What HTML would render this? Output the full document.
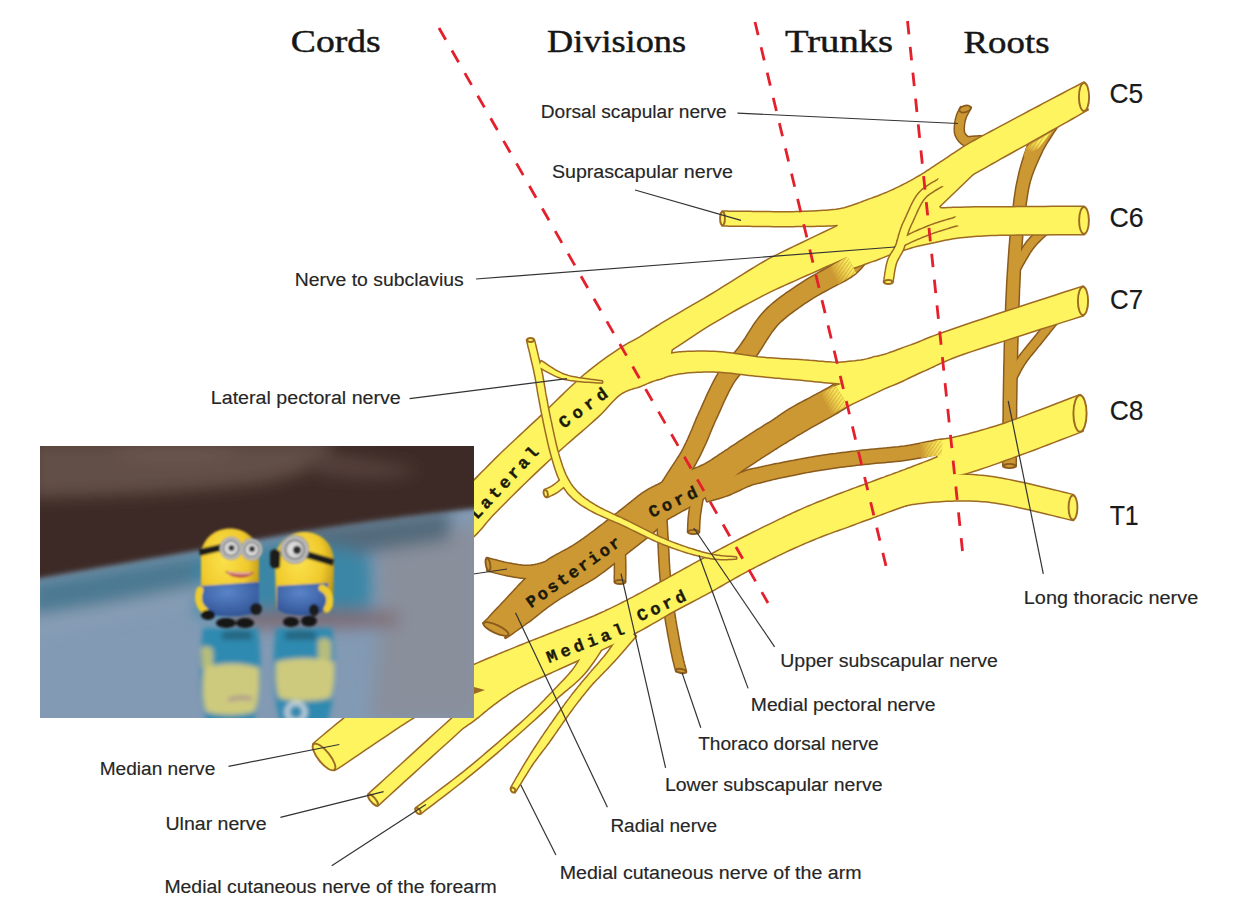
<!DOCTYPE html>
<html><head><meta charset="utf-8"><style>
html,body{margin:0;padding:0;background:#fff;}
svg{display:block;}
</style></head><body>
<svg width="1242" height="922" viewBox="0 0 1242 922">
<rect width="1242" height="922" fill="#fff"/>
<path d="M1032.9,127.2 L1039.8,114.4 L1039.2,116.1 L1038.5,118.1 L1037.6,120.4 L1036.6,122.9 L1035.5,125.6 L1034.4,128.4 L1033.3,131.3 L1032.2,134.3 L1031.1,137.2 L1030.0,140.2 L1029.1,143.1 L1028.1,145.8 L1027.1,148.5 L1026.2,151.3 L1025.2,154.1 L1024.2,157.0 L1023.3,160.0 L1022.4,163.0 L1021.5,166.0 L1020.6,169.1 L1019.8,172.2 L1019.1,175.4 L1018.4,178.6 L1017.7,181.9 L1017.0,185.1 L1016.4,188.3 L1015.9,191.6 L1015.4,194.9 L1014.9,198.2 L1014.5,201.6 L1014.1,205.0 L1013.7,208.5 L1013.3,212.1 L1012.9,215.7 L1012.5,219.4 L1012.1,223.2 L1011.7,227.1 L1011.3,231.0 L1010.9,235.1 L1010.5,239.2 L1010.2,243.3 L1009.8,247.5 L1009.5,251.8 L1009.2,256.2 L1008.9,260.6 L1008.6,265.1 L1008.3,269.7 L1008.0,274.3 L1007.7,279.0 L1007.4,283.8 L1007.2,288.6 L1007.0,293.5 L1006.7,298.5 L1006.5,303.6 L1006.3,308.7 L1006.1,313.9 L1005.9,319.1 L1005.7,324.4 L1005.5,329.8 L1005.3,335.3 L1005.2,341.0 L1005.0,346.7 L1004.9,352.6 L1004.8,358.5 L1004.6,364.5 L1004.5,370.5 L1004.4,376.5 L1004.3,382.4 L1004.2,388.3 L1004.1,394.2 L1004.0,399.9 L1003.9,405.8 L1003.9,411.9 L1003.8,418.3 L1003.7,424.7 L1003.7,431.1 L1003.7,437.3 L1003.6,443.3 L1003.6,449.0 L1003.6,454.2 L1003.5,458.8 L1003.5,462.8 L1003.5,466.0 L1015.5,466.0 L1015.5,462.9 L1015.5,458.9 L1015.6,454.3 L1015.6,449.1 L1015.6,443.4 L1015.7,437.4 L1015.7,431.2 L1015.7,424.8 L1015.8,418.4 L1015.9,412.1 L1015.9,405.9 L1016.0,400.1 L1016.1,394.4 L1016.2,388.5 L1016.3,382.7 L1016.4,376.7 L1016.5,370.7 L1016.6,364.8 L1016.8,358.8 L1016.9,352.9 L1017.0,347.0 L1017.2,341.3 L1017.3,335.7 L1017.5,330.2 L1017.6,324.8 L1017.8,319.5 L1018.0,314.3 L1018.1,309.1 L1018.3,304.0 L1018.5,299.0 L1018.7,294.0 L1018.8,289.2 L1019.1,284.3 L1019.3,279.6 L1019.5,274.9 L1019.7,270.3 L1020.0,265.8 L1020.3,261.3 L1020.5,256.9 L1020.8,252.6 L1021.1,248.4 L1021.4,244.2 L1021.7,240.1 L1022.0,236.0 L1022.4,232.1 L1022.7,228.2 L1023.1,224.4 L1023.5,220.6 L1023.9,216.9 L1024.3,213.3 L1024.7,209.8 L1025.2,206.4 L1025.6,203.0 L1026.1,199.8 L1026.6,196.6 L1027.1,193.4 L1027.6,190.4 L1028.2,187.3 L1028.9,184.3 L1029.6,181.4 L1030.5,178.5 L1031.4,175.6 L1032.4,172.8 L1033.5,170.0 L1034.6,167.3 L1035.7,164.5 L1036.9,161.9 L1038.1,159.2 L1039.3,156.6 L1040.5,154.0 L1041.7,151.4 L1042.9,148.9 L1044.3,146.5 L1045.7,144.1 L1047.2,141.6 L1048.8,139.1 L1050.4,136.6 L1052.0,134.1 L1053.5,131.8 L1055.0,129.6 L1056.4,127.6 L1057.7,125.8 L1058.8,124.3 L1067.1,108.8 Z" fill="#8a5b1c" stroke="#8a5b1c" stroke-width="3.0" stroke-linejoin="round"/>
<path d="M1044.2,225.1 L1043.4,225.9 L1042.4,226.8 L1041.2,228.0 L1039.8,229.2 L1038.3,230.6 L1036.6,232.2 L1034.9,233.8 L1033.2,235.4 L1031.5,237.2 L1029.9,238.9 L1028.3,240.7 L1026.8,242.5 L1025.4,244.5 L1024.0,246.5 L1022.6,248.7 L1021.2,251.0 L1019.8,253.3 L1018.5,255.6 L1017.2,257.8 L1016.0,259.9 L1015.0,261.8 L1014.0,263.5 L1013.2,264.9 L1012.6,266.0 L1019.4,270.0 L1020.1,268.9 L1021.0,267.4 L1021.9,265.7 L1023.0,263.8 L1024.2,261.7 L1025.4,259.6 L1026.7,257.4 L1028.0,255.2 L1029.3,253.0 L1030.7,251.0 L1031.9,249.1 L1033.2,247.5 L1034.4,245.9 L1035.8,244.3 L1037.3,242.7 L1038.9,241.1 L1040.5,239.5 L1042.1,238.0 L1043.7,236.5 L1045.2,235.1 L1046.6,233.9 L1047.8,232.7 L1048.9,231.7 L1049.8,230.9 Z" fill="#8a5b1c" stroke="#8a5b1c" stroke-width="3.0" stroke-linejoin="round"/>
<path d="M1050.9,317.5 L1050.1,318.5 L1049.1,319.7 L1048.0,321.1 L1046.7,322.7 L1045.3,324.4 L1043.9,326.3 L1042.4,328.2 L1040.8,330.1 L1039.3,332.0 L1037.7,333.9 L1036.3,335.8 L1034.9,337.5 L1033.5,339.2 L1032.2,340.8 L1030.8,342.5 L1029.3,344.3 L1027.9,346.0 L1026.5,347.7 L1025.1,349.4 L1023.7,351.1 L1022.4,352.8 L1021.1,354.5 L1019.9,356.1 L1018.7,357.7 L1017.6,359.3 L1016.6,361.0 L1015.6,362.6 L1014.7,364.3 L1013.8,365.8 L1013.0,367.4 L1012.2,368.8 L1011.5,370.2 L1010.9,371.4 L1010.3,372.5 L1009.9,373.4 L1009.5,374.1 L1016.5,377.9 L1016.9,377.1 L1017.5,376.1 L1018.0,375.0 L1018.6,373.8 L1019.3,372.5 L1020.0,371.1 L1020.8,369.7 L1021.6,368.2 L1022.5,366.7 L1023.4,365.2 L1024.3,363.7 L1025.3,362.3 L1026.3,360.8 L1027.4,359.3 L1028.7,357.7 L1029.9,356.1 L1031.3,354.5 L1032.7,352.8 L1034.1,351.1 L1035.5,349.4 L1036.9,347.6 L1038.3,345.9 L1039.7,344.2 L1041.1,342.5 L1042.5,340.8 L1044.0,338.9 L1045.5,337.0 L1047.0,335.1 L1048.6,333.2 L1050.1,331.2 L1051.6,329.4 L1053.0,327.7 L1054.2,326.1 L1055.4,324.7 L1056.4,323.5 L1057.1,322.5 Z" fill="#8a5b1c" stroke="#8a5b1c" stroke-width="3.0" stroke-linejoin="round"/>
<path d="M995.8,135.8 L994.8,135.8 L993.5,135.9 L991.9,136.0 L990.2,136.1 L988.4,136.2 L986.4,136.3 L984.4,136.4 L982.5,136.5 L980.6,136.6 L978.8,136.6 L977.2,136.7 L975.8,136.8 L974.5,136.8 L973.4,136.9 L972.3,137.0 L971.3,137.1 L970.5,137.2 L969.8,137.3 L969.2,137.3 L968.8,137.3 L968.4,137.3 L968.2,137.3 L967.9,137.2 L967.7,137.1 L967.4,137.0 L967.1,136.8 L966.8,136.5 L966.4,136.2 L966.1,135.8 L965.7,135.4 L965.3,134.9 L965.0,134.4 L964.7,133.9 L964.4,133.4 L964.1,132.9 L964.0,132.4 L963.8,132.1 L963.7,131.7 L963.6,131.2 L963.6,130.7 L963.5,130.2 L963.5,129.6 L963.5,128.9 L963.5,128.3 L963.6,127.6 L963.6,126.8 L963.7,126.1 L963.7,125.4 L963.8,124.7 L963.9,124.1 L964.0,123.4 L964.1,122.7 L964.2,122.0 L964.4,121.3 L964.6,120.6 L964.7,120.0 L964.9,119.3 L965.1,118.6 L965.3,118.0 L965.5,117.4 L965.7,116.9 L965.9,116.3 L966.2,115.8 L966.5,115.2 L966.8,114.6 L967.1,114.0 L967.4,113.4 L967.7,112.8 L968.0,112.3 L968.3,111.8 L968.6,111.3 L970.6,107.5 L959.4,110.5 L961.1,107.3 L960.9,107.7 L960.6,108.1 L960.3,108.7 L960.0,109.3 L959.6,109.9 L959.3,110.6 L958.9,111.4 L958.5,112.1 L958.1,112.9 L957.8,113.8 L957.5,114.6 L957.2,115.4 L957.0,116.1 L956.8,116.9 L956.5,117.8 L956.3,118.6 L956.1,119.4 L955.9,120.3 L955.7,121.1 L955.6,122.0 L955.5,122.9 L955.4,123.8 L955.3,124.6 L955.2,125.4 L955.1,126.2 L955.1,127.0 L955.0,127.9 L955.0,128.8 L955.0,129.7 L955.0,130.6 L955.1,131.6 L955.2,132.6 L955.4,133.6 L955.7,134.6 L956.0,135.6 L956.4,136.5 L956.9,137.3 L957.4,138.2 L957.9,139.1 L958.5,139.9 L959.1,140.7 L959.8,141.5 L960.6,142.3 L961.4,143.1 L962.3,143.7 L963.2,144.4 L964.3,144.9 L965.4,145.3 L966.5,145.6 L967.5,145.7 L968.6,145.8 L969.5,145.8 L970.5,145.7 L971.3,145.7 L972.2,145.6 L973.1,145.5 L974.1,145.4 L975.1,145.3 L976.2,145.2 L977.6,145.2 L979.2,145.1 L981.0,145.0 L982.9,144.9 L984.9,144.8 L986.8,144.7 L988.8,144.6 L990.7,144.5 L992.4,144.4 L993.9,144.4 L995.2,144.3 L996.2,144.2 Z" fill="#8a5b1c" stroke="#8a5b1c" stroke-width="3.0" stroke-linejoin="round"/>
<path d="M849.6,250.3 L848.9,251.1 L848.1,252.2 L847.5,253.1 L847.0,253.9 L846.4,254.6 L845.9,255.4 L845.2,256.2 L844.5,257.0 L843.6,257.9 L842.5,258.9 L841.2,260.0 L839.7,261.1 L837.8,262.4 L835.6,263.8 L832.9,265.3 L830.1,266.9 L826.9,268.6 L823.7,270.4 L820.3,272.3 L816.8,274.2 L813.3,276.2 L809.8,278.2 L806.4,280.3 L803.1,282.4 L800.0,284.5 L796.8,286.6 L793.6,288.7 L790.4,290.9 L787.2,293.1 L783.9,295.4 L780.7,297.7 L777.5,300.2 L774.4,302.7 L771.4,305.3 L768.4,307.9 L765.6,310.7 L762.8,313.7 L760.3,316.7 L757.9,319.8 L755.6,322.9 L753.5,326.1 L751.5,329.2 L749.6,332.2 L747.8,335.1 L746.0,338.0 L744.2,340.7 L742.5,343.2 L740.8,345.6 L739.1,347.9 L737.3,350.1 L735.6,352.2 L733.8,354.3 L732.0,356.4 L730.1,358.5 L728.2,360.7 L726.3,363.0 L724.4,365.4 L722.5,367.9 L720.6,370.6 L718.8,373.5 L717.0,376.5 L715.2,379.7 L713.5,382.9 L711.8,386.3 L710.2,389.7 L708.6,393.0 L707.0,396.4 L705.6,399.7 L704.1,402.9 L702.8,405.9 L701.5,408.8 L700.3,411.5 L699.1,414.0 L698.0,416.5 L696.9,418.9 L696.0,421.2 L695.1,423.4 L694.2,425.5 L693.4,427.5 L692.6,429.5 L691.8,431.3 L691.0,433.1 L690.3,434.8 L689.5,436.5 L688.8,438.2 L688.1,439.8 L687.4,441.2 L686.8,442.6 L686.1,444.0 L685.5,445.2 L684.9,446.5 L684.3,447.7 L683.7,449.0 L683.0,450.2 L682.3,451.5 L681.6,452.9 L680.8,454.2 L679.9,455.5 L679.1,456.9 L678.2,458.2 L677.3,459.6 L676.4,461.0 L675.4,462.5 L674.4,464.0 L673.4,465.5 L672.4,467.1 L671.3,468.7 L670.3,470.4 L669.1,472.1 L667.9,474.0 L666.6,476.0 L665.3,478.1 L664.0,480.2 L662.6,482.3 L661.3,484.3 L660.1,486.2 L659.0,488.0 L658.0,489.6 L657.1,490.9 L656.4,491.9 L673.6,502.1 L674.2,501.0 L674.9,499.5 L675.8,497.9 L676.8,496.0 L677.9,494.1 L679.0,491.9 L680.2,489.8 L681.4,487.6 L682.5,485.4 L683.7,483.4 L684.7,481.4 L685.7,479.6 L686.6,478.0 L687.6,476.5 L688.5,474.9 L689.4,473.4 L690.3,471.9 L691.2,470.3 L692.1,468.8 L693.0,467.3 L693.9,465.8 L694.7,464.3 L695.6,462.7 L696.4,461.1 L697.3,459.6 L698.0,458.2 L698.8,456.8 L699.5,455.4 L700.2,454.0 L700.8,452.6 L701.5,451.2 L702.2,449.8 L702.8,448.3 L703.5,446.8 L704.3,445.2 L705.1,443.5 L705.9,441.6 L706.7,439.8 L707.5,437.9 L708.3,435.9 L709.1,434.0 L709.9,432.0 L710.8,429.9 L711.6,427.8 L712.6,425.6 L713.5,423.4 L714.6,421.0 L715.7,418.5 L717.0,415.8 L718.3,412.9 L719.7,409.8 L721.1,406.7 L722.5,403.4 L724.0,400.2 L725.5,397.0 L727.1,393.8 L728.6,390.7 L730.2,387.8 L731.7,385.0 L733.2,382.5 L734.7,380.2 L736.3,378.1 L737.9,376.1 L739.6,374.1 L741.3,372.1 L743.2,370.1 L745.0,368.1 L747.0,366.0 L749.0,363.8 L751.0,361.5 L753.1,359.1 L755.2,356.4 L757.3,353.6 L759.2,350.6 L761.2,347.7 L763.0,344.7 L764.9,341.8 L766.7,338.8 L768.6,336.0 L770.4,333.2 L772.3,330.5 L774.3,328.0 L776.3,325.6 L778.4,323.3 L780.7,321.0 L783.2,318.8 L785.9,316.6 L788.6,314.3 L791.5,312.2 L794.4,310.0 L797.5,307.9 L800.5,305.7 L803.6,303.6 L806.8,301.6 L809.9,299.5 L812.9,297.6 L815.9,295.7 L819.0,293.9 L822.2,292.1 L825.6,290.3 L829.0,288.5 L832.3,286.7 L835.7,285.0 L838.9,283.3 L842.0,281.7 L845.0,280.1 L847.7,278.5 L850.3,276.9 L852.6,275.3 L854.7,273.8 L856.5,272.2 L858.1,270.7 L859.5,269.3 L860.8,268.0 L861.8,266.7 L862.7,265.7 L863.4,264.8 L863.9,264.2 L864.1,264.0 L864.4,263.7 Z" fill="#8a5b1c" stroke="#8a5b1c" stroke-width="3.0" stroke-linejoin="round"/>
<path d="M854.5,369.6 L853.4,370.5 L852.0,371.5 L850.6,372.7 L849.1,373.9 L847.5,375.2 L845.8,376.6 L844.0,378.0 L842.0,379.5 L840.0,381.0 L837.8,382.5 L835.6,384.0 L833.3,385.4 L830.7,387.0 L827.7,388.7 L824.3,390.6 L820.8,392.6 L817.0,394.6 L813.2,396.6 L809.4,398.7 L805.6,400.7 L802.0,402.6 L798.5,404.4 L795.3,406.2 L792.5,407.8 L790.0,409.2 L787.9,410.6 L785.9,411.8 L784.2,412.9 L782.6,414.0 L781.2,415.0 L779.9,415.9 L778.6,416.8 L777.4,417.7 L776.1,418.6 L774.8,419.5 L773.3,420.4 L771.8,421.4 L770.2,422.4 L768.6,423.4 L767.0,424.3 L765.4,425.3 L763.8,426.3 L762.1,427.4 L760.5,428.4 L758.7,429.5 L756.9,430.6 L755.1,431.8 L753.2,433.0 L751.3,434.2 L749.3,435.5 L747.2,436.9 L745.1,438.3 L743.0,439.7 L740.8,441.1 L738.6,442.5 L736.5,444.0 L734.3,445.4 L732.1,446.8 L730.0,448.3 L728.0,449.7 L725.8,451.0 L723.7,452.4 L721.7,453.8 L719.7,455.1 L717.7,456.4 L715.7,457.7 L713.8,459.0 L712.0,460.2 L710.1,461.4 L708.3,462.5 L706.6,463.5 L704.9,464.5 L703.1,465.4 L701.3,466.2 L699.5,467.0 L697.7,467.8 L695.8,468.5 L694.0,469.3 L692.2,470.0 L690.3,470.8 L688.4,471.5 L686.5,472.3 L684.6,473.0 L682.6,473.8 L680.8,474.6 L679.0,475.5 L677.1,476.3 L675.1,477.2 L673.2,478.1 L671.2,478.9 L669.3,479.8 L667.4,480.6 L665.5,481.5 L663.6,482.3 L661.8,483.1 L660.1,483.9 L658.7,484.7 L657.3,485.3 L656.0,485.9 L654.8,486.5 L653.5,487.2 L652.2,487.8 L650.9,488.5 L649.5,489.2 L648.1,490.0 L646.7,490.9 L645.3,491.8 L643.8,492.8 L642.2,493.8 L640.7,494.9 L639.3,496.0 L638.0,497.0 L636.8,497.9 L635.7,498.9 L634.6,499.7 L633.5,500.6 L632.4,501.5 L631.2,502.5 L629.9,503.5 L628.3,504.7 L626.6,506.1 L624.6,507.7 L622.4,509.4 L620.1,511.2 L617.8,513.1 L615.3,515.0 L612.8,516.9 L610.3,518.9 L607.8,520.8 L605.4,522.7 L603.0,524.6 L600.7,526.3 L598.4,528.0 L596.2,529.7 L594.0,531.4 L591.8,533.0 L589.6,534.6 L587.5,536.2 L585.4,537.7 L583.4,539.2 L581.4,540.6 L579.4,542.0 L577.4,543.3 L575.5,544.6 L573.6,545.7 L571.7,546.9 L569.7,548.0 L567.7,549.2 L565.5,550.4 L563.3,551.5 L561.1,552.7 L558.8,554.0 L556.5,555.2 L554.2,556.5 L551.9,557.9 L549.6,559.3 L547.6,560.7 L545.7,562.1 L543.9,563.4 L542.2,564.8 L540.4,566.1 L538.7,567.5 L537.0,568.8 L535.4,570.2 L533.7,571.6 L532.0,573.0 L530.4,574.5 L528.6,576.0 L526.9,577.7 L525.2,579.4 L523.5,581.1 L521.9,582.8 L520.3,584.4 L518.7,586.1 L517.2,587.8 L515.6,589.4 L514.1,591.1 L512.5,592.7 L511.0,594.4 L509.4,596.0 L507.7,597.9 L505.8,600.0 L503.7,602.2 L501.6,604.4 L499.5,606.7 L497.4,608.9 L495.3,611.1 L493.4,613.1 L491.6,615.1 L490.1,616.8 L488.8,618.3 L483.6,623.3 L508.4,634.7 L505.6,637.6 L507.3,636.5 L509.2,635.2 L511.4,633.7 L513.7,632.1 L516.1,630.4 L518.6,628.6 L521.2,626.7 L523.7,624.9 L526.1,623.1 L528.5,621.5 L530.6,620.0 L532.6,618.4 L534.6,616.8 L536.5,615.3 L538.3,613.9 L540.1,612.4 L541.8,611.1 L543.5,609.7 L545.1,608.5 L546.7,607.3 L548.3,606.1 L549.8,605.0 L551.4,604.0 L552.9,602.8 L554.5,601.8 L556.0,600.7 L557.5,599.7 L559.0,598.7 L560.5,597.8 L562.1,596.8 L563.6,595.9 L565.2,594.9 L566.9,593.9 L568.6,592.9 L570.4,591.9 L572.0,590.9 L573.8,589.8 L575.6,588.7 L577.6,587.5 L579.7,586.3 L581.9,585.1 L584.2,583.8 L586.6,582.4 L589.0,581.0 L591.5,579.5 L594.0,577.9 L596.5,576.2 L598.9,574.6 L601.2,572.9 L603.5,571.2 L605.8,569.5 L608.0,567.8 L610.2,566.0 L612.4,564.3 L614.6,562.6 L616.8,560.9 L618.9,559.1 L621.1,557.4 L623.3,555.7 L625.6,553.9 L628.0,552.0 L630.5,550.1 L633.1,548.1 L635.6,546.1 L638.2,544.1 L640.7,542.1 L643.1,540.2 L645.5,538.3 L647.7,536.6 L649.7,534.9 L651.7,533.3 L653.5,531.8 L655.1,530.3 L656.6,528.9 L657.9,527.6 L659.0,526.4 L660.0,525.4 L660.9,524.5 L661.7,523.7 L662.3,523.0 L662.9,522.4 L663.5,521.8 L664.2,521.2 L665.0,520.6 L665.7,520.1 L666.5,519.6 L667.2,519.1 L668.0,518.6 L668.8,518.1 L669.7,517.5 L670.7,516.9 L671.8,516.3 L673.1,515.6 L674.4,514.9 L675.9,514.1 L677.3,513.2 L678.8,512.4 L680.4,511.5 L682.1,510.5 L683.9,509.6 L685.8,508.6 L687.7,507.5 L689.6,506.5 L691.6,505.4 L693.5,504.4 L695.5,503.3 L697.4,502.2 L699.1,501.1 L700.8,499.9 L702.5,498.8 L704.3,497.7 L706.1,496.5 L707.9,495.3 L709.7,494.1 L711.5,492.9 L713.4,491.6 L715.3,490.3 L717.2,488.9 L719.1,487.5 L721.2,486.1 L723.2,484.7 L725.1,483.2 L727.1,481.8 L729.0,480.3 L730.9,478.8 L732.8,477.4 L734.6,475.9 L736.5,474.5 L738.3,473.1 L740.2,471.7 L742.0,470.3 L744.0,469.0 L746.1,467.6 L748.2,466.2 L750.3,464.8 L752.4,463.4 L754.6,462.0 L756.7,460.6 L758.8,459.2 L760.9,457.8 L762.9,456.5 L764.9,455.2 L766.8,454.0 L768.6,452.9 L770.3,451.7 L772.0,450.7 L773.7,449.6 L775.3,448.6 L777.0,447.6 L778.6,446.6 L780.2,445.6 L781.8,444.6 L783.4,443.6 L785.0,442.6 L786.7,441.6 L788.3,440.6 L789.8,439.6 L791.3,438.8 L792.6,437.9 L793.9,437.1 L795.2,436.3 L796.5,435.5 L797.9,434.6 L799.5,433.7 L801.3,432.7 L803.3,431.5 L805.5,430.2 L808.1,428.7 L811.0,427.0 L814.3,425.2 L817.9,423.2 L821.6,421.1 L825.4,419.0 L829.3,416.9 L833.1,414.7 L836.8,412.6 L840.3,410.5 L843.7,408.5 L846.7,406.6 L849.5,404.7 L852.2,402.8 L854.7,400.9 L857.1,399.0 L859.3,397.2 L861.3,395.5 L863.2,393.9 L864.9,392.5 L866.3,391.1 L867.6,390.0 L868.6,389.1 L869.5,388.4 Z" fill="#8a5b1c" stroke="#8a5b1c" stroke-width="3.0" stroke-linejoin="round"/>
<path d="M945.0,440.1 L944.5,440.1 L944.0,440.1 L943.5,440.1 L942.8,440.1 L942.1,440.2 L941.3,440.2 L940.4,440.3 L939.3,440.4 L938.2,440.6 L936.9,440.7 L935.4,440.9 L933.8,441.1 L932.0,441.5 L930.0,441.9 L927.9,442.3 L925.8,442.8 L923.5,443.3 L921.1,443.8 L918.6,444.3 L916.0,444.8 L913.3,445.3 L910.5,445.8 L907.6,446.2 L904.6,446.7 L901.5,447.1 L898.1,447.5 L894.5,447.8 L890.7,448.2 L886.8,448.6 L882.8,448.9 L878.8,449.3 L874.8,449.7 L870.7,450.1 L866.8,450.4 L863.0,450.8 L859.3,451.2 L855.7,451.7 L852.2,452.1 L848.8,452.5 L845.5,452.9 L842.1,453.3 L838.8,453.7 L835.5,454.2 L832.2,454.6 L828.9,455.1 L825.6,455.6 L822.3,456.1 L819.0,456.6 L815.5,457.1 L812.0,457.7 L808.4,458.3 L804.7,459.0 L801.1,459.6 L797.5,460.3 L794.0,461.0 L790.6,461.6 L787.3,462.2 L784.2,462.8 L781.3,463.4 L778.7,463.9 L776.3,464.3 L774.0,464.8 L772.0,465.2 L770.1,465.6 L768.4,466.0 L766.8,466.3 L765.3,466.6 L763.8,467.0 L762.4,467.3 L761.1,467.6 L759.7,467.9 L758.4,468.2 L757.1,468.5 L756.0,468.7 L754.9,468.9 L753.9,469.1 L752.9,469.3 L751.9,469.5 L750.8,469.7 L749.7,470.0 L748.5,470.3 L747.2,470.7 L745.8,471.2 L744.2,471.7 L742.6,472.4 L740.8,473.1 L738.9,473.9 L737.1,474.7 L735.2,475.5 L733.2,476.4 L731.3,477.3 L729.4,478.1 L727.5,478.9 L725.7,479.7 L724.0,480.4 L722.4,481.0 L720.7,481.6 L719.0,482.1 L717.2,482.7 L715.3,483.3 L713.4,483.9 L711.6,484.4 L709.8,484.9 L708.1,485.3 L706.6,485.8 L705.2,486.2 L703.9,486.5 L702.9,486.8 L707.1,501.2 L708.0,500.9 L709.2,500.6 L710.5,500.2 L712.1,499.8 L713.8,499.3 L715.7,498.8 L717.6,498.3 L719.6,497.7 L721.6,497.0 L723.7,496.4 L725.7,495.7 L727.6,495.0 L729.6,494.3 L731.5,493.4 L733.5,492.5 L735.5,491.6 L737.5,490.7 L739.4,489.8 L741.3,488.9 L743.1,488.0 L744.9,487.2 L746.5,486.5 L748.0,485.8 L749.4,485.3 L750.6,484.8 L751.7,484.4 L752.6,484.1 L753.5,483.8 L754.3,483.6 L755.1,483.4 L756.0,483.2 L756.9,482.9 L757.9,482.7 L759.0,482.4 L760.3,482.2 L761.6,481.8 L763.0,481.5 L764.4,481.1 L765.7,480.8 L767.0,480.4 L768.4,480.1 L769.9,479.7 L771.4,479.3 L773.1,478.9 L774.9,478.5 L776.8,478.1 L779.0,477.6 L781.3,477.1 L784.0,476.6 L786.8,476.0 L789.9,475.3 L793.1,474.7 L796.5,474.0 L800.0,473.3 L803.5,472.6 L807.1,471.9 L810.7,471.2 L814.2,470.6 L817.7,470.0 L821.0,469.4 L824.3,468.9 L827.6,468.4 L830.8,467.9 L834.0,467.5 L837.3,467.0 L840.5,466.6 L843.8,466.2 L847.1,465.8 L850.4,465.4 L853.8,465.0 L857.2,464.6 L860.7,464.2 L864.3,463.8 L868.1,463.4 L872.0,463.0 L875.9,462.6 L880.0,462.3 L884.0,461.9 L888.0,461.5 L891.9,461.2 L895.8,460.8 L899.5,460.4 L903.0,460.0 L906.4,459.5 L909.6,459.1 L912.6,458.6 L915.6,458.1 L918.4,457.6 L921.1,457.0 L923.7,456.5 L926.2,456.0 L928.5,455.5 L930.7,455.0 L932.7,454.6 L934.5,454.2 L936.2,453.9 L937.8,453.5 L939.2,453.2 L940.4,452.8 L941.5,452.6 L942.5,452.3 L943.4,452.1 L944.2,451.8 L944.8,451.6 L945.5,451.4 L946.0,451.3 L946.5,451.1 L947.0,450.9 Z" fill="#8a5b1c" stroke="#8a5b1c" stroke-width="3.0" stroke-linejoin="round"/>
<path d="M566.6,551.7 L565.6,552.3 L564.4,553.0 L563.0,553.7 L561.5,554.6 L559.9,555.5 L558.1,556.4 L556.4,557.3 L554.6,558.2 L552.8,559.1 L551.1,559.9 L549.5,560.7 L547.9,561.3 L546.4,561.9 L544.8,562.4 L543.3,562.9 L541.7,563.4 L540.2,563.9 L538.7,564.3 L537.2,564.7 L535.7,565.0 L534.3,565.4 L532.8,565.6 L531.3,565.8 L529.8,566.0 L528.3,566.0 L526.7,566.0 L525.1,566.0 L523.5,565.9 L521.8,565.7 L520.1,565.5 L518.3,565.3 L516.6,565.0 L514.8,564.7 L513.1,564.4 L511.3,564.1 L509.5,563.8 L507.8,563.5 L506.0,563.1 L504.1,562.7 L502.2,562.2 L500.3,561.8 L498.3,561.3 L496.5,560.8 L494.8,560.3 L493.1,559.9 L491.7,559.5 L490.4,559.2 L486.9,558.3 L489.1,570.7 L487.5,570.3 L488.7,570.6 L490.2,571.0 L491.8,571.4 L493.6,571.9 L495.5,572.4 L497.4,572.9 L499.5,573.4 L501.5,573.9 L503.6,574.4 L505.6,574.8 L507.5,575.2 L509.2,575.5 L511.0,575.8 L512.9,576.2 L514.7,576.5 L516.6,576.8 L518.5,577.1 L520.4,577.4 L522.3,577.6 L524.3,577.8 L526.3,577.9 L528.2,578.0 L530.2,578.0 L532.2,578.0 L534.1,577.9 L536.0,577.7 L537.8,577.5 L539.7,577.3 L541.5,577.0 L543.3,576.7 L545.0,576.3 L546.8,575.9 L548.6,575.5 L550.3,575.1 L552.1,574.7 L554.0,574.2 L556.1,573.7 L558.2,573.1 L560.3,572.5 L562.3,571.8 L564.4,571.1 L566.3,570.5 L568.1,569.9 L569.8,569.3 L571.3,568.9 L572.5,568.5 L573.4,568.3 Z" fill="#8a5b1c" stroke="#8a5b1c" stroke-width="3.0" stroke-linejoin="round"/>
<path d="M692.8,493.1 L692.7,494.1 L692.4,495.4 L692.1,496.9 L691.8,498.7 L691.5,500.5 L691.1,502.5 L690.8,504.6 L690.4,506.7 L690.1,508.7 L689.8,510.7 L689.5,512.6 L689.3,514.4 L689.1,516.1 L688.9,517.8 L688.8,519.6 L688.7,521.3 L688.6,523.0 L688.5,524.6 L688.5,526.1 L688.4,527.6 L688.4,528.9 L688.3,530.0 L688.3,531.0 L688.2,532.0 L698.8,532.0 L698.8,531.4 L698.8,530.4 L698.9,529.2 L698.9,527.9 L699.0,526.5 L699.0,525.0 L699.1,523.5 L699.2,521.9 L699.3,520.3 L699.4,518.7 L699.6,517.1 L699.7,515.6 L699.9,514.0 L700.2,512.3 L700.5,510.4 L700.8,508.4 L701.1,506.4 L701.5,504.3 L701.8,502.4 L702.2,500.5 L702.5,498.8 L702.8,497.3 L703.0,495.9 L703.2,494.9 Z" fill="#8a5b1c" stroke="#8a5b1c" stroke-width="3.0" stroke-linejoin="round"/>
<path d="M614.0,540.3 L614.1,541.2 L614.1,542.4 L614.2,543.8 L614.3,545.4 L614.4,547.1 L614.5,548.9 L614.6,550.8 L614.7,552.7 L614.8,554.6 L614.9,556.5 L615.0,558.4 L615.0,560.1 L615.0,561.9 L615.1,563.8 L615.1,565.9 L615.1,568.0 L615.1,570.1 L615.1,572.2 L615.1,574.3 L615.0,576.2 L615.0,578.0 L615.0,579.5 L615.0,580.9 L615.0,582.0 L625.0,582.0 L625.0,581.0 L625.0,579.6 L625.0,578.0 L625.0,576.3 L625.1,574.3 L625.1,572.3 L625.1,570.2 L625.1,568.0 L625.1,565.9 L625.1,563.8 L625.0,561.8 L625.0,559.9 L624.9,558.0 L624.9,556.1 L624.8,554.2 L624.7,552.2 L624.6,550.2 L624.5,548.3 L624.4,546.5 L624.3,544.8 L624.2,543.3 L624.1,541.9 L624.0,540.7 L624.0,539.7 Z" fill="#8a5b1c" stroke="#8a5b1c" stroke-width="3.0" stroke-linejoin="round"/>
<path d="M656.5,508.3 L656.6,509.8 L656.7,511.7 L656.9,514.0 L657.0,516.5 L657.2,519.2 L657.4,522.1 L657.6,525.1 L657.8,528.2 L658.0,531.3 L658.2,534.4 L658.3,537.4 L658.5,540.3 L658.7,543.1 L658.8,545.9 L659.0,548.8 L659.1,551.7 L659.2,554.6 L659.4,557.5 L659.5,560.5 L659.7,563.5 L659.9,566.5 L660.1,569.4 L660.3,572.4 L660.5,575.4 L660.8,578.3 L661.0,581.2 L661.3,584.1 L661.6,586.9 L661.9,589.8 L662.2,592.7 L662.6,595.6 L662.9,598.5 L663.3,601.5 L663.7,604.5 L664.1,607.5 L664.5,610.7 L665.0,613.9 L665.6,617.3 L666.1,620.8 L666.7,624.4 L667.4,628.0 L668.0,631.7 L668.6,635.2 L669.3,638.7 L669.9,642.0 L670.5,645.2 L671.1,648.2 L671.6,650.9 L672.1,653.4 L672.6,655.8 L673.1,658.1 L673.6,660.2 L674.1,662.2 L674.6,664.1 L675.0,665.8 L675.4,667.4 L675.8,668.8 L676.1,670.1 L676.4,671.1 L676.2,670.1 L685.8,671.9 L685.1,668.9 L684.8,667.8 L684.5,666.5 L684.1,665.1 L683.7,663.6 L683.3,661.9 L682.8,660.1 L682.4,658.1 L681.9,656.1 L681.4,653.9 L680.9,651.6 L680.4,649.1 L679.9,646.5 L679.3,643.5 L678.7,640.4 L678.1,637.1 L677.5,633.6 L676.9,630.1 L676.2,626.5 L675.6,622.9 L675.0,619.4 L674.5,615.9 L673.9,612.5 L673.5,609.3 L673.0,606.3 L672.6,603.3 L672.2,600.3 L671.8,597.4 L671.5,594.5 L671.2,591.7 L670.8,588.8 L670.6,586.0 L670.3,583.2 L670.0,580.4 L669.7,577.5 L669.5,574.6 L669.3,571.7 L669.0,568.8 L668.9,565.9 L668.7,563.0 L668.5,560.0 L668.4,557.1 L668.2,554.2 L668.1,551.2 L667.9,548.3 L667.8,545.4 L667.7,542.6 L667.5,539.7 L667.3,536.9 L667.1,533.8 L666.9,530.8 L666.8,527.6 L666.6,524.6 L666.4,521.5 L666.2,518.6 L666.0,515.9 L665.9,513.4 L665.7,511.2 L665.6,509.3 L665.5,507.7 Z" fill="#8a5b1c" stroke="#8a5b1c" stroke-width="3.0" stroke-linejoin="round"/>
<path d="M1032.9,127.2 L1039.8,114.4 L1039.2,116.1 L1038.5,118.1 L1037.6,120.4 L1036.6,122.9 L1035.5,125.6 L1034.4,128.4 L1033.3,131.3 L1032.2,134.3 L1031.1,137.2 L1030.0,140.2 L1029.1,143.1 L1028.1,145.8 L1027.1,148.5 L1026.2,151.3 L1025.2,154.1 L1024.2,157.0 L1023.3,160.0 L1022.4,163.0 L1021.5,166.0 L1020.6,169.1 L1019.8,172.2 L1019.1,175.4 L1018.4,178.6 L1017.7,181.9 L1017.0,185.1 L1016.4,188.3 L1015.9,191.6 L1015.4,194.9 L1014.9,198.2 L1014.5,201.6 L1014.1,205.0 L1013.7,208.5 L1013.3,212.1 L1012.9,215.7 L1012.5,219.4 L1012.1,223.2 L1011.7,227.1 L1011.3,231.0 L1010.9,235.1 L1010.5,239.2 L1010.2,243.3 L1009.8,247.5 L1009.5,251.8 L1009.2,256.2 L1008.9,260.6 L1008.6,265.1 L1008.3,269.7 L1008.0,274.3 L1007.7,279.0 L1007.4,283.8 L1007.2,288.6 L1007.0,293.5 L1006.7,298.5 L1006.5,303.6 L1006.3,308.7 L1006.1,313.9 L1005.9,319.1 L1005.7,324.4 L1005.5,329.8 L1005.3,335.3 L1005.2,341.0 L1005.0,346.7 L1004.9,352.6 L1004.8,358.5 L1004.6,364.5 L1004.5,370.5 L1004.4,376.5 L1004.3,382.4 L1004.2,388.3 L1004.1,394.2 L1004.0,399.9 L1003.9,405.8 L1003.9,411.9 L1003.8,418.3 L1003.7,424.7 L1003.7,431.1 L1003.7,437.3 L1003.6,443.3 L1003.6,449.0 L1003.6,454.2 L1003.5,458.8 L1003.5,462.8 L1003.5,466.0 L1015.5,466.0 L1015.5,462.9 L1015.5,458.9 L1015.6,454.3 L1015.6,449.1 L1015.6,443.4 L1015.7,437.4 L1015.7,431.2 L1015.7,424.8 L1015.8,418.4 L1015.9,412.1 L1015.9,405.9 L1016.0,400.1 L1016.1,394.4 L1016.2,388.5 L1016.3,382.7 L1016.4,376.7 L1016.5,370.7 L1016.6,364.8 L1016.8,358.8 L1016.9,352.9 L1017.0,347.0 L1017.2,341.3 L1017.3,335.7 L1017.5,330.2 L1017.6,324.8 L1017.8,319.5 L1018.0,314.3 L1018.1,309.1 L1018.3,304.0 L1018.5,299.0 L1018.7,294.0 L1018.8,289.2 L1019.1,284.3 L1019.3,279.6 L1019.5,274.9 L1019.7,270.3 L1020.0,265.8 L1020.3,261.3 L1020.5,256.9 L1020.8,252.6 L1021.1,248.4 L1021.4,244.2 L1021.7,240.1 L1022.0,236.0 L1022.4,232.1 L1022.7,228.2 L1023.1,224.4 L1023.5,220.6 L1023.9,216.9 L1024.3,213.3 L1024.7,209.8 L1025.2,206.4 L1025.6,203.0 L1026.1,199.8 L1026.6,196.6 L1027.1,193.4 L1027.6,190.4 L1028.2,187.3 L1028.9,184.3 L1029.6,181.4 L1030.5,178.5 L1031.4,175.6 L1032.4,172.8 L1033.5,170.0 L1034.6,167.3 L1035.7,164.5 L1036.9,161.9 L1038.1,159.2 L1039.3,156.6 L1040.5,154.0 L1041.7,151.4 L1042.9,148.9 L1044.3,146.5 L1045.7,144.1 L1047.2,141.6 L1048.8,139.1 L1050.4,136.6 L1052.0,134.1 L1053.5,131.8 L1055.0,129.6 L1056.4,127.6 L1057.7,125.8 L1058.8,124.3 L1067.1,108.8 Z" fill="#cc9833"/>
<path d="M1044.2,225.1 L1043.4,225.9 L1042.4,226.8 L1041.2,228.0 L1039.8,229.2 L1038.3,230.6 L1036.6,232.2 L1034.9,233.8 L1033.2,235.4 L1031.5,237.2 L1029.9,238.9 L1028.3,240.7 L1026.8,242.5 L1025.4,244.5 L1024.0,246.5 L1022.6,248.7 L1021.2,251.0 L1019.8,253.3 L1018.5,255.6 L1017.2,257.8 L1016.0,259.9 L1015.0,261.8 L1014.0,263.5 L1013.2,264.9 L1012.6,266.0 L1019.4,270.0 L1020.1,268.9 L1021.0,267.4 L1021.9,265.7 L1023.0,263.8 L1024.2,261.7 L1025.4,259.6 L1026.7,257.4 L1028.0,255.2 L1029.3,253.0 L1030.7,251.0 L1031.9,249.1 L1033.2,247.5 L1034.4,245.9 L1035.8,244.3 L1037.3,242.7 L1038.9,241.1 L1040.5,239.5 L1042.1,238.0 L1043.7,236.5 L1045.2,235.1 L1046.6,233.9 L1047.8,232.7 L1048.9,231.7 L1049.8,230.9 Z" fill="#cc9833"/>
<path d="M1050.9,317.5 L1050.1,318.5 L1049.1,319.7 L1048.0,321.1 L1046.7,322.7 L1045.3,324.4 L1043.9,326.3 L1042.4,328.2 L1040.8,330.1 L1039.3,332.0 L1037.7,333.9 L1036.3,335.8 L1034.9,337.5 L1033.5,339.2 L1032.2,340.8 L1030.8,342.5 L1029.3,344.3 L1027.9,346.0 L1026.5,347.7 L1025.1,349.4 L1023.7,351.1 L1022.4,352.8 L1021.1,354.5 L1019.9,356.1 L1018.7,357.7 L1017.6,359.3 L1016.6,361.0 L1015.6,362.6 L1014.7,364.3 L1013.8,365.8 L1013.0,367.4 L1012.2,368.8 L1011.5,370.2 L1010.9,371.4 L1010.3,372.5 L1009.9,373.4 L1009.5,374.1 L1016.5,377.9 L1016.9,377.1 L1017.5,376.1 L1018.0,375.0 L1018.6,373.8 L1019.3,372.5 L1020.0,371.1 L1020.8,369.7 L1021.6,368.2 L1022.5,366.7 L1023.4,365.2 L1024.3,363.7 L1025.3,362.3 L1026.3,360.8 L1027.4,359.3 L1028.7,357.7 L1029.9,356.1 L1031.3,354.5 L1032.7,352.8 L1034.1,351.1 L1035.5,349.4 L1036.9,347.6 L1038.3,345.9 L1039.7,344.2 L1041.1,342.5 L1042.5,340.8 L1044.0,338.9 L1045.5,337.0 L1047.0,335.1 L1048.6,333.2 L1050.1,331.2 L1051.6,329.4 L1053.0,327.7 L1054.2,326.1 L1055.4,324.7 L1056.4,323.5 L1057.1,322.5 Z" fill="#cc9833"/>
<path d="M995.8,135.8 L994.8,135.8 L993.5,135.9 L991.9,136.0 L990.2,136.1 L988.4,136.2 L986.4,136.3 L984.4,136.4 L982.5,136.5 L980.6,136.6 L978.8,136.6 L977.2,136.7 L975.8,136.8 L974.5,136.8 L973.4,136.9 L972.3,137.0 L971.3,137.1 L970.5,137.2 L969.8,137.3 L969.2,137.3 L968.8,137.3 L968.4,137.3 L968.2,137.3 L967.9,137.2 L967.7,137.1 L967.4,137.0 L967.1,136.8 L966.8,136.5 L966.4,136.2 L966.1,135.8 L965.7,135.4 L965.3,134.9 L965.0,134.4 L964.7,133.9 L964.4,133.4 L964.1,132.9 L964.0,132.4 L963.8,132.1 L963.7,131.7 L963.6,131.2 L963.6,130.7 L963.5,130.2 L963.5,129.6 L963.5,128.9 L963.5,128.3 L963.6,127.6 L963.6,126.8 L963.7,126.1 L963.7,125.4 L963.8,124.7 L963.9,124.1 L964.0,123.4 L964.1,122.7 L964.2,122.0 L964.4,121.3 L964.6,120.6 L964.7,120.0 L964.9,119.3 L965.1,118.6 L965.3,118.0 L965.5,117.4 L965.7,116.9 L965.9,116.3 L966.2,115.8 L966.5,115.2 L966.8,114.6 L967.1,114.0 L967.4,113.4 L967.7,112.8 L968.0,112.3 L968.3,111.8 L968.6,111.3 L970.6,107.5 L959.4,110.5 L961.1,107.3 L960.9,107.7 L960.6,108.1 L960.3,108.7 L960.0,109.3 L959.6,109.9 L959.3,110.6 L958.9,111.4 L958.5,112.1 L958.1,112.9 L957.8,113.8 L957.5,114.6 L957.2,115.4 L957.0,116.1 L956.8,116.9 L956.5,117.8 L956.3,118.6 L956.1,119.4 L955.9,120.3 L955.7,121.1 L955.6,122.0 L955.5,122.9 L955.4,123.8 L955.3,124.6 L955.2,125.4 L955.1,126.2 L955.1,127.0 L955.0,127.9 L955.0,128.8 L955.0,129.7 L955.0,130.6 L955.1,131.6 L955.2,132.6 L955.4,133.6 L955.7,134.6 L956.0,135.6 L956.4,136.5 L956.9,137.3 L957.4,138.2 L957.9,139.1 L958.5,139.9 L959.1,140.7 L959.8,141.5 L960.6,142.3 L961.4,143.1 L962.3,143.7 L963.2,144.4 L964.3,144.9 L965.4,145.3 L966.5,145.6 L967.5,145.7 L968.6,145.8 L969.5,145.8 L970.5,145.7 L971.3,145.7 L972.2,145.6 L973.1,145.5 L974.1,145.4 L975.1,145.3 L976.2,145.2 L977.6,145.2 L979.2,145.1 L981.0,145.0 L982.9,144.9 L984.9,144.8 L986.8,144.7 L988.8,144.6 L990.7,144.5 L992.4,144.4 L993.9,144.4 L995.2,144.3 L996.2,144.2 Z" fill="#cc9833"/>
<path d="M849.6,250.3 L848.9,251.1 L848.1,252.2 L847.5,253.1 L847.0,253.9 L846.4,254.6 L845.9,255.4 L845.2,256.2 L844.5,257.0 L843.6,257.9 L842.5,258.9 L841.2,260.0 L839.7,261.1 L837.8,262.4 L835.6,263.8 L832.9,265.3 L830.1,266.9 L826.9,268.6 L823.7,270.4 L820.3,272.3 L816.8,274.2 L813.3,276.2 L809.8,278.2 L806.4,280.3 L803.1,282.4 L800.0,284.5 L796.8,286.6 L793.6,288.7 L790.4,290.9 L787.2,293.1 L783.9,295.4 L780.7,297.7 L777.5,300.2 L774.4,302.7 L771.4,305.3 L768.4,307.9 L765.6,310.7 L762.8,313.7 L760.3,316.7 L757.9,319.8 L755.6,322.9 L753.5,326.1 L751.5,329.2 L749.6,332.2 L747.8,335.1 L746.0,338.0 L744.2,340.7 L742.5,343.2 L740.8,345.6 L739.1,347.9 L737.3,350.1 L735.6,352.2 L733.8,354.3 L732.0,356.4 L730.1,358.5 L728.2,360.7 L726.3,363.0 L724.4,365.4 L722.5,367.9 L720.6,370.6 L718.8,373.5 L717.0,376.5 L715.2,379.7 L713.5,382.9 L711.8,386.3 L710.2,389.7 L708.6,393.0 L707.0,396.4 L705.6,399.7 L704.1,402.9 L702.8,405.9 L701.5,408.8 L700.3,411.5 L699.1,414.0 L698.0,416.5 L696.9,418.9 L696.0,421.2 L695.1,423.4 L694.2,425.5 L693.4,427.5 L692.6,429.5 L691.8,431.3 L691.0,433.1 L690.3,434.8 L689.5,436.5 L688.8,438.2 L688.1,439.8 L687.4,441.2 L686.8,442.6 L686.1,444.0 L685.5,445.2 L684.9,446.5 L684.3,447.7 L683.7,449.0 L683.0,450.2 L682.3,451.5 L681.6,452.9 L680.8,454.2 L679.9,455.5 L679.1,456.9 L678.2,458.2 L677.3,459.6 L676.4,461.0 L675.4,462.5 L674.4,464.0 L673.4,465.5 L672.4,467.1 L671.3,468.7 L670.3,470.4 L669.1,472.1 L667.9,474.0 L666.6,476.0 L665.3,478.1 L664.0,480.2 L662.6,482.3 L661.3,484.3 L660.1,486.2 L659.0,488.0 L658.0,489.6 L657.1,490.9 L656.4,491.9 L673.6,502.1 L674.2,501.0 L674.9,499.5 L675.8,497.9 L676.8,496.0 L677.9,494.1 L679.0,491.9 L680.2,489.8 L681.4,487.6 L682.5,485.4 L683.7,483.4 L684.7,481.4 L685.7,479.6 L686.6,478.0 L687.6,476.5 L688.5,474.9 L689.4,473.4 L690.3,471.9 L691.2,470.3 L692.1,468.8 L693.0,467.3 L693.9,465.8 L694.7,464.3 L695.6,462.7 L696.4,461.1 L697.3,459.6 L698.0,458.2 L698.8,456.8 L699.5,455.4 L700.2,454.0 L700.8,452.6 L701.5,451.2 L702.2,449.8 L702.8,448.3 L703.5,446.8 L704.3,445.2 L705.1,443.5 L705.9,441.6 L706.7,439.8 L707.5,437.9 L708.3,435.9 L709.1,434.0 L709.9,432.0 L710.8,429.9 L711.6,427.8 L712.6,425.6 L713.5,423.4 L714.6,421.0 L715.7,418.5 L717.0,415.8 L718.3,412.9 L719.7,409.8 L721.1,406.7 L722.5,403.4 L724.0,400.2 L725.5,397.0 L727.1,393.8 L728.6,390.7 L730.2,387.8 L731.7,385.0 L733.2,382.5 L734.7,380.2 L736.3,378.1 L737.9,376.1 L739.6,374.1 L741.3,372.1 L743.2,370.1 L745.0,368.1 L747.0,366.0 L749.0,363.8 L751.0,361.5 L753.1,359.1 L755.2,356.4 L757.3,353.6 L759.2,350.6 L761.2,347.7 L763.0,344.7 L764.9,341.8 L766.7,338.8 L768.6,336.0 L770.4,333.2 L772.3,330.5 L774.3,328.0 L776.3,325.6 L778.4,323.3 L780.7,321.0 L783.2,318.8 L785.9,316.6 L788.6,314.3 L791.5,312.2 L794.4,310.0 L797.5,307.9 L800.5,305.7 L803.6,303.6 L806.8,301.6 L809.9,299.5 L812.9,297.6 L815.9,295.7 L819.0,293.9 L822.2,292.1 L825.6,290.3 L829.0,288.5 L832.3,286.7 L835.7,285.0 L838.9,283.3 L842.0,281.7 L845.0,280.1 L847.7,278.5 L850.3,276.9 L852.6,275.3 L854.7,273.8 L856.5,272.2 L858.1,270.7 L859.5,269.3 L860.8,268.0 L861.8,266.7 L862.7,265.7 L863.4,264.8 L863.9,264.2 L864.1,264.0 L864.4,263.7 Z" fill="#cc9833"/>
<path d="M854.5,369.6 L853.4,370.5 L852.0,371.5 L850.6,372.7 L849.1,373.9 L847.5,375.2 L845.8,376.6 L844.0,378.0 L842.0,379.5 L840.0,381.0 L837.8,382.5 L835.6,384.0 L833.3,385.4 L830.7,387.0 L827.7,388.7 L824.3,390.6 L820.8,392.6 L817.0,394.6 L813.2,396.6 L809.4,398.7 L805.6,400.7 L802.0,402.6 L798.5,404.4 L795.3,406.2 L792.5,407.8 L790.0,409.2 L787.9,410.6 L785.9,411.8 L784.2,412.9 L782.6,414.0 L781.2,415.0 L779.9,415.9 L778.6,416.8 L777.4,417.7 L776.1,418.6 L774.8,419.5 L773.3,420.4 L771.8,421.4 L770.2,422.4 L768.6,423.4 L767.0,424.3 L765.4,425.3 L763.8,426.3 L762.1,427.4 L760.5,428.4 L758.7,429.5 L756.9,430.6 L755.1,431.8 L753.2,433.0 L751.3,434.2 L749.3,435.5 L747.2,436.9 L745.1,438.3 L743.0,439.7 L740.8,441.1 L738.6,442.5 L736.5,444.0 L734.3,445.4 L732.1,446.8 L730.0,448.3 L728.0,449.7 L725.8,451.0 L723.7,452.4 L721.7,453.8 L719.7,455.1 L717.7,456.4 L715.7,457.7 L713.8,459.0 L712.0,460.2 L710.1,461.4 L708.3,462.5 L706.6,463.5 L704.9,464.5 L703.1,465.4 L701.3,466.2 L699.5,467.0 L697.7,467.8 L695.8,468.5 L694.0,469.3 L692.2,470.0 L690.3,470.8 L688.4,471.5 L686.5,472.3 L684.6,473.0 L682.6,473.8 L680.8,474.6 L679.0,475.5 L677.1,476.3 L675.1,477.2 L673.2,478.1 L671.2,478.9 L669.3,479.8 L667.4,480.6 L665.5,481.5 L663.6,482.3 L661.8,483.1 L660.1,483.9 L658.7,484.7 L657.3,485.3 L656.0,485.9 L654.8,486.5 L653.5,487.2 L652.2,487.8 L650.9,488.5 L649.5,489.2 L648.1,490.0 L646.7,490.9 L645.3,491.8 L643.8,492.8 L642.2,493.8 L640.7,494.9 L639.3,496.0 L638.0,497.0 L636.8,497.9 L635.7,498.9 L634.6,499.7 L633.5,500.6 L632.4,501.5 L631.2,502.5 L629.9,503.5 L628.3,504.7 L626.6,506.1 L624.6,507.7 L622.4,509.4 L620.1,511.2 L617.8,513.1 L615.3,515.0 L612.8,516.9 L610.3,518.9 L607.8,520.8 L605.4,522.7 L603.0,524.6 L600.7,526.3 L598.4,528.0 L596.2,529.7 L594.0,531.4 L591.8,533.0 L589.6,534.6 L587.5,536.2 L585.4,537.7 L583.4,539.2 L581.4,540.6 L579.4,542.0 L577.4,543.3 L575.5,544.6 L573.6,545.7 L571.7,546.9 L569.7,548.0 L567.7,549.2 L565.5,550.4 L563.3,551.5 L561.1,552.7 L558.8,554.0 L556.5,555.2 L554.2,556.5 L551.9,557.9 L549.6,559.3 L547.6,560.7 L545.7,562.1 L543.9,563.4 L542.2,564.8 L540.4,566.1 L538.7,567.5 L537.0,568.8 L535.4,570.2 L533.7,571.6 L532.0,573.0 L530.4,574.5 L528.6,576.0 L526.9,577.7 L525.2,579.4 L523.5,581.1 L521.9,582.8 L520.3,584.4 L518.7,586.1 L517.2,587.8 L515.6,589.4 L514.1,591.1 L512.5,592.7 L511.0,594.4 L509.4,596.0 L507.7,597.9 L505.8,600.0 L503.7,602.2 L501.6,604.4 L499.5,606.7 L497.4,608.9 L495.3,611.1 L493.4,613.1 L491.6,615.1 L490.1,616.8 L488.8,618.3 L483.6,623.3 L508.4,634.7 L505.6,637.6 L507.3,636.5 L509.2,635.2 L511.4,633.7 L513.7,632.1 L516.1,630.4 L518.6,628.6 L521.2,626.7 L523.7,624.9 L526.1,623.1 L528.5,621.5 L530.6,620.0 L532.6,618.4 L534.6,616.8 L536.5,615.3 L538.3,613.9 L540.1,612.4 L541.8,611.1 L543.5,609.7 L545.1,608.5 L546.7,607.3 L548.3,606.1 L549.8,605.0 L551.4,604.0 L552.9,602.8 L554.5,601.8 L556.0,600.7 L557.5,599.7 L559.0,598.7 L560.5,597.8 L562.1,596.8 L563.6,595.9 L565.2,594.9 L566.9,593.9 L568.6,592.9 L570.4,591.9 L572.0,590.9 L573.8,589.8 L575.6,588.7 L577.6,587.5 L579.7,586.3 L581.9,585.1 L584.2,583.8 L586.6,582.4 L589.0,581.0 L591.5,579.5 L594.0,577.9 L596.5,576.2 L598.9,574.6 L601.2,572.9 L603.5,571.2 L605.8,569.5 L608.0,567.8 L610.2,566.0 L612.4,564.3 L614.6,562.6 L616.8,560.9 L618.9,559.1 L621.1,557.4 L623.3,555.7 L625.6,553.9 L628.0,552.0 L630.5,550.1 L633.1,548.1 L635.6,546.1 L638.2,544.1 L640.7,542.1 L643.1,540.2 L645.5,538.3 L647.7,536.6 L649.7,534.9 L651.7,533.3 L653.5,531.8 L655.1,530.3 L656.6,528.9 L657.9,527.6 L659.0,526.4 L660.0,525.4 L660.9,524.5 L661.7,523.7 L662.3,523.0 L662.9,522.4 L663.5,521.8 L664.2,521.2 L665.0,520.6 L665.7,520.1 L666.5,519.6 L667.2,519.1 L668.0,518.6 L668.8,518.1 L669.7,517.5 L670.7,516.9 L671.8,516.3 L673.1,515.6 L674.4,514.9 L675.9,514.1 L677.3,513.2 L678.8,512.4 L680.4,511.5 L682.1,510.5 L683.9,509.6 L685.8,508.6 L687.7,507.5 L689.6,506.5 L691.6,505.4 L693.5,504.4 L695.5,503.3 L697.4,502.2 L699.1,501.1 L700.8,499.9 L702.5,498.8 L704.3,497.7 L706.1,496.5 L707.9,495.3 L709.7,494.1 L711.5,492.9 L713.4,491.6 L715.3,490.3 L717.2,488.9 L719.1,487.5 L721.2,486.1 L723.2,484.7 L725.1,483.2 L727.1,481.8 L729.0,480.3 L730.9,478.8 L732.8,477.4 L734.6,475.9 L736.5,474.5 L738.3,473.1 L740.2,471.7 L742.0,470.3 L744.0,469.0 L746.1,467.6 L748.2,466.2 L750.3,464.8 L752.4,463.4 L754.6,462.0 L756.7,460.6 L758.8,459.2 L760.9,457.8 L762.9,456.5 L764.9,455.2 L766.8,454.0 L768.6,452.9 L770.3,451.7 L772.0,450.7 L773.7,449.6 L775.3,448.6 L777.0,447.6 L778.6,446.6 L780.2,445.6 L781.8,444.6 L783.4,443.6 L785.0,442.6 L786.7,441.6 L788.3,440.6 L789.8,439.6 L791.3,438.8 L792.6,437.9 L793.9,437.1 L795.2,436.3 L796.5,435.5 L797.9,434.6 L799.5,433.7 L801.3,432.7 L803.3,431.5 L805.5,430.2 L808.1,428.7 L811.0,427.0 L814.3,425.2 L817.9,423.2 L821.6,421.1 L825.4,419.0 L829.3,416.9 L833.1,414.7 L836.8,412.6 L840.3,410.5 L843.7,408.5 L846.7,406.6 L849.5,404.7 L852.2,402.8 L854.7,400.9 L857.1,399.0 L859.3,397.2 L861.3,395.5 L863.2,393.9 L864.9,392.5 L866.3,391.1 L867.6,390.0 L868.6,389.1 L869.5,388.4 Z" fill="#cc9833"/>
<path d="M945.0,440.1 L944.5,440.1 L944.0,440.1 L943.5,440.1 L942.8,440.1 L942.1,440.2 L941.3,440.2 L940.4,440.3 L939.3,440.4 L938.2,440.6 L936.9,440.7 L935.4,440.9 L933.8,441.1 L932.0,441.5 L930.0,441.9 L927.9,442.3 L925.8,442.8 L923.5,443.3 L921.1,443.8 L918.6,444.3 L916.0,444.8 L913.3,445.3 L910.5,445.8 L907.6,446.2 L904.6,446.7 L901.5,447.1 L898.1,447.5 L894.5,447.8 L890.7,448.2 L886.8,448.6 L882.8,448.9 L878.8,449.3 L874.8,449.7 L870.7,450.1 L866.8,450.4 L863.0,450.8 L859.3,451.2 L855.7,451.7 L852.2,452.1 L848.8,452.5 L845.5,452.9 L842.1,453.3 L838.8,453.7 L835.5,454.2 L832.2,454.6 L828.9,455.1 L825.6,455.6 L822.3,456.1 L819.0,456.6 L815.5,457.1 L812.0,457.7 L808.4,458.3 L804.7,459.0 L801.1,459.6 L797.5,460.3 L794.0,461.0 L790.6,461.6 L787.3,462.2 L784.2,462.8 L781.3,463.4 L778.7,463.9 L776.3,464.3 L774.0,464.8 L772.0,465.2 L770.1,465.6 L768.4,466.0 L766.8,466.3 L765.3,466.6 L763.8,467.0 L762.4,467.3 L761.1,467.6 L759.7,467.9 L758.4,468.2 L757.1,468.5 L756.0,468.7 L754.9,468.9 L753.9,469.1 L752.9,469.3 L751.9,469.5 L750.8,469.7 L749.7,470.0 L748.5,470.3 L747.2,470.7 L745.8,471.2 L744.2,471.7 L742.6,472.4 L740.8,473.1 L738.9,473.9 L737.1,474.7 L735.2,475.5 L733.2,476.4 L731.3,477.3 L729.4,478.1 L727.5,478.9 L725.7,479.7 L724.0,480.4 L722.4,481.0 L720.7,481.6 L719.0,482.1 L717.2,482.7 L715.3,483.3 L713.4,483.9 L711.6,484.4 L709.8,484.9 L708.1,485.3 L706.6,485.8 L705.2,486.2 L703.9,486.5 L702.9,486.8 L707.1,501.2 L708.0,500.9 L709.2,500.6 L710.5,500.2 L712.1,499.8 L713.8,499.3 L715.7,498.8 L717.6,498.3 L719.6,497.7 L721.6,497.0 L723.7,496.4 L725.7,495.7 L727.6,495.0 L729.6,494.3 L731.5,493.4 L733.5,492.5 L735.5,491.6 L737.5,490.7 L739.4,489.8 L741.3,488.9 L743.1,488.0 L744.9,487.2 L746.5,486.5 L748.0,485.8 L749.4,485.3 L750.6,484.8 L751.7,484.4 L752.6,484.1 L753.5,483.8 L754.3,483.6 L755.1,483.4 L756.0,483.2 L756.9,482.9 L757.9,482.7 L759.0,482.4 L760.3,482.2 L761.6,481.8 L763.0,481.5 L764.4,481.1 L765.7,480.8 L767.0,480.4 L768.4,480.1 L769.9,479.7 L771.4,479.3 L773.1,478.9 L774.9,478.5 L776.8,478.1 L779.0,477.6 L781.3,477.1 L784.0,476.6 L786.8,476.0 L789.9,475.3 L793.1,474.7 L796.5,474.0 L800.0,473.3 L803.5,472.6 L807.1,471.9 L810.7,471.2 L814.2,470.6 L817.7,470.0 L821.0,469.4 L824.3,468.9 L827.6,468.4 L830.8,467.9 L834.0,467.5 L837.3,467.0 L840.5,466.6 L843.8,466.2 L847.1,465.8 L850.4,465.4 L853.8,465.0 L857.2,464.6 L860.7,464.2 L864.3,463.8 L868.1,463.4 L872.0,463.0 L875.9,462.6 L880.0,462.3 L884.0,461.9 L888.0,461.5 L891.9,461.2 L895.8,460.8 L899.5,460.4 L903.0,460.0 L906.4,459.5 L909.6,459.1 L912.6,458.6 L915.6,458.1 L918.4,457.6 L921.1,457.0 L923.7,456.5 L926.2,456.0 L928.5,455.5 L930.7,455.0 L932.7,454.6 L934.5,454.2 L936.2,453.9 L937.8,453.5 L939.2,453.2 L940.4,452.8 L941.5,452.6 L942.5,452.3 L943.4,452.1 L944.2,451.8 L944.8,451.6 L945.5,451.4 L946.0,451.3 L946.5,451.1 L947.0,450.9 Z" fill="#cc9833"/>
<path d="M566.6,551.7 L565.6,552.3 L564.4,553.0 L563.0,553.7 L561.5,554.6 L559.9,555.5 L558.1,556.4 L556.4,557.3 L554.6,558.2 L552.8,559.1 L551.1,559.9 L549.5,560.7 L547.9,561.3 L546.4,561.9 L544.8,562.4 L543.3,562.9 L541.7,563.4 L540.2,563.9 L538.7,564.3 L537.2,564.7 L535.7,565.0 L534.3,565.4 L532.8,565.6 L531.3,565.8 L529.8,566.0 L528.3,566.0 L526.7,566.0 L525.1,566.0 L523.5,565.9 L521.8,565.7 L520.1,565.5 L518.3,565.3 L516.6,565.0 L514.8,564.7 L513.1,564.4 L511.3,564.1 L509.5,563.8 L507.8,563.5 L506.0,563.1 L504.1,562.7 L502.2,562.2 L500.3,561.8 L498.3,561.3 L496.5,560.8 L494.8,560.3 L493.1,559.9 L491.7,559.5 L490.4,559.2 L486.9,558.3 L489.1,570.7 L487.5,570.3 L488.7,570.6 L490.2,571.0 L491.8,571.4 L493.6,571.9 L495.5,572.4 L497.4,572.9 L499.5,573.4 L501.5,573.9 L503.6,574.4 L505.6,574.8 L507.5,575.2 L509.2,575.5 L511.0,575.8 L512.9,576.2 L514.7,576.5 L516.6,576.8 L518.5,577.1 L520.4,577.4 L522.3,577.6 L524.3,577.8 L526.3,577.9 L528.2,578.0 L530.2,578.0 L532.2,578.0 L534.1,577.9 L536.0,577.7 L537.8,577.5 L539.7,577.3 L541.5,577.0 L543.3,576.7 L545.0,576.3 L546.8,575.9 L548.6,575.5 L550.3,575.1 L552.1,574.7 L554.0,574.2 L556.1,573.7 L558.2,573.1 L560.3,572.5 L562.3,571.8 L564.4,571.1 L566.3,570.5 L568.1,569.9 L569.8,569.3 L571.3,568.9 L572.5,568.5 L573.4,568.3 Z" fill="#cc9833"/>
<path d="M692.8,493.1 L692.7,494.1 L692.4,495.4 L692.1,496.9 L691.8,498.7 L691.5,500.5 L691.1,502.5 L690.8,504.6 L690.4,506.7 L690.1,508.7 L689.8,510.7 L689.5,512.6 L689.3,514.4 L689.1,516.1 L688.9,517.8 L688.8,519.6 L688.7,521.3 L688.6,523.0 L688.5,524.6 L688.5,526.1 L688.4,527.6 L688.4,528.9 L688.3,530.0 L688.3,531.0 L688.2,532.0 L698.8,532.0 L698.8,531.4 L698.8,530.4 L698.9,529.2 L698.9,527.9 L699.0,526.5 L699.0,525.0 L699.1,523.5 L699.2,521.9 L699.3,520.3 L699.4,518.7 L699.6,517.1 L699.7,515.6 L699.9,514.0 L700.2,512.3 L700.5,510.4 L700.8,508.4 L701.1,506.4 L701.5,504.3 L701.8,502.4 L702.2,500.5 L702.5,498.8 L702.8,497.3 L703.0,495.9 L703.2,494.9 Z" fill="#cc9833"/>
<path d="M614.0,540.3 L614.1,541.2 L614.1,542.4 L614.2,543.8 L614.3,545.4 L614.4,547.1 L614.5,548.9 L614.6,550.8 L614.7,552.7 L614.8,554.6 L614.9,556.5 L615.0,558.4 L615.0,560.1 L615.0,561.9 L615.1,563.8 L615.1,565.9 L615.1,568.0 L615.1,570.1 L615.1,572.2 L615.1,574.3 L615.0,576.2 L615.0,578.0 L615.0,579.5 L615.0,580.9 L615.0,582.0 L625.0,582.0 L625.0,581.0 L625.0,579.6 L625.0,578.0 L625.0,576.3 L625.1,574.3 L625.1,572.3 L625.1,570.2 L625.1,568.0 L625.1,565.9 L625.1,563.8 L625.0,561.8 L625.0,559.9 L624.9,558.0 L624.9,556.1 L624.8,554.2 L624.7,552.2 L624.6,550.2 L624.5,548.3 L624.4,546.5 L624.3,544.8 L624.2,543.3 L624.1,541.9 L624.0,540.7 L624.0,539.7 Z" fill="#cc9833"/>
<path d="M656.5,508.3 L656.6,509.8 L656.7,511.7 L656.9,514.0 L657.0,516.5 L657.2,519.2 L657.4,522.1 L657.6,525.1 L657.8,528.2 L658.0,531.3 L658.2,534.4 L658.3,537.4 L658.5,540.3 L658.7,543.1 L658.8,545.9 L659.0,548.8 L659.1,551.7 L659.2,554.6 L659.4,557.5 L659.5,560.5 L659.7,563.5 L659.9,566.5 L660.1,569.4 L660.3,572.4 L660.5,575.4 L660.8,578.3 L661.0,581.2 L661.3,584.1 L661.6,586.9 L661.9,589.8 L662.2,592.7 L662.6,595.6 L662.9,598.5 L663.3,601.5 L663.7,604.5 L664.1,607.5 L664.5,610.7 L665.0,613.9 L665.6,617.3 L666.1,620.8 L666.7,624.4 L667.4,628.0 L668.0,631.7 L668.6,635.2 L669.3,638.7 L669.9,642.0 L670.5,645.2 L671.1,648.2 L671.6,650.9 L672.1,653.4 L672.6,655.8 L673.1,658.1 L673.6,660.2 L674.1,662.2 L674.6,664.1 L675.0,665.8 L675.4,667.4 L675.8,668.8 L676.1,670.1 L676.4,671.1 L676.2,670.1 L685.8,671.9 L685.1,668.9 L684.8,667.8 L684.5,666.5 L684.1,665.1 L683.7,663.6 L683.3,661.9 L682.8,660.1 L682.4,658.1 L681.9,656.1 L681.4,653.9 L680.9,651.6 L680.4,649.1 L679.9,646.5 L679.3,643.5 L678.7,640.4 L678.1,637.1 L677.5,633.6 L676.9,630.1 L676.2,626.5 L675.6,622.9 L675.0,619.4 L674.5,615.9 L673.9,612.5 L673.5,609.3 L673.0,606.3 L672.6,603.3 L672.2,600.3 L671.8,597.4 L671.5,594.5 L671.2,591.7 L670.8,588.8 L670.6,586.0 L670.3,583.2 L670.0,580.4 L669.7,577.5 L669.5,574.6 L669.3,571.7 L669.0,568.8 L668.9,565.9 L668.7,563.0 L668.5,560.0 L668.4,557.1 L668.2,554.2 L668.1,551.2 L667.9,548.3 L667.8,545.4 L667.7,542.6 L667.5,539.7 L667.3,536.9 L667.1,533.8 L666.9,530.8 L666.8,527.6 L666.6,524.6 L666.4,521.5 L666.2,518.6 L666.0,515.9 L665.9,513.4 L665.7,511.2 L665.6,509.3 L665.5,507.7 Z" fill="#cc9833"/>
<ellipse cx="1009.5" cy="466.0" rx="6.0" ry="2.1" transform="rotate(0.0 1009.5 466.0)" fill="#cc9833" stroke="#8a5b1c" stroke-width="1.9"/>
<ellipse cx="965.0" cy="109.0" rx="5.8" ry="3.2" transform="rotate(-15.0 965.0 109.0)" fill="#cc9833" stroke="#8a5b1c" stroke-width="1.9"/>
<ellipse cx="496.0" cy="629.0" rx="13.7" ry="4.1" transform="rotate(24.7 496.0 629.0)" fill="#cc9833" stroke="#8a5b1c" stroke-width="1.9"/>
<ellipse cx="488.0" cy="564.5" rx="6.3" ry="2.2" transform="rotate(80.0 488.0 564.5)" fill="#cc9833" stroke="#8a5b1c" stroke-width="1.9"/>
<ellipse cx="693.5" cy="532.0" rx="5.3" ry="2.1" transform="rotate(0.0 693.5 532.0)" fill="#cc9833" stroke="#8a5b1c" stroke-width="1.9"/>
<ellipse cx="620.0" cy="582.0" rx="5.0" ry="2.0" transform="rotate(0.0 620.0 582.0)" fill="#cc9833" stroke="#8a5b1c" stroke-width="1.9"/>
<ellipse cx="681.0" cy="671.0" rx="4.9" ry="2.0" transform="rotate(10.0 681.0 671.0)" fill="#cc9833" stroke="#8a5b1c" stroke-width="1.9"/>
<path d="M1084.0,82.8 L1075.4,87.4 L1072.0,89.1 L1068.1,91.1 L1063.8,93.4 L1059.0,95.9 L1054.0,98.6 L1048.8,101.3 L1043.5,104.1 L1038.3,106.9 L1033.1,109.6 L1028.2,112.2 L1023.5,114.7 L1019.0,117.1 L1014.4,119.5 L1009.8,122.0 L1005.1,124.5 L1000.4,127.0 L995.8,129.5 L991.3,131.9 L986.8,134.3 L982.6,136.6 L978.5,138.8 L974.7,140.9 L971.1,142.8 L967.8,144.8 L964.9,146.6 L962.2,148.3 L959.7,149.9 L957.4,151.4 L955.2,152.9 L953.1,154.3 L951.1,155.6 L949.2,156.9 L947.3,158.2 L945.3,159.5 L943.2,160.9 L941.1,162.3 L938.9,163.7 L936.9,165.1 L934.8,166.5 L932.8,167.8 L930.9,169.1 L929.0,170.4 L927.0,171.6 L925.1,172.9 L923.2,174.1 L921.3,175.3 L919.3,176.4 L917.2,177.6 L915.2,178.8 L913.1,180.0 L910.9,181.2 L908.8,182.3 L906.7,183.5 L904.5,184.6 L902.4,185.7 L900.2,186.8 L898.1,187.8 L895.9,188.8 L893.8,189.9 L891.6,190.8 L889.4,191.8 L887.2,192.8 L885.0,193.7 L882.8,194.6 L880.6,195.5 L878.4,196.4 L876.2,197.2 L874.0,198.0 L871.7,198.8 L869.5,199.6 L867.2,200.4 L864.8,201.3 L862.6,202.2 L860.3,203.1 L858.1,203.9 L855.9,204.7 L853.6,205.5 L851.4,206.3 L849.1,207.0 L846.7,207.7 L844.3,208.4 L841.7,209.0 L839.0,209.6 L836.2,210.0 L833.3,210.3 L830.2,210.6 L827.0,210.9 L823.7,211.1 L820.3,211.3 L816.9,211.5 L813.5,211.7 L810.1,211.8 L806.6,212.0 L803.2,212.1 L799.8,212.3 L796.5,212.3 L793.2,212.4 L789.9,212.4 L786.6,212.4 L783.2,212.4 L779.9,212.4 L776.5,212.4 L773.2,212.4 L769.9,212.3 L766.6,212.3 L763.3,212.3 L760.1,212.3 L756.7,212.2 L753.2,212.2 L749.7,212.1 L746.0,212.1 L742.4,212.1 L738.9,212.0 L735.4,211.9 L732.2,211.9 L729.3,211.9 L726.7,211.8 L724.4,211.8 L722.5,211.7 L722.5,225.3 L724.2,225.3 L726.4,225.3 L729.1,225.4 L732.0,225.4 L735.2,225.4 L738.6,225.5 L742.2,225.6 L745.8,225.6 L749.5,225.6 L753.1,225.7 L756.6,225.7 L759.9,225.7 L763.2,225.8 L766.5,225.8 L769.8,225.8 L773.1,225.9 L776.4,225.9 L779.8,225.9 L783.2,225.9 L786.6,225.9 L790.0,225.9 L793.4,225.9 L796.8,225.8 L800.2,225.7 L803.5,225.7 L806.9,225.7 L810.4,225.7 L813.9,225.7 L817.4,225.6 L820.9,225.6 L824.4,225.5 L827.8,225.3 L831.2,225.2 L834.6,225.0 L837.8,224.7 L841.0,224.4 L844.0,224.2 L846.9,224.0 L849.8,223.6 L852.6,223.3 L855.2,222.9 L857.9,222.5 L860.4,222.0 L863.0,221.6 L865.4,221.1 L867.9,220.6 L870.4,220.1 L872.8,219.6 L875.3,218.9 L877.9,218.2 L880.3,217.5 L882.8,216.8 L885.3,216.0 L887.7,215.3 L890.2,214.5 L892.6,213.6 L895.0,212.8 L897.4,211.9 L899.8,211.1 L902.2,210.1 L904.7,209.2 L907.1,208.2 L909.5,207.3 L911.9,206.2 L914.3,205.2 L916.7,204.2 L919.1,203.1 L921.4,202.0 L923.8,200.9 L926.1,199.8 L928.4,198.7 L930.7,197.6 L933.0,196.4 L935.3,195.2 L937.5,194.0 L939.7,192.8 L941.9,191.6 L944.0,190.4 L946.1,189.2 L948.2,188.0 L950.3,186.8 L952.4,185.6 L954.6,184.3 L956.8,183.1 L959.0,181.8 L961.2,180.6 L963.3,179.4 L965.3,178.2 L967.4,177.0 L969.4,175.8 L971.6,174.6 L973.9,173.3 L976.3,171.9 L978.9,170.4 L981.8,168.9 L984.9,167.2 L988.3,165.2 L992.0,163.1 L996.0,160.9 L1000.1,158.5 L1004.5,156.1 L1009.0,153.6 L1013.5,151.1 L1018.2,148.5 L1022.8,145.9 L1027.4,143.4 L1032.0,140.8 L1036.5,138.3 L1041.0,135.8 L1045.9,133.0 L1051.0,130.1 L1056.2,127.2 L1061.4,124.3 L1066.5,121.4 L1071.4,118.6 L1076.1,115.9 L1080.4,113.5 L1084.2,111.3 L1087.4,109.5 L1084.0,111.2 Z" fill="#9c6a22" stroke="#9c6a22" stroke-width="3.0" stroke-linejoin="round"/>
<path d="M939,206.4 L978,169 L960,162 L880,203 L850,245 L945,215 Z" fill="#9c6a22" stroke="#9c6a22" stroke-width="3.0" stroke-linejoin="round"/>
<path d="M836,219 L880,201 L932,186 L932,226 L900,246 L870,257 L846,253 Z" fill="#9c6a22" stroke="#9c6a22" stroke-width="3.0" stroke-linejoin="round"/>
<path d="M1084.0,207.0 L1079.7,207.0 L1074.3,207.0 L1067.8,207.1 L1060.5,207.1 L1052.7,207.1 L1044.4,207.2 L1036.1,207.2 L1027.8,207.2 L1019.8,207.3 L1012.3,207.4 L1005.6,207.4 L999.8,207.5 L994.8,207.5 L990.4,207.5 L986.3,207.5 L982.6,207.5 L979.3,207.5 L976.1,207.6 L973.1,207.6 L970.2,207.7 L967.5,207.7 L964.7,207.8 L961.9,207.9 L959.0,208.0 L956.0,208.1 L953.2,208.1 L950.5,208.2 L947.8,208.3 L945.2,208.4 L942.6,208.5 L940.0,208.6 L937.5,208.8 L935.0,209.0 L932.4,209.2 L929.8,209.5 L927.2,209.7 L924.6,210.2 L922.0,210.6 L919.4,211.0 L916.7,211.5 L914.1,212.0 L911.4,212.6 L908.6,213.1 L905.9,213.8 L903.1,214.5 L900.3,215.2 L897.5,216.0 L894.6,216.9 L891.8,218.0 L889.0,219.3 L886.2,220.5 L883.4,221.9 L880.7,223.2 L878.0,224.6 L875.3,226.0 L872.8,227.3 L870.3,228.7 L867.9,230.0 L865.7,231.3 L863.4,232.5 L861.2,234.0 L859.0,235.5 L856.8,237.0 L854.7,238.5 L852.7,240.0 L850.7,241.5 L848.9,242.9 L847.3,244.2 L845.8,245.5 L844.5,246.6 L843.5,247.5 L842.7,248.4 L853.3,267.6 L854.6,267.3 L856.1,266.8 L857.7,266.3 L859.5,265.6 L861.5,264.9 L863.5,264.1 L865.6,263.3 L867.8,262.5 L870.0,261.7 L872.2,260.9 L874.4,260.2 L876.6,259.5 L878.8,258.6 L881.1,257.7 L883.6,256.7 L886.0,255.7 L888.5,254.7 L891.0,253.8 L893.5,252.9 L896.0,252.0 L898.5,251.2 L900.9,250.4 L903.2,249.7 L905.4,249.1 L907.5,248.4 L909.7,247.7 L911.9,247.0 L914.1,246.4 L916.4,245.8 L918.6,245.3 L920.9,244.7 L923.3,244.2 L925.6,243.7 L928.0,243.2 L930.4,242.7 L932.8,242.3 L935.1,241.7 L937.4,241.2 L939.6,240.7 L941.8,240.2 L943.9,239.7 L946.1,239.3 L948.4,238.9 L950.7,238.5 L953.1,238.1 L955.6,237.7 L958.3,237.3 L961.0,237.0 L963.8,236.7 L966.5,236.4 L969.1,236.2 L971.7,236.0 L974.4,235.8 L977.2,235.6 L980.2,235.4 L983.4,235.2 L987.0,235.0 L991.0,234.8 L995.3,234.7 L1000.2,234.5 L1005.9,234.4 L1012.5,234.4 L1020.0,234.3 L1027.9,234.2 L1036.2,234.2 L1044.6,234.2 L1052.8,234.1 L1060.6,234.1 L1067.9,234.1 L1074.4,234.0 L1079.9,234.0 L1084.0,234.0 Z" fill="#9c6a22" stroke="#9c6a22" stroke-width="3.0" stroke-linejoin="round"/>
<path d="M872.0,236.0 L870.3,234.8 L867.9,233.0 L865.1,230.9 L861.9,228.7 L858.7,226.4 L855.5,224.5 L852.6,222.9 L850.0,222.0 L847.7,221.8 L845.4,222.1 L843.2,222.9 L841.1,223.9 L839.2,225.0 L837.5,226.1 L836.0,226.9 L834.9,227.5 L830.6,229.6 L824.6,232.4 L817.5,235.8 L809.7,239.6 L801.7,243.4 L794.0,247.1 L787.2,250.4 L781.7,253.1 L777.7,255.1 L774.7,256.5 L772.5,257.6 L770.6,258.6 L768.7,259.5 L766.6,260.7 L763.8,262.4 L760.0,264.6 L755.2,267.5 L749.6,270.9 L743.5,274.7 L737.0,278.8 L730.4,283.0 L723.7,287.1 L717.2,291.2 L711.1,294.9 L705.1,298.5 L699.0,302.1 L692.9,305.6 L686.8,309.1 L681.0,312.5 L675.4,315.7 L670.2,318.7 L665.5,321.5 L661.3,324.0 L657.6,326.4 L654.2,328.5 L651.1,330.4 L648.3,332.3 L645.5,334.1 L642.8,335.8 L640.0,337.5 L637.3,339.0 L635.0,340.3 L632.8,341.5 L630.7,342.6 L628.4,343.8 L626.0,345.2 L623.2,346.9 L620.0,349.0 L616.3,351.5 L612.3,354.2 L608.1,357.1 L603.6,360.3 L598.9,363.7 L594.1,367.4 L589.1,371.4 L584.0,375.6 L578.7,380.3 L573.0,385.5 L567.1,391.1 L561.1,396.9 L555.1,402.8 L549.2,408.5 L543.6,413.9 L538.4,418.9 L533.5,423.4 L528.9,427.7 L524.5,431.8 L520.3,435.7 L516.2,439.5 L512.2,443.3 L508.2,447.0 L504.2,450.8 L500.3,454.6 L496.6,458.2 L493.0,461.8 L489.4,465.4 L485.9,469.0 L482.2,472.6 L478.5,476.4 L474.6,480.4 L470.3,484.8 L465.5,489.7 L460.5,494.9 L455.5,500.0 L450.7,505.0 L446.3,509.5 L442.7,513.2 L440.0,516.0 L440.0,566.0 L442.8,563.5 L446.6,560.2 L451.2,556.2 L456.2,551.8 L461.3,547.3 L466.3,542.8 L470.8,538.7 L474.6,535.1 L477.6,532.1 L479.9,529.6 L481.9,527.3 L483.7,525.1 L485.5,522.8 L487.5,520.4 L489.9,517.7 L492.8,514.6 L496.3,511.0 L500.2,507.0 L504.5,502.7 L508.9,498.2 L513.5,493.7 L518.1,489.1 L522.6,484.7 L527.0,480.4 L531.3,476.3 L535.5,472.3 L539.7,468.3 L544.0,464.3 L548.2,460.4 L552.5,456.4 L556.8,452.5 L561.2,448.5 L565.7,444.4 L570.5,440.3 L575.3,436.1 L580.1,432.0 L584.9,427.9 L589.4,423.9 L593.7,420.1 L597.6,416.6 L601.1,413.2 L604.2,410.0 L607.1,406.8 L609.8,403.8 L612.4,401.0 L614.9,398.4 L617.4,396.1 L620.0,394.0 L622.7,392.3 L625.4,390.9 L628.0,389.8 L630.6,388.9 L633.2,388.1 L635.6,387.4 L637.9,386.8 L640.0,386.0 L641.9,385.2 L643.6,384.5 L645.1,383.9 L646.5,383.2 L647.9,382.7 L649.2,382.1 L650.6,381.5 L652.0,381.0 L653.6,380.4 L655.3,379.9 L657.0,379.3 L658.8,378.8 L660.4,378.3 L661.8,377.9 L663.1,377.5 L664.0,377.2 L664.4,376.0 L665.0,374.4 L665.6,372.5 L666.3,370.4 L667.1,368.2 L667.8,366.0 L668.5,363.9 L669.0,362.0 L669.5,360.2 L669.9,358.4 L670.3,356.6 L670.6,354.9 L670.9,353.2 L671.2,351.8 L671.4,350.5 L671.6,349.6 L674.6,347.6 L678.5,345.0 L683.1,341.9 L688.3,338.4 L693.9,334.7 L699.6,331.0 L705.4,327.3 L711.1,323.8 L716.8,320.4 L722.9,316.9 L729.2,313.2 L735.6,309.6 L741.9,306.1 L748.2,302.7 L754.3,299.4 L760.0,296.4 L765.3,293.7 L770.3,291.2 L775.1,289.0 L779.7,286.8 L784.4,284.7 L789.1,282.6 L794.1,280.4 L799.4,278.0 L805.3,275.3 L812.0,272.4 L819.0,269.3 L826.0,266.1 L832.7,263.2 L838.8,260.5 L843.9,258.3 L847.7,256.6 L872.0,256.0 Z" fill="#9c6a22" stroke="#9c6a22" stroke-width="3.0" stroke-linejoin="round"/>
<path d="M1083.0,286.8 L1072.7,290.2 L1064.6,292.8 L1055.0,296.0 L1044.1,299.5 L1032.4,303.3 L1020.2,307.3 L1007.8,311.3 L995.6,315.3 L984.0,319.2 L973.2,322.7 L963.7,326.0 L955.8,328.7 L949.2,330.9 L943.5,332.9 L938.6,334.7 L934.3,336.3 L930.6,337.7 L927.4,339.0 L924.4,340.2 L921.8,341.3 L919.2,342.4 L916.7,343.4 L914.0,344.4 L910.8,345.6 L907.3,346.8 L903.7,348.1 L900.2,349.4 L896.8,350.7 L893.6,351.9 L890.5,353.0 L887.5,354.1 L884.6,355.0 L881.8,355.8 L879.1,356.4 L876.6,356.9 L874.1,357.3 L871.7,358.2 L869.2,358.9 L866.5,359.6 L863.8,360.2 L860.9,360.7 L858.0,361.1 L854.9,361.5 L851.7,361.8 L848.5,362.1 L845.2,362.4 L841.8,362.7 L838.5,363.0 L835.3,362.9 L832.1,362.8 L829.0,362.6 L825.8,362.4 L822.6,362.1 L819.4,361.9 L816.2,361.6 L812.9,361.3 L809.7,361.1 L806.4,360.8 L803.1,360.6 L799.8,360.3 L796.5,360.1 L793.2,359.9 L789.9,359.7 L786.7,359.5 L783.4,359.4 L780.2,359.2 L777.0,359.0 L773.8,358.8 L770.6,358.6 L767.3,358.4 L764.1,358.1 L760.9,357.8 L757.7,357.5 L754.4,357.0 L751.0,356.6 L747.6,356.1 L744.1,355.6 L740.7,355.0 L737.2,354.5 L733.8,354.1 L730.4,353.6 L727.1,353.2 L723.8,352.8 L720.7,352.5 L717.6,352.3 L714.7,352.1 L711.8,352.0 L709.0,351.9 L706.3,351.8 L703.7,351.8 L701.1,351.8 L698.6,351.8 L696.2,351.8 L693.9,351.9 L691.7,351.9 L689.5,352.0 L687.4,352.1 L685.3,352.2 L683.3,352.3 L681.4,352.4 L679.5,352.6 L677.8,352.8 L676.0,353.0 L674.3,353.2 L672.6,353.4 L671.0,353.7 L669.4,353.9 L667.7,354.2 L666.0,354.7 L664.2,355.2 L662.5,355.8 L660.8,356.4 L659.2,356.9 L657.7,357.5 L656.3,358.1 L655.1,358.6 L654.0,359.1 L653.0,359.5 L652.3,359.8 L651.7,360.1 L658.3,378.9 L659.1,378.7 L660.1,378.4 L661.2,378.0 L662.3,377.6 L663.5,377.2 L664.8,376.8 L666.0,376.4 L667.3,376.0 L668.6,375.6 L669.9,375.3 L671.1,375.0 L672.3,374.8 L673.5,374.4 L674.9,374.1 L676.2,373.9 L677.5,373.6 L678.9,373.3 L680.4,373.1 L681.9,372.9 L683.4,372.7 L685.0,372.5 L686.8,372.3 L688.6,372.1 L690.5,372.0 L692.6,371.8 L694.7,371.7 L696.9,371.6 L699.2,371.5 L701.5,371.4 L703.8,371.3 L706.3,371.2 L708.8,371.2 L711.3,371.2 L713.9,371.3 L716.6,371.4 L719.3,371.5 L722.1,371.7 L725.1,371.9 L728.2,372.2 L731.5,372.6 L734.8,373.0 L738.2,373.4 L741.7,373.8 L745.2,374.2 L748.7,374.7 L752.2,375.1 L755.7,375.4 L759.1,375.8 L762.5,376.1 L765.8,376.5 L769.1,376.8 L772.4,377.1 L775.6,377.4 L778.9,377.6 L782.2,377.9 L785.4,378.2 L788.6,378.4 L791.8,378.7 L795.0,379.0 L798.2,379.3 L801.4,379.6 L804.6,379.9 L807.8,380.2 L811.1,380.6 L814.3,380.9 L817.6,381.3 L820.9,381.6 L824.2,382.0 L827.5,382.3 L830.9,382.5 L834.2,382.8 L837.5,383.0 L840.7,383.6 L843.8,384.3 L847.0,385.0 L850.3,385.7 L853.6,386.4 L857.0,387.1 L860.6,387.7 L864.2,388.2 L868.0,388.6 L871.8,388.8 L875.8,388.9 L879.9,388.7 L883.9,387.7 L887.7,386.5 L891.5,385.2 L895.0,383.8 L898.5,382.3 L901.9,380.8 L905.2,379.2 L908.4,377.6 L911.6,376.1 L914.8,374.6 L917.9,373.1 L921.2,371.6 L924.5,370.2 L927.6,368.8 L930.3,367.5 L933.0,366.3 L935.5,365.0 L938.1,363.8 L941.0,362.4 L944.3,361.0 L948.1,359.4 L952.6,357.6 L957.9,355.6 L964.2,353.3 L972.0,350.7 L981.5,347.6 L992.2,344.1 L1003.8,340.4 L1015.9,336.5 L1028.3,332.5 L1040.5,328.6 L1052.3,324.9 L1063.1,321.4 L1072.8,318.4 L1080.9,315.8 L1083.0,315.2 Z" fill="#9c6a22" stroke="#9c6a22" stroke-width="3.0" stroke-linejoin="round"/>
<path d="M892,366 L890,385.5 L848,405.5 L835.5,386 Z" fill="#9c6a22" stroke="#9c6a22" stroke-width="3.0" stroke-linejoin="round"/>
<path d="M1080.0,395.3 L1070.5,398.9 L1066.0,400.7 L1060.8,402.7 L1054.9,404.9 L1048.6,407.4 L1041.9,409.9 L1035.1,412.5 L1028.3,415.1 L1021.6,417.6 L1015.3,420.0 L1009.5,422.1 L1004.3,424.0 L999.6,425.5 L994.9,426.9 L990.4,428.3 L986.1,429.6 L981.9,430.8 L977.9,432.0 L974.0,433.0 L970.3,434.0 L966.8,434.9 L963.4,435.7 L960.3,436.4 L957.4,437.1 L954.8,437.7 L952.5,438.3 L950.3,438.7 L948.3,439.1 L946.4,439.3 L944.6,439.6 L942.9,439.8 L941.3,440.0 L939.8,440.1 L938.2,440.3 L936.7,440.5 L935.3,440.7 L940.7,477.3 L941.5,477.2 L942.4,477.1 L943.7,476.9 L945.3,476.8 L947.3,476.5 L949.4,476.3 L951.8,475.9 L954.4,475.5 L957.2,475.0 L960.2,474.4 L963.4,473.7 L966.6,472.9 L969.9,471.9 L973.3,470.8 L976.8,469.7 L980.5,468.5 L984.4,467.2 L988.4,465.9 L992.5,464.4 L996.9,462.9 L1001.3,461.3 L1006.0,459.6 L1010.7,457.9 L1015.7,456.0 L1021.1,454.1 L1027.1,451.9 L1033.6,449.5 L1040.3,446.9 L1047.2,444.3 L1054.1,441.7 L1060.8,439.1 L1067.2,436.7 L1073.0,434.4 L1078.2,432.4 L1082.6,430.7 L1080.0,431.7 Z" fill="#9c6a22" stroke="#9c6a22" stroke-width="3.0" stroke-linejoin="round"/>
<path d="M945.9,454.3 L944.3,454.9 L942.3,455.6 L940.1,456.5 L937.6,457.5 L934.9,458.5 L932.1,459.7 L929.1,460.9 L926.0,462.1 L922.9,463.3 L919.8,464.5 L916.8,465.6 L913.8,466.7 L910.9,467.9 L907.8,469.0 L904.6,470.3 L901.3,471.5 L897.9,472.8 L894.5,474.0 L891.1,475.3 L887.6,476.5 L884.2,477.8 L880.8,479.0 L877.5,480.2 L874.3,481.4 L871.2,482.6 L868.1,483.7 L865.1,484.8 L862.2,485.9 L859.2,487.0 L856.3,488.1 L853.4,489.1 L850.6,490.2 L847.7,491.3 L844.9,492.3 L842.0,493.4 L839.2,494.5 L836.4,495.5 L833.7,496.6 L831.0,497.7 L828.3,498.7 L825.6,499.8 L822.8,500.9 L820.1,501.9 L817.4,503.0 L814.7,504.1 L811.9,505.3 L809.1,506.4 L806.4,507.6 L803.6,508.8 L800.9,510.0 L798.2,511.2 L795.6,512.4 L792.9,513.6 L790.3,514.9 L787.6,516.1 L784.8,517.4 L782.1,518.8 L779.2,520.1 L776.3,521.5 L773.3,523.0 L770.2,524.5 L767.0,526.0 L763.7,527.6 L760.4,529.3 L757.0,531.0 L753.5,532.7 L750.1,534.4 L746.6,536.2 L743.1,537.9 L739.7,539.7 L736.2,541.5 L732.8,543.3 L729.3,545.1 L725.9,546.9 L722.4,548.7 L718.9,550.6 L715.5,552.4 L712.0,554.3 L708.6,556.2 L705.2,558.0 L701.9,559.8 L698.7,561.6 L695.5,563.3 L692.3,565.0 L689.3,566.7 L686.2,568.4 L683.3,570.0 L680.3,571.7 L677.4,573.3 L674.5,574.9 L671.7,576.5 L668.8,578.1 L666.0,579.7 L663.2,581.2 L660.4,582.8 L657.5,584.4 L654.7,585.9 L651.8,587.5 L649.0,589.0 L646.3,590.5 L643.6,592.0 L640.9,593.5 L638.2,594.9 L635.6,596.3 L632.9,597.8 L630.3,599.1 L627.7,600.5 L625.1,601.8 L622.4,603.2 L619.8,604.5 L617.2,605.8 L614.6,607.0 L612.1,608.3 L609.5,609.5 L606.9,610.7 L604.3,612.0 L601.6,613.2 L598.9,614.4 L596.1,615.7 L593.2,617.0 L590.2,618.2 L587.1,619.5 L583.9,620.8 L580.6,622.1 L577.3,623.4 L573.9,624.8 L570.5,626.1 L567.0,627.4 L563.5,628.8 L560.1,630.2 L556.6,631.5 L553.2,632.9 L549.8,634.2 L546.4,635.6 L542.9,637.0 L539.4,638.3 L535.9,639.7 L532.4,641.1 L528.9,642.5 L525.5,643.8 L522.1,645.2 L518.8,646.5 L515.6,647.8 L512.5,649.1 L509.5,650.3 L506.6,651.5 L503.8,652.6 L501.1,653.7 L498.4,654.8 L495.8,655.9 L493.3,657.0 L490.9,658.0 L488.5,659.0 L486.1,660.0 L483.8,661.0 L481.4,661.9 L479.0,663.0 L476.6,664.1 L474.1,665.2 L471.6,666.3 L469.1,667.4 L466.7,668.4 L464.4,669.4 L462.3,670.4 L460.4,671.2 L458.6,672.0 L457.1,672.6 L455.9,673.1 L474.1,710.9 L475.3,710.3 L476.7,709.5 L478.4,708.6 L480.3,707.6 L482.3,706.5 L484.5,705.3 L486.8,704.1 L489.2,702.9 L491.6,701.7 L493.9,700.5 L496.3,699.2 L498.6,698.1 L500.8,696.9 L503.1,695.6 L505.4,694.4 L507.6,693.2 L509.9,692.0 L512.3,690.7 L514.7,689.5 L517.1,688.2 L519.6,686.9 L522.1,685.6 L524.8,684.3 L527.5,682.9 L530.4,681.6 L533.4,680.2 L536.5,678.7 L539.7,677.3 L543.0,675.8 L546.4,674.3 L549.8,672.8 L553.2,671.2 L556.6,669.7 L560.1,668.1 L563.5,666.6 L566.8,665.1 L570.1,663.6 L573.4,662.1 L576.8,660.6 L580.2,659.1 L583.6,657.6 L587.0,656.1 L590.4,654.6 L593.8,653.1 L597.1,651.6 L600.4,650.0 L603.7,648.5 L606.8,647.0 L609.9,645.6 L612.8,644.2 L615.7,642.8 L618.5,641.4 L621.2,640.0 L623.9,638.6 L626.6,637.2 L629.3,635.9 L631.9,634.5 L634.5,633.1 L637.2,631.6 L639.9,630.2 L642.7,628.7 L645.5,627.1 L648.2,625.6 L650.9,624.0 L653.6,622.5 L656.3,620.9 L659.0,619.4 L661.7,617.8 L664.4,616.2 L667.0,614.7 L669.7,613.1 L672.5,611.6 L675.3,610.1 L678.1,608.6 L680.9,607.1 L683.8,605.6 L686.6,604.1 L689.5,602.6 L692.4,601.1 L695.4,599.5 L698.4,597.9 L701.4,596.3 L704.5,594.7 L707.7,593.0 L710.9,591.2 L714.1,589.4 L717.4,587.5 L720.7,585.6 L724.0,583.7 L727.3,581.8 L730.7,579.9 L734.0,578.0 L737.4,576.1 L740.7,574.3 L744.0,572.5 L747.2,570.7 L750.5,569.0 L753.9,567.3 L757.2,565.5 L760.6,563.8 L764.0,562.1 L767.4,560.4 L770.7,558.7 L774.1,557.1 L777.3,555.5 L780.5,553.9 L783.6,552.4 L786.7,551.0 L789.6,549.6 L792.5,548.3 L795.2,547.1 L797.9,545.9 L800.6,544.7 L803.2,543.6 L805.7,542.5 L808.3,541.4 L810.9,540.3 L813.4,539.3 L816.0,538.2 L818.6,537.2 L821.3,536.1 L823.9,535.1 L826.5,534.1 L829.1,533.2 L831.7,532.2 L834.3,531.2 L837.0,530.3 L839.7,529.3 L842.4,528.4 L845.2,527.4 L848.0,526.4 L850.8,525.3 L853.6,524.3 L856.4,523.2 L859.2,522.2 L862.0,521.1 L864.9,520.1 L867.8,519.0 L870.7,518.0 L873.6,516.9 L876.6,515.8 L879.6,514.7 L882.6,513.5 L885.7,512.4 L888.9,511.2 L892.1,510.0 L895.5,508.8 L898.9,507.5 L902.4,506.3 L905.9,505.0 L909.4,503.7 L912.8,502.4 L916.3,501.1 L919.7,499.9 L922.9,498.6 L926.2,497.3 L929.3,495.9 L932.5,494.4 L935.7,492.9 L938.9,491.4 L941.9,489.9 L944.9,488.5 L947.7,487.0 L950.4,485.7 L952.8,484.5 L954.9,483.4 L956.6,482.5 L958.1,481.7 Z" fill="#9c6a22" stroke="#9c6a22" stroke-width="3.0" stroke-linejoin="round"/>
<path d="M1073.0,495.2 L1072.7,495.1 L1068.7,494.1 L1063.9,492.9 L1058.5,491.6 L1052.6,490.2 L1046.5,488.7 L1040.2,487.2 L1034.0,485.8 L1027.9,484.3 L1022.2,483.0 L1017.0,481.9 L1012.4,480.9 L1008.4,480.1 L1004.7,479.4 L1001.3,478.8 L998.1,478.2 L995.2,477.7 L992.3,477.3 L989.6,476.9 L986.9,476.6 L984.2,476.3 L981.5,476.0 L978.7,475.8 L975.8,475.5 L972.8,475.3 L969.7,475.1 L966.6,475.0 L963.6,474.8 L960.5,474.8 L957.5,474.7 L954.4,474.7 L951.4,474.7 L948.3,474.7 L945.3,474.8 L942.3,474.9 L939.3,475.0 L936.2,475.2 L933.2,475.4 L930.1,475.6 L927.0,475.9 L923.9,476.2 L920.8,476.5 L917.7,476.9 L914.6,477.3 L911.5,477.7 L908.4,478.2 L905.4,478.7 L902.4,479.3 L899.3,479.9 L896.1,480.7 L892.9,481.6 L889.8,482.5 L886.7,483.4 L883.8,484.4 L881.0,485.3 L878.4,486.2 L876.1,486.9 L874.1,487.6 L872.4,488.2 L871.1,488.6 L878.9,513.4 L880.4,512.9 L882.3,512.3 L884.4,511.6 L886.7,510.8 L889.2,510.0 L891.8,509.1 L894.5,508.3 L897.2,507.4 L900.0,506.6 L902.6,505.9 L905.2,505.3 L907.6,504.7 L910.1,504.3 L912.6,503.8 L915.3,503.4 L918.0,503.0 L920.8,502.7 L923.6,502.4 L926.4,502.1 L929.3,501.8 L932.2,501.6 L935.0,501.3 L937.9,501.2 L940.7,501.0 L943.6,500.8 L946.4,500.6 L949.2,500.5 L952.0,500.4 L954.7,500.3 L957.5,500.2 L960.3,500.2 L963.1,500.2 L965.9,500.2 L968.6,500.3 L971.4,500.3 L974.2,500.5 L976.9,500.6 L979.5,500.8 L982.0,500.9 L984.4,501.1 L986.8,501.3 L989.2,501.6 L991.7,501.9 L994.4,502.2 L997.3,502.7 L1000.4,503.2 L1003.8,503.8 L1007.6,504.5 L1012.0,505.4 L1017.0,506.5 L1022.6,507.7 L1028.5,509.1 L1034.7,510.6 L1040.9,512.1 L1047.0,513.5 L1052.8,514.9 L1058.2,516.3 L1063.0,517.4 L1067.1,518.4 L1073.0,519.8 Z" fill="#9c6a22" stroke="#9c6a22" stroke-width="3.0" stroke-linejoin="round"/>
<path d="M460.0,729.5 L461.1,728.8 L462.5,727.8 L464.2,726.7 L466.1,725.5 L468.1,724.1 L470.2,722.7 L472.3,721.2 L474.2,719.8 L476.1,718.3 L478.1,716.8 L480.0,715.2 L482.0,713.5 L484.0,711.8 L486.1,710.2 L488.0,708.5 L490.0,707.0 L491.9,705.5 L493.8,704.1 L495.7,702.7 L497.5,701.3 L499.4,700.0 L501.3,698.6 L503.2,697.3 L505.2,695.9 L507.2,694.5 L509.2,693.1 L511.3,691.8 L513.4,690.4 L515.5,689.0 L517.6,687.7 L519.8,686.3 L522.0,685.0 L524.2,683.7 L526.5,682.3 L528.8,681.0 L531.1,679.7 L533.4,678.3 L535.8,677.1 L538.1,675.9 L540.5,674.7 L543.0,673.6 L545.8,672.4 L548.6,671.3 L551.4,670.2 L554.1,669.2 L556.5,668.3 L558.5,667.6 L560.0,667.0 L558.6,666.3 L556.9,665.2 L554.8,663.9 L552.5,662.6 L549.8,661.3 L546.9,660.4 L543.6,659.9 L540.0,660.0 L535.9,660.7 L531.3,661.9 L526.2,663.4 L520.9,665.2 L515.4,667.3 L510.0,669.7 L504.8,672.3 L500.0,675.0 L495.2,678.2 L490.3,682.1 L485.3,686.5 L480.5,690.9 L476.0,695.3 L472.0,699.3 L468.6,702.6 L466.0,705.0 Z" fill="#9c6a22" stroke="#9c6a22" stroke-width="3.0" stroke-linejoin="round"/>
<path d="M377.5,805.4 L382.2,801.1 L388.1,795.7 L395.1,789.3 L403.0,782.1 L411.6,774.3 L420.5,766.2 L429.4,758.1 L438.3,750.0 L446.7,742.4 L454.4,735.4 L461.1,729.2 L466.7,724.2 L471.2,720.1 L475.0,716.7 L478.1,713.8 L480.7,711.4 L482.9,709.4 L484.7,707.7 L486.3,706.3 L487.8,705.0 L489.2,703.8 L490.7,702.5 L492.4,701.1 L494.4,699.5 L496.6,697.7 L498.9,696.0 L501.2,694.2 L503.6,692.5 L505.9,690.8 L508.3,689.2 L510.5,687.6 L512.6,686.2 L514.5,684.8 L516.3,683.6 L517.8,682.6 L519.0,681.7 L511.0,670.3 L509.8,671.1 L508.3,672.1 L506.6,673.3 L504.7,674.6 L502.5,676.1 L500.2,677.7 L497.8,679.4 L495.4,681.1 L492.9,682.9 L490.4,684.8 L488.0,686.7 L485.6,688.5 L483.5,690.3 L481.7,691.7 L480.1,693.1 L478.5,694.5 L477.0,695.9 L475.3,697.4 L473.4,699.1 L471.2,701.1 L468.6,703.5 L465.5,706.3 L461.8,709.8 L457.3,713.8 L451.7,718.9 L445.0,725.0 L437.2,732.0 L428.8,739.7 L420.0,747.7 L411.0,755.9 L402.1,764.0 L393.6,771.8 L385.7,779.0 L378.7,785.4 L372.8,790.7 L368.5,794.6 Z" fill="#9c6a22" stroke="#9c6a22" stroke-width="3.0" stroke-linejoin="round"/>
<path d="M334.4,769.8 L336.7,768.5 L340.2,766.2 L344.4,763.4 L349.1,760.2 L354.2,756.8 L359.5,753.2 L364.8,749.6 L370.1,746.0 L375.2,742.5 L380.0,739.3 L384.3,736.4 L388.0,734.0 L391.2,731.8 L394.1,729.8 L396.8,728.0 L399.4,726.3 L401.7,724.8 L403.8,723.4 L405.8,722.1 L407.6,721.0 L409.2,719.9 L410.7,719.0 L412.0,718.3 L413.2,717.6 L386.8,682.4 L385.8,683.3 L384.7,684.4 L383.4,685.5 L382.0,686.8 L380.4,688.2 L378.7,689.8 L376.7,691.4 L374.6,693.2 L372.2,695.2 L369.7,697.3 L367.0,699.6 L364.0,702.0 L360.7,704.9 L356.7,708.2 L352.3,711.9 L347.5,715.8 L342.6,719.9 L337.5,724.0 L332.6,728.1 L327.9,732.0 L323.6,735.6 L319.7,738.8 L316.5,741.6 L313.6,744.2 Z" fill="#9c6a22" stroke="#9c6a22" stroke-width="3.0" stroke-linejoin="round"/>
<path d="M420.1,813.5 L422.5,811.7 L425.5,809.3 L429.2,806.6 L433.2,803.5 L437.7,800.1 L442.4,796.5 L447.3,792.7 L452.3,788.9 L457.4,784.9 L462.4,781.0 L467.2,777.1 L471.9,773.3 L476.5,769.5 L481.3,765.5 L486.3,761.3 L491.3,757.1 L496.4,752.8 L501.4,748.4 L506.3,744.1 L511.1,739.9 L515.8,735.9 L520.2,732.0 L524.2,728.4 L528.0,725.0 L531.4,722.0 L534.6,719.2 L537.4,716.6 L540.1,714.1 L542.5,711.8 L544.9,709.6 L547.1,707.5 L549.2,705.4 L551.3,703.4 L553.4,701.3 L555.5,699.2 L557.7,697.1 L560.1,695.1 L562.4,693.1 L564.7,691.1 L567.1,689.2 L569.3,687.3 L571.6,685.4 L573.9,683.5 L576.1,681.5 L578.3,679.4 L580.5,677.2 L582.7,675.0 L584.9,672.6 L587.0,670.0 L589.2,667.1 L591.4,664.1 L593.6,661.1 L595.7,657.9 L597.7,654.9 L599.6,651.9 L601.4,649.1 L603.1,646.5 L604.6,644.3 L605.8,642.5 L606.9,641.0 L593.1,633.0 L592.3,634.7 L591.3,636.9 L590.2,639.4 L588.9,642.1 L587.5,645.1 L586.0,648.2 L584.4,651.3 L582.7,654.5 L581.1,657.6 L579.4,660.6 L577.7,663.3 L576.1,665.8 L574.5,668.1 L572.8,670.4 L571.0,672.5 L569.2,674.7 L567.3,676.8 L565.4,678.9 L563.4,681.0 L561.4,683.1 L559.3,685.3 L557.2,687.5 L555.0,689.8 L552.9,692.1 L550.7,694.3 L548.5,696.5 L546.5,698.6 L544.5,700.7 L542.4,702.8 L540.3,705.0 L538.1,707.2 L535.7,709.5 L533.2,712.0 L530.4,714.6 L527.3,717.5 L524.0,720.6 L520.3,723.9 L516.2,727.5 L511.8,731.4 L507.2,735.4 L502.4,739.6 L497.5,743.9 L492.4,748.2 L487.4,752.5 L482.4,756.8 L477.5,760.9 L472.7,764.9 L468.1,768.7 L463.5,772.4 L458.6,776.2 L453.6,780.1 L448.6,784.0 L443.5,787.8 L438.6,791.5 L433.9,795.1 L429.4,798.4 L425.3,801.5 L421.7,804.2 L418.5,806.5 L415.9,808.5 Z" fill="#9c6a22" stroke="#9c6a22" stroke-width="3.0" stroke-linejoin="round"/>
<path d="M514.7,792.0 L516.0,789.9 L517.1,788.2 L518.3,786.2 L519.8,783.9 L521.3,781.4 L522.9,778.8 L524.6,776.1 L526.3,773.4 L527.9,770.7 L529.5,768.2 L531.1,765.8 L532.5,763.6 L533.9,761.7 L535.3,759.8 L536.6,758.0 L537.9,756.2 L539.2,754.5 L540.5,752.8 L541.8,751.1 L543.1,749.4 L544.5,747.7 L545.8,745.9 L547.2,744.1 L548.6,742.3 L549.9,740.3 L551.3,738.3 L552.7,736.3 L554.2,734.2 L555.6,732.2 L557.0,730.1 L558.4,728.0 L559.9,726.0 L561.3,724.0 L562.6,722.0 L564.0,720.1 L565.3,718.3 L566.5,716.6 L567.7,714.9 L568.9,713.2 L570.1,711.6 L571.3,710.0 L572.4,708.4 L573.5,706.9 L574.6,705.4 L575.8,703.9 L576.9,702.4 L578.0,700.9 L579.2,699.5 L580.3,698.0 L581.4,696.6 L582.5,695.3 L583.5,694.0 L584.6,692.7 L585.6,691.4 L586.7,690.0 L587.8,688.7 L589.0,687.3 L590.3,685.8 L591.6,684.3 L593.0,682.6 L594.6,681.0 L596.3,679.2 L598.1,677.4 L599.9,675.5 L601.9,673.5 L603.8,671.5 L605.8,669.5 L607.8,667.4 L609.8,665.3 L611.7,663.3 L613.6,661.2 L615.4,659.2 L617.3,657.2 L619.2,655.0 L621.2,652.8 L623.1,650.6 L625.1,648.3 L626.9,646.1 L628.7,644.0 L630.4,642.0 L632.0,640.2 L633.4,638.6 L634.6,637.3 L635.6,636.2 L624.4,627.8 L623.7,629.1 L622.7,630.6 L621.6,632.4 L620.3,634.4 L618.9,636.6 L617.4,638.9 L615.8,641.3 L614.2,643.7 L612.5,646.1 L610.9,648.4 L609.3,650.7 L607.8,652.8 L606.2,654.8 L604.5,656.9 L602.7,659.0 L600.9,661.1 L599.1,663.3 L597.2,665.4 L595.4,667.5 L593.6,669.6 L591.8,671.6 L590.1,673.6 L588.5,675.5 L587.0,677.4 L585.5,679.0 L584.2,680.6 L582.9,682.1 L581.7,683.5 L580.6,684.9 L579.4,686.3 L578.3,687.6 L577.3,688.9 L576.2,690.3 L575.1,691.7 L574.0,693.1 L572.8,694.5 L571.7,696.1 L570.5,697.6 L569.4,699.1 L568.2,700.6 L567.1,702.1 L565.9,703.7 L564.8,705.3 L563.6,706.9 L562.4,708.5 L561.2,710.2 L560.0,711.9 L558.7,713.7 L557.4,715.5 L556.1,717.4 L554.7,719.4 L553.3,721.4 L551.9,723.5 L550.4,725.5 L549.0,727.6 L547.6,729.7 L546.1,731.7 L544.7,733.8 L543.4,735.8 L542.0,737.7 L540.8,739.6 L539.6,741.5 L538.4,743.3 L537.2,745.1 L536.0,746.9 L534.8,748.7 L533.6,750.5 L532.4,752.4 L531.2,754.3 L530.0,756.2 L528.8,758.3 L527.5,760.4 L526.1,762.6 L524.6,765.1 L523.0,767.7 L521.4,770.5 L519.8,773.2 L518.2,776.0 L516.6,778.6 L515.2,781.2 L513.8,783.5 L512.7,785.6 L511.6,787.3 L511.3,788.0 Z" fill="#9c6a22" stroke="#9c6a22" stroke-width="3.0" stroke-linejoin="round"/>
<path d="M1084.0,82.8 L1075.4,87.4 L1072.0,89.1 L1068.1,91.1 L1063.8,93.4 L1059.0,95.9 L1054.0,98.6 L1048.8,101.3 L1043.5,104.1 L1038.3,106.9 L1033.1,109.6 L1028.2,112.2 L1023.5,114.7 L1019.0,117.1 L1014.4,119.5 L1009.8,122.0 L1005.1,124.5 L1000.4,127.0 L995.8,129.5 L991.3,131.9 L986.8,134.3 L982.6,136.6 L978.5,138.8 L974.7,140.9 L971.1,142.8 L967.8,144.8 L964.9,146.6 L962.2,148.3 L959.7,149.9 L957.4,151.4 L955.2,152.9 L953.1,154.3 L951.1,155.6 L949.2,156.9 L947.3,158.2 L945.3,159.5 L943.2,160.9 L941.1,162.3 L938.9,163.7 L936.9,165.1 L934.8,166.5 L932.8,167.8 L930.9,169.1 L929.0,170.4 L927.0,171.6 L925.1,172.9 L923.2,174.1 L921.3,175.3 L919.3,176.4 L917.2,177.6 L915.2,178.8 L913.1,180.0 L910.9,181.2 L908.8,182.3 L906.7,183.5 L904.5,184.6 L902.4,185.7 L900.2,186.8 L898.1,187.8 L895.9,188.8 L893.8,189.9 L891.6,190.8 L889.4,191.8 L887.2,192.8 L885.0,193.7 L882.8,194.6 L880.6,195.5 L878.4,196.4 L876.2,197.2 L874.0,198.0 L871.7,198.8 L869.5,199.6 L867.2,200.4 L864.8,201.3 L862.6,202.2 L860.3,203.1 L858.1,203.9 L855.9,204.7 L853.6,205.5 L851.4,206.3 L849.1,207.0 L846.7,207.7 L844.3,208.4 L841.7,209.0 L839.0,209.6 L836.2,210.0 L833.3,210.3 L830.2,210.6 L827.0,210.9 L823.7,211.1 L820.3,211.3 L816.9,211.5 L813.5,211.7 L810.1,211.8 L806.6,212.0 L803.2,212.1 L799.8,212.3 L796.5,212.3 L793.2,212.4 L789.9,212.4 L786.6,212.4 L783.2,212.4 L779.9,212.4 L776.5,212.4 L773.2,212.4 L769.9,212.3 L766.6,212.3 L763.3,212.3 L760.1,212.3 L756.7,212.2 L753.2,212.2 L749.7,212.1 L746.0,212.1 L742.4,212.1 L738.9,212.0 L735.4,211.9 L732.2,211.9 L729.3,211.9 L726.7,211.8 L724.4,211.8 L722.5,211.7 L722.5,225.3 L724.2,225.3 L726.4,225.3 L729.1,225.4 L732.0,225.4 L735.2,225.4 L738.6,225.5 L742.2,225.6 L745.8,225.6 L749.5,225.6 L753.1,225.7 L756.6,225.7 L759.9,225.7 L763.2,225.8 L766.5,225.8 L769.8,225.8 L773.1,225.9 L776.4,225.9 L779.8,225.9 L783.2,225.9 L786.6,225.9 L790.0,225.9 L793.4,225.9 L796.8,225.8 L800.2,225.7 L803.5,225.7 L806.9,225.7 L810.4,225.7 L813.9,225.7 L817.4,225.6 L820.9,225.6 L824.4,225.5 L827.8,225.3 L831.2,225.2 L834.6,225.0 L837.8,224.7 L841.0,224.4 L844.0,224.2 L846.9,224.0 L849.8,223.6 L852.6,223.3 L855.2,222.9 L857.9,222.5 L860.4,222.0 L863.0,221.6 L865.4,221.1 L867.9,220.6 L870.4,220.1 L872.8,219.6 L875.3,218.9 L877.9,218.2 L880.3,217.5 L882.8,216.8 L885.3,216.0 L887.7,215.3 L890.2,214.5 L892.6,213.6 L895.0,212.8 L897.4,211.9 L899.8,211.1 L902.2,210.1 L904.7,209.2 L907.1,208.2 L909.5,207.3 L911.9,206.2 L914.3,205.2 L916.7,204.2 L919.1,203.1 L921.4,202.0 L923.8,200.9 L926.1,199.8 L928.4,198.7 L930.7,197.6 L933.0,196.4 L935.3,195.2 L937.5,194.0 L939.7,192.8 L941.9,191.6 L944.0,190.4 L946.1,189.2 L948.2,188.0 L950.3,186.8 L952.4,185.6 L954.6,184.3 L956.8,183.1 L959.0,181.8 L961.2,180.6 L963.3,179.4 L965.3,178.2 L967.4,177.0 L969.4,175.8 L971.6,174.6 L973.9,173.3 L976.3,171.9 L978.9,170.4 L981.8,168.9 L984.9,167.2 L988.3,165.2 L992.0,163.1 L996.0,160.9 L1000.1,158.5 L1004.5,156.1 L1009.0,153.6 L1013.5,151.1 L1018.2,148.5 L1022.8,145.9 L1027.4,143.4 L1032.0,140.8 L1036.5,138.3 L1041.0,135.8 L1045.9,133.0 L1051.0,130.1 L1056.2,127.2 L1061.4,124.3 L1066.5,121.4 L1071.4,118.6 L1076.1,115.9 L1080.4,113.5 L1084.2,111.3 L1087.4,109.5 L1084.0,111.2 Z" fill="#fdf45f"/>
<path d="M939,206.4 L978,169 L960,162 L880,203 L850,245 L945,215 Z" fill="#fdf45f"/>
<path d="M836,219 L880,201 L932,186 L932,226 L900,246 L870,257 L846,253 Z" fill="#fdf45f"/>
<path d="M1084.0,207.0 L1079.7,207.0 L1074.3,207.0 L1067.8,207.1 L1060.5,207.1 L1052.7,207.1 L1044.4,207.2 L1036.1,207.2 L1027.8,207.2 L1019.8,207.3 L1012.3,207.4 L1005.6,207.4 L999.8,207.5 L994.8,207.5 L990.4,207.5 L986.3,207.5 L982.6,207.5 L979.3,207.5 L976.1,207.6 L973.1,207.6 L970.2,207.7 L967.5,207.7 L964.7,207.8 L961.9,207.9 L959.0,208.0 L956.0,208.1 L953.2,208.1 L950.5,208.2 L947.8,208.3 L945.2,208.4 L942.6,208.5 L940.0,208.6 L937.5,208.8 L935.0,209.0 L932.4,209.2 L929.8,209.5 L927.2,209.7 L924.6,210.2 L922.0,210.6 L919.4,211.0 L916.7,211.5 L914.1,212.0 L911.4,212.6 L908.6,213.1 L905.9,213.8 L903.1,214.5 L900.3,215.2 L897.5,216.0 L894.6,216.9 L891.8,218.0 L889.0,219.3 L886.2,220.5 L883.4,221.9 L880.7,223.2 L878.0,224.6 L875.3,226.0 L872.8,227.3 L870.3,228.7 L867.9,230.0 L865.7,231.3 L863.4,232.5 L861.2,234.0 L859.0,235.5 L856.8,237.0 L854.7,238.5 L852.7,240.0 L850.7,241.5 L848.9,242.9 L847.3,244.2 L845.8,245.5 L844.5,246.6 L843.5,247.5 L842.7,248.4 L853.3,267.6 L854.6,267.3 L856.1,266.8 L857.7,266.3 L859.5,265.6 L861.5,264.9 L863.5,264.1 L865.6,263.3 L867.8,262.5 L870.0,261.7 L872.2,260.9 L874.4,260.2 L876.6,259.5 L878.8,258.6 L881.1,257.7 L883.6,256.7 L886.0,255.7 L888.5,254.7 L891.0,253.8 L893.5,252.9 L896.0,252.0 L898.5,251.2 L900.9,250.4 L903.2,249.7 L905.4,249.1 L907.5,248.4 L909.7,247.7 L911.9,247.0 L914.1,246.4 L916.4,245.8 L918.6,245.3 L920.9,244.7 L923.3,244.2 L925.6,243.7 L928.0,243.2 L930.4,242.7 L932.8,242.3 L935.1,241.7 L937.4,241.2 L939.6,240.7 L941.8,240.2 L943.9,239.7 L946.1,239.3 L948.4,238.9 L950.7,238.5 L953.1,238.1 L955.6,237.7 L958.3,237.3 L961.0,237.0 L963.8,236.7 L966.5,236.4 L969.1,236.2 L971.7,236.0 L974.4,235.8 L977.2,235.6 L980.2,235.4 L983.4,235.2 L987.0,235.0 L991.0,234.8 L995.3,234.7 L1000.2,234.5 L1005.9,234.4 L1012.5,234.4 L1020.0,234.3 L1027.9,234.2 L1036.2,234.2 L1044.6,234.2 L1052.8,234.1 L1060.6,234.1 L1067.9,234.1 L1074.4,234.0 L1079.9,234.0 L1084.0,234.0 Z" fill="#fdf45f"/>
<path d="M872.0,236.0 L870.3,234.8 L867.9,233.0 L865.1,230.9 L861.9,228.7 L858.7,226.4 L855.5,224.5 L852.6,222.9 L850.0,222.0 L847.7,221.8 L845.4,222.1 L843.2,222.9 L841.1,223.9 L839.2,225.0 L837.5,226.1 L836.0,226.9 L834.9,227.5 L830.6,229.6 L824.6,232.4 L817.5,235.8 L809.7,239.6 L801.7,243.4 L794.0,247.1 L787.2,250.4 L781.7,253.1 L777.7,255.1 L774.7,256.5 L772.5,257.6 L770.6,258.6 L768.7,259.5 L766.6,260.7 L763.8,262.4 L760.0,264.6 L755.2,267.5 L749.6,270.9 L743.5,274.7 L737.0,278.8 L730.4,283.0 L723.7,287.1 L717.2,291.2 L711.1,294.9 L705.1,298.5 L699.0,302.1 L692.9,305.6 L686.8,309.1 L681.0,312.5 L675.4,315.7 L670.2,318.7 L665.5,321.5 L661.3,324.0 L657.6,326.4 L654.2,328.5 L651.1,330.4 L648.3,332.3 L645.5,334.1 L642.8,335.8 L640.0,337.5 L637.3,339.0 L635.0,340.3 L632.8,341.5 L630.7,342.6 L628.4,343.8 L626.0,345.2 L623.2,346.9 L620.0,349.0 L616.3,351.5 L612.3,354.2 L608.1,357.1 L603.6,360.3 L598.9,363.7 L594.1,367.4 L589.1,371.4 L584.0,375.6 L578.7,380.3 L573.0,385.5 L567.1,391.1 L561.1,396.9 L555.1,402.8 L549.2,408.5 L543.6,413.9 L538.4,418.9 L533.5,423.4 L528.9,427.7 L524.5,431.8 L520.3,435.7 L516.2,439.5 L512.2,443.3 L508.2,447.0 L504.2,450.8 L500.3,454.6 L496.6,458.2 L493.0,461.8 L489.4,465.4 L485.9,469.0 L482.2,472.6 L478.5,476.4 L474.6,480.4 L470.3,484.8 L465.5,489.7 L460.5,494.9 L455.5,500.0 L450.7,505.0 L446.3,509.5 L442.7,513.2 L440.0,516.0 L440.0,566.0 L442.8,563.5 L446.6,560.2 L451.2,556.2 L456.2,551.8 L461.3,547.3 L466.3,542.8 L470.8,538.7 L474.6,535.1 L477.6,532.1 L479.9,529.6 L481.9,527.3 L483.7,525.1 L485.5,522.8 L487.5,520.4 L489.9,517.7 L492.8,514.6 L496.3,511.0 L500.2,507.0 L504.5,502.7 L508.9,498.2 L513.5,493.7 L518.1,489.1 L522.6,484.7 L527.0,480.4 L531.3,476.3 L535.5,472.3 L539.7,468.3 L544.0,464.3 L548.2,460.4 L552.5,456.4 L556.8,452.5 L561.2,448.5 L565.7,444.4 L570.5,440.3 L575.3,436.1 L580.1,432.0 L584.9,427.9 L589.4,423.9 L593.7,420.1 L597.6,416.6 L601.1,413.2 L604.2,410.0 L607.1,406.8 L609.8,403.8 L612.4,401.0 L614.9,398.4 L617.4,396.1 L620.0,394.0 L622.7,392.3 L625.4,390.9 L628.0,389.8 L630.6,388.9 L633.2,388.1 L635.6,387.4 L637.9,386.8 L640.0,386.0 L641.9,385.2 L643.6,384.5 L645.1,383.9 L646.5,383.2 L647.9,382.7 L649.2,382.1 L650.6,381.5 L652.0,381.0 L653.6,380.4 L655.3,379.9 L657.0,379.3 L658.8,378.8 L660.4,378.3 L661.8,377.9 L663.1,377.5 L664.0,377.2 L664.4,376.0 L665.0,374.4 L665.6,372.5 L666.3,370.4 L667.1,368.2 L667.8,366.0 L668.5,363.9 L669.0,362.0 L669.5,360.2 L669.9,358.4 L670.3,356.6 L670.6,354.9 L670.9,353.2 L671.2,351.8 L671.4,350.5 L671.6,349.6 L674.6,347.6 L678.5,345.0 L683.1,341.9 L688.3,338.4 L693.9,334.7 L699.6,331.0 L705.4,327.3 L711.1,323.8 L716.8,320.4 L722.9,316.9 L729.2,313.2 L735.6,309.6 L741.9,306.1 L748.2,302.7 L754.3,299.4 L760.0,296.4 L765.3,293.7 L770.3,291.2 L775.1,289.0 L779.7,286.8 L784.4,284.7 L789.1,282.6 L794.1,280.4 L799.4,278.0 L805.3,275.3 L812.0,272.4 L819.0,269.3 L826.0,266.1 L832.7,263.2 L838.8,260.5 L843.9,258.3 L847.7,256.6 L872.0,256.0 Z" fill="#fdf45f"/>
<path d="M1083.0,286.8 L1072.7,290.2 L1064.6,292.8 L1055.0,296.0 L1044.1,299.5 L1032.4,303.3 L1020.2,307.3 L1007.8,311.3 L995.6,315.3 L984.0,319.2 L973.2,322.7 L963.7,326.0 L955.8,328.7 L949.2,330.9 L943.5,332.9 L938.6,334.7 L934.3,336.3 L930.6,337.7 L927.4,339.0 L924.4,340.2 L921.8,341.3 L919.2,342.4 L916.7,343.4 L914.0,344.4 L910.8,345.6 L907.3,346.8 L903.7,348.1 L900.2,349.4 L896.8,350.7 L893.6,351.9 L890.5,353.0 L887.5,354.1 L884.6,355.0 L881.8,355.8 L879.1,356.4 L876.6,356.9 L874.1,357.3 L871.7,358.2 L869.2,358.9 L866.5,359.6 L863.8,360.2 L860.9,360.7 L858.0,361.1 L854.9,361.5 L851.7,361.8 L848.5,362.1 L845.2,362.4 L841.8,362.7 L838.5,363.0 L835.3,362.9 L832.1,362.8 L829.0,362.6 L825.8,362.4 L822.6,362.1 L819.4,361.9 L816.2,361.6 L812.9,361.3 L809.7,361.1 L806.4,360.8 L803.1,360.6 L799.8,360.3 L796.5,360.1 L793.2,359.9 L789.9,359.7 L786.7,359.5 L783.4,359.4 L780.2,359.2 L777.0,359.0 L773.8,358.8 L770.6,358.6 L767.3,358.4 L764.1,358.1 L760.9,357.8 L757.7,357.5 L754.4,357.0 L751.0,356.6 L747.6,356.1 L744.1,355.6 L740.7,355.0 L737.2,354.5 L733.8,354.1 L730.4,353.6 L727.1,353.2 L723.8,352.8 L720.7,352.5 L717.6,352.3 L714.7,352.1 L711.8,352.0 L709.0,351.9 L706.3,351.8 L703.7,351.8 L701.1,351.8 L698.6,351.8 L696.2,351.8 L693.9,351.9 L691.7,351.9 L689.5,352.0 L687.4,352.1 L685.3,352.2 L683.3,352.3 L681.4,352.4 L679.5,352.6 L677.8,352.8 L676.0,353.0 L674.3,353.2 L672.6,353.4 L671.0,353.7 L669.4,353.9 L667.7,354.2 L666.0,354.7 L664.2,355.2 L662.5,355.8 L660.8,356.4 L659.2,356.9 L657.7,357.5 L656.3,358.1 L655.1,358.6 L654.0,359.1 L653.0,359.5 L652.3,359.8 L651.7,360.1 L658.3,378.9 L659.1,378.7 L660.1,378.4 L661.2,378.0 L662.3,377.6 L663.5,377.2 L664.8,376.8 L666.0,376.4 L667.3,376.0 L668.6,375.6 L669.9,375.3 L671.1,375.0 L672.3,374.8 L673.5,374.4 L674.9,374.1 L676.2,373.9 L677.5,373.6 L678.9,373.3 L680.4,373.1 L681.9,372.9 L683.4,372.7 L685.0,372.5 L686.8,372.3 L688.6,372.1 L690.5,372.0 L692.6,371.8 L694.7,371.7 L696.9,371.6 L699.2,371.5 L701.5,371.4 L703.8,371.3 L706.3,371.2 L708.8,371.2 L711.3,371.2 L713.9,371.3 L716.6,371.4 L719.3,371.5 L722.1,371.7 L725.1,371.9 L728.2,372.2 L731.5,372.6 L734.8,373.0 L738.2,373.4 L741.7,373.8 L745.2,374.2 L748.7,374.7 L752.2,375.1 L755.7,375.4 L759.1,375.8 L762.5,376.1 L765.8,376.5 L769.1,376.8 L772.4,377.1 L775.6,377.4 L778.9,377.6 L782.2,377.9 L785.4,378.2 L788.6,378.4 L791.8,378.7 L795.0,379.0 L798.2,379.3 L801.4,379.6 L804.6,379.9 L807.8,380.2 L811.1,380.6 L814.3,380.9 L817.6,381.3 L820.9,381.6 L824.2,382.0 L827.5,382.3 L830.9,382.5 L834.2,382.8 L837.5,383.0 L840.7,383.6 L843.8,384.3 L847.0,385.0 L850.3,385.7 L853.6,386.4 L857.0,387.1 L860.6,387.7 L864.2,388.2 L868.0,388.6 L871.8,388.8 L875.8,388.9 L879.9,388.7 L883.9,387.7 L887.7,386.5 L891.5,385.2 L895.0,383.8 L898.5,382.3 L901.9,380.8 L905.2,379.2 L908.4,377.6 L911.6,376.1 L914.8,374.6 L917.9,373.1 L921.2,371.6 L924.5,370.2 L927.6,368.8 L930.3,367.5 L933.0,366.3 L935.5,365.0 L938.1,363.8 L941.0,362.4 L944.3,361.0 L948.1,359.4 L952.6,357.6 L957.9,355.6 L964.2,353.3 L972.0,350.7 L981.5,347.6 L992.2,344.1 L1003.8,340.4 L1015.9,336.5 L1028.3,332.5 L1040.5,328.6 L1052.3,324.9 L1063.1,321.4 L1072.8,318.4 L1080.9,315.8 L1083.0,315.2 Z" fill="#fdf45f"/>
<path d="M892,366 L890,385.5 L848,405.5 L835.5,386 Z" fill="#fdf45f"/>
<path d="M1080.0,395.3 L1070.5,398.9 L1066.0,400.7 L1060.8,402.7 L1054.9,404.9 L1048.6,407.4 L1041.9,409.9 L1035.1,412.5 L1028.3,415.1 L1021.6,417.6 L1015.3,420.0 L1009.5,422.1 L1004.3,424.0 L999.6,425.5 L994.9,426.9 L990.4,428.3 L986.1,429.6 L981.9,430.8 L977.9,432.0 L974.0,433.0 L970.3,434.0 L966.8,434.9 L963.4,435.7 L960.3,436.4 L957.4,437.1 L954.8,437.7 L952.5,438.3 L950.3,438.7 L948.3,439.1 L946.4,439.3 L944.6,439.6 L942.9,439.8 L941.3,440.0 L939.8,440.1 L938.2,440.3 L936.7,440.5 L935.3,440.7 L940.7,477.3 L941.5,477.2 L942.4,477.1 L943.7,476.9 L945.3,476.8 L947.3,476.5 L949.4,476.3 L951.8,475.9 L954.4,475.5 L957.2,475.0 L960.2,474.4 L963.4,473.7 L966.6,472.9 L969.9,471.9 L973.3,470.8 L976.8,469.7 L980.5,468.5 L984.4,467.2 L988.4,465.9 L992.5,464.4 L996.9,462.9 L1001.3,461.3 L1006.0,459.6 L1010.7,457.9 L1015.7,456.0 L1021.1,454.1 L1027.1,451.9 L1033.6,449.5 L1040.3,446.9 L1047.2,444.3 L1054.1,441.7 L1060.8,439.1 L1067.2,436.7 L1073.0,434.4 L1078.2,432.4 L1082.6,430.7 L1080.0,431.7 Z" fill="#fdf45f"/>
<path d="M945.9,454.3 L944.3,454.9 L942.3,455.6 L940.1,456.5 L937.6,457.5 L934.9,458.5 L932.1,459.7 L929.1,460.9 L926.0,462.1 L922.9,463.3 L919.8,464.5 L916.8,465.6 L913.8,466.7 L910.9,467.9 L907.8,469.0 L904.6,470.3 L901.3,471.5 L897.9,472.8 L894.5,474.0 L891.1,475.3 L887.6,476.5 L884.2,477.8 L880.8,479.0 L877.5,480.2 L874.3,481.4 L871.2,482.6 L868.1,483.7 L865.1,484.8 L862.2,485.9 L859.2,487.0 L856.3,488.1 L853.4,489.1 L850.6,490.2 L847.7,491.3 L844.9,492.3 L842.0,493.4 L839.2,494.5 L836.4,495.5 L833.7,496.6 L831.0,497.7 L828.3,498.7 L825.6,499.8 L822.8,500.9 L820.1,501.9 L817.4,503.0 L814.7,504.1 L811.9,505.3 L809.1,506.4 L806.4,507.6 L803.6,508.8 L800.9,510.0 L798.2,511.2 L795.6,512.4 L792.9,513.6 L790.3,514.9 L787.6,516.1 L784.8,517.4 L782.1,518.8 L779.2,520.1 L776.3,521.5 L773.3,523.0 L770.2,524.5 L767.0,526.0 L763.7,527.6 L760.4,529.3 L757.0,531.0 L753.5,532.7 L750.1,534.4 L746.6,536.2 L743.1,537.9 L739.7,539.7 L736.2,541.5 L732.8,543.3 L729.3,545.1 L725.9,546.9 L722.4,548.7 L718.9,550.6 L715.5,552.4 L712.0,554.3 L708.6,556.2 L705.2,558.0 L701.9,559.8 L698.7,561.6 L695.5,563.3 L692.3,565.0 L689.3,566.7 L686.2,568.4 L683.3,570.0 L680.3,571.7 L677.4,573.3 L674.5,574.9 L671.7,576.5 L668.8,578.1 L666.0,579.7 L663.2,581.2 L660.4,582.8 L657.5,584.4 L654.7,585.9 L651.8,587.5 L649.0,589.0 L646.3,590.5 L643.6,592.0 L640.9,593.5 L638.2,594.9 L635.6,596.3 L632.9,597.8 L630.3,599.1 L627.7,600.5 L625.1,601.8 L622.4,603.2 L619.8,604.5 L617.2,605.8 L614.6,607.0 L612.1,608.3 L609.5,609.5 L606.9,610.7 L604.3,612.0 L601.6,613.2 L598.9,614.4 L596.1,615.7 L593.2,617.0 L590.2,618.2 L587.1,619.5 L583.9,620.8 L580.6,622.1 L577.3,623.4 L573.9,624.8 L570.5,626.1 L567.0,627.4 L563.5,628.8 L560.1,630.2 L556.6,631.5 L553.2,632.9 L549.8,634.2 L546.4,635.6 L542.9,637.0 L539.4,638.3 L535.9,639.7 L532.4,641.1 L528.9,642.5 L525.5,643.8 L522.1,645.2 L518.8,646.5 L515.6,647.8 L512.5,649.1 L509.5,650.3 L506.6,651.5 L503.8,652.6 L501.1,653.7 L498.4,654.8 L495.8,655.9 L493.3,657.0 L490.9,658.0 L488.5,659.0 L486.1,660.0 L483.8,661.0 L481.4,661.9 L479.0,663.0 L476.6,664.1 L474.1,665.2 L471.6,666.3 L469.1,667.4 L466.7,668.4 L464.4,669.4 L462.3,670.4 L460.4,671.2 L458.6,672.0 L457.1,672.6 L455.9,673.1 L474.1,710.9 L475.3,710.3 L476.7,709.5 L478.4,708.6 L480.3,707.6 L482.3,706.5 L484.5,705.3 L486.8,704.1 L489.2,702.9 L491.6,701.7 L493.9,700.5 L496.3,699.2 L498.6,698.1 L500.8,696.9 L503.1,695.6 L505.4,694.4 L507.6,693.2 L509.9,692.0 L512.3,690.7 L514.7,689.5 L517.1,688.2 L519.6,686.9 L522.1,685.6 L524.8,684.3 L527.5,682.9 L530.4,681.6 L533.4,680.2 L536.5,678.7 L539.7,677.3 L543.0,675.8 L546.4,674.3 L549.8,672.8 L553.2,671.2 L556.6,669.7 L560.1,668.1 L563.5,666.6 L566.8,665.1 L570.1,663.6 L573.4,662.1 L576.8,660.6 L580.2,659.1 L583.6,657.6 L587.0,656.1 L590.4,654.6 L593.8,653.1 L597.1,651.6 L600.4,650.0 L603.7,648.5 L606.8,647.0 L609.9,645.6 L612.8,644.2 L615.7,642.8 L618.5,641.4 L621.2,640.0 L623.9,638.6 L626.6,637.2 L629.3,635.9 L631.9,634.5 L634.5,633.1 L637.2,631.6 L639.9,630.2 L642.7,628.7 L645.5,627.1 L648.2,625.6 L650.9,624.0 L653.6,622.5 L656.3,620.9 L659.0,619.4 L661.7,617.8 L664.4,616.2 L667.0,614.7 L669.7,613.1 L672.5,611.6 L675.3,610.1 L678.1,608.6 L680.9,607.1 L683.8,605.6 L686.6,604.1 L689.5,602.6 L692.4,601.1 L695.4,599.5 L698.4,597.9 L701.4,596.3 L704.5,594.7 L707.7,593.0 L710.9,591.2 L714.1,589.4 L717.4,587.5 L720.7,585.6 L724.0,583.7 L727.3,581.8 L730.7,579.9 L734.0,578.0 L737.4,576.1 L740.7,574.3 L744.0,572.5 L747.2,570.7 L750.5,569.0 L753.9,567.3 L757.2,565.5 L760.6,563.8 L764.0,562.1 L767.4,560.4 L770.7,558.7 L774.1,557.1 L777.3,555.5 L780.5,553.9 L783.6,552.4 L786.7,551.0 L789.6,549.6 L792.5,548.3 L795.2,547.1 L797.9,545.9 L800.6,544.7 L803.2,543.6 L805.7,542.5 L808.3,541.4 L810.9,540.3 L813.4,539.3 L816.0,538.2 L818.6,537.2 L821.3,536.1 L823.9,535.1 L826.5,534.1 L829.1,533.2 L831.7,532.2 L834.3,531.2 L837.0,530.3 L839.7,529.3 L842.4,528.4 L845.2,527.4 L848.0,526.4 L850.8,525.3 L853.6,524.3 L856.4,523.2 L859.2,522.2 L862.0,521.1 L864.9,520.1 L867.8,519.0 L870.7,518.0 L873.6,516.9 L876.6,515.8 L879.6,514.7 L882.6,513.5 L885.7,512.4 L888.9,511.2 L892.1,510.0 L895.5,508.8 L898.9,507.5 L902.4,506.3 L905.9,505.0 L909.4,503.7 L912.8,502.4 L916.3,501.1 L919.7,499.9 L922.9,498.6 L926.2,497.3 L929.3,495.9 L932.5,494.4 L935.7,492.9 L938.9,491.4 L941.9,489.9 L944.9,488.5 L947.7,487.0 L950.4,485.7 L952.8,484.5 L954.9,483.4 L956.6,482.5 L958.1,481.7 Z" fill="#fdf45f"/>
<path d="M1073.0,495.2 L1072.7,495.1 L1068.7,494.1 L1063.9,492.9 L1058.5,491.6 L1052.6,490.2 L1046.5,488.7 L1040.2,487.2 L1034.0,485.8 L1027.9,484.3 L1022.2,483.0 L1017.0,481.9 L1012.4,480.9 L1008.4,480.1 L1004.7,479.4 L1001.3,478.8 L998.1,478.2 L995.2,477.7 L992.3,477.3 L989.6,476.9 L986.9,476.6 L984.2,476.3 L981.5,476.0 L978.7,475.8 L975.8,475.5 L972.8,475.3 L969.7,475.1 L966.6,475.0 L963.6,474.8 L960.5,474.8 L957.5,474.7 L954.4,474.7 L951.4,474.7 L948.3,474.7 L945.3,474.8 L942.3,474.9 L939.3,475.0 L936.2,475.2 L933.2,475.4 L930.1,475.6 L927.0,475.9 L923.9,476.2 L920.8,476.5 L917.7,476.9 L914.6,477.3 L911.5,477.7 L908.4,478.2 L905.4,478.7 L902.4,479.3 L899.3,479.9 L896.1,480.7 L892.9,481.6 L889.8,482.5 L886.7,483.4 L883.8,484.4 L881.0,485.3 L878.4,486.2 L876.1,486.9 L874.1,487.6 L872.4,488.2 L871.1,488.6 L878.9,513.4 L880.4,512.9 L882.3,512.3 L884.4,511.6 L886.7,510.8 L889.2,510.0 L891.8,509.1 L894.5,508.3 L897.2,507.4 L900.0,506.6 L902.6,505.9 L905.2,505.3 L907.6,504.7 L910.1,504.3 L912.6,503.8 L915.3,503.4 L918.0,503.0 L920.8,502.7 L923.6,502.4 L926.4,502.1 L929.3,501.8 L932.2,501.6 L935.0,501.3 L937.9,501.2 L940.7,501.0 L943.6,500.8 L946.4,500.6 L949.2,500.5 L952.0,500.4 L954.7,500.3 L957.5,500.2 L960.3,500.2 L963.1,500.2 L965.9,500.2 L968.6,500.3 L971.4,500.3 L974.2,500.5 L976.9,500.6 L979.5,500.8 L982.0,500.9 L984.4,501.1 L986.8,501.3 L989.2,501.6 L991.7,501.9 L994.4,502.2 L997.3,502.7 L1000.4,503.2 L1003.8,503.8 L1007.6,504.5 L1012.0,505.4 L1017.0,506.5 L1022.6,507.7 L1028.5,509.1 L1034.7,510.6 L1040.9,512.1 L1047.0,513.5 L1052.8,514.9 L1058.2,516.3 L1063.0,517.4 L1067.1,518.4 L1073.0,519.8 Z" fill="#fdf45f"/>
<path d="M460.0,729.5 L461.1,728.8 L462.5,727.8 L464.2,726.7 L466.1,725.5 L468.1,724.1 L470.2,722.7 L472.3,721.2 L474.2,719.8 L476.1,718.3 L478.1,716.8 L480.0,715.2 L482.0,713.5 L484.0,711.8 L486.1,710.2 L488.0,708.5 L490.0,707.0 L491.9,705.5 L493.8,704.1 L495.7,702.7 L497.5,701.3 L499.4,700.0 L501.3,698.6 L503.2,697.3 L505.2,695.9 L507.2,694.5 L509.2,693.1 L511.3,691.8 L513.4,690.4 L515.5,689.0 L517.6,687.7 L519.8,686.3 L522.0,685.0 L524.2,683.7 L526.5,682.3 L528.8,681.0 L531.1,679.7 L533.4,678.3 L535.8,677.1 L538.1,675.9 L540.5,674.7 L543.0,673.6 L545.8,672.4 L548.6,671.3 L551.4,670.2 L554.1,669.2 L556.5,668.3 L558.5,667.6 L560.0,667.0 L558.6,666.3 L556.9,665.2 L554.8,663.9 L552.5,662.6 L549.8,661.3 L546.9,660.4 L543.6,659.9 L540.0,660.0 L535.9,660.7 L531.3,661.9 L526.2,663.4 L520.9,665.2 L515.4,667.3 L510.0,669.7 L504.8,672.3 L500.0,675.0 L495.2,678.2 L490.3,682.1 L485.3,686.5 L480.5,690.9 L476.0,695.3 L472.0,699.3 L468.6,702.6 L466.0,705.0 Z" fill="#fdf45f"/>
<path d="M377.5,805.4 L382.2,801.1 L388.1,795.7 L395.1,789.3 L403.0,782.1 L411.6,774.3 L420.5,766.2 L429.4,758.1 L438.3,750.0 L446.7,742.4 L454.4,735.4 L461.1,729.2 L466.7,724.2 L471.2,720.1 L475.0,716.7 L478.1,713.8 L480.7,711.4 L482.9,709.4 L484.7,707.7 L486.3,706.3 L487.8,705.0 L489.2,703.8 L490.7,702.5 L492.4,701.1 L494.4,699.5 L496.6,697.7 L498.9,696.0 L501.2,694.2 L503.6,692.5 L505.9,690.8 L508.3,689.2 L510.5,687.6 L512.6,686.2 L514.5,684.8 L516.3,683.6 L517.8,682.6 L519.0,681.7 L511.0,670.3 L509.8,671.1 L508.3,672.1 L506.6,673.3 L504.7,674.6 L502.5,676.1 L500.2,677.7 L497.8,679.4 L495.4,681.1 L492.9,682.9 L490.4,684.8 L488.0,686.7 L485.6,688.5 L483.5,690.3 L481.7,691.7 L480.1,693.1 L478.5,694.5 L477.0,695.9 L475.3,697.4 L473.4,699.1 L471.2,701.1 L468.6,703.5 L465.5,706.3 L461.8,709.8 L457.3,713.8 L451.7,718.9 L445.0,725.0 L437.2,732.0 L428.8,739.7 L420.0,747.7 L411.0,755.9 L402.1,764.0 L393.6,771.8 L385.7,779.0 L378.7,785.4 L372.8,790.7 L368.5,794.6 Z" fill="#fdf45f"/>
<path d="M334.4,769.8 L336.7,768.5 L340.2,766.2 L344.4,763.4 L349.1,760.2 L354.2,756.8 L359.5,753.2 L364.8,749.6 L370.1,746.0 L375.2,742.5 L380.0,739.3 L384.3,736.4 L388.0,734.0 L391.2,731.8 L394.1,729.8 L396.8,728.0 L399.4,726.3 L401.7,724.8 L403.8,723.4 L405.8,722.1 L407.6,721.0 L409.2,719.9 L410.7,719.0 L412.0,718.3 L413.2,717.6 L386.8,682.4 L385.8,683.3 L384.7,684.4 L383.4,685.5 L382.0,686.8 L380.4,688.2 L378.7,689.8 L376.7,691.4 L374.6,693.2 L372.2,695.2 L369.7,697.3 L367.0,699.6 L364.0,702.0 L360.7,704.9 L356.7,708.2 L352.3,711.9 L347.5,715.8 L342.6,719.9 L337.5,724.0 L332.6,728.1 L327.9,732.0 L323.6,735.6 L319.7,738.8 L316.5,741.6 L313.6,744.2 Z" fill="#fdf45f"/>
<path d="M420.1,813.5 L422.5,811.7 L425.5,809.3 L429.2,806.6 L433.2,803.5 L437.7,800.1 L442.4,796.5 L447.3,792.7 L452.3,788.9 L457.4,784.9 L462.4,781.0 L467.2,777.1 L471.9,773.3 L476.5,769.5 L481.3,765.5 L486.3,761.3 L491.3,757.1 L496.4,752.8 L501.4,748.4 L506.3,744.1 L511.1,739.9 L515.8,735.9 L520.2,732.0 L524.2,728.4 L528.0,725.0 L531.4,722.0 L534.6,719.2 L537.4,716.6 L540.1,714.1 L542.5,711.8 L544.9,709.6 L547.1,707.5 L549.2,705.4 L551.3,703.4 L553.4,701.3 L555.5,699.2 L557.7,697.1 L560.1,695.1 L562.4,693.1 L564.7,691.1 L567.1,689.2 L569.3,687.3 L571.6,685.4 L573.9,683.5 L576.1,681.5 L578.3,679.4 L580.5,677.2 L582.7,675.0 L584.9,672.6 L587.0,670.0 L589.2,667.1 L591.4,664.1 L593.6,661.1 L595.7,657.9 L597.7,654.9 L599.6,651.9 L601.4,649.1 L603.1,646.5 L604.6,644.3 L605.8,642.5 L606.9,641.0 L593.1,633.0 L592.3,634.7 L591.3,636.9 L590.2,639.4 L588.9,642.1 L587.5,645.1 L586.0,648.2 L584.4,651.3 L582.7,654.5 L581.1,657.6 L579.4,660.6 L577.7,663.3 L576.1,665.8 L574.5,668.1 L572.8,670.4 L571.0,672.5 L569.2,674.7 L567.3,676.8 L565.4,678.9 L563.4,681.0 L561.4,683.1 L559.3,685.3 L557.2,687.5 L555.0,689.8 L552.9,692.1 L550.7,694.3 L548.5,696.5 L546.5,698.6 L544.5,700.7 L542.4,702.8 L540.3,705.0 L538.1,707.2 L535.7,709.5 L533.2,712.0 L530.4,714.6 L527.3,717.5 L524.0,720.6 L520.3,723.9 L516.2,727.5 L511.8,731.4 L507.2,735.4 L502.4,739.6 L497.5,743.9 L492.4,748.2 L487.4,752.5 L482.4,756.8 L477.5,760.9 L472.7,764.9 L468.1,768.7 L463.5,772.4 L458.6,776.2 L453.6,780.1 L448.6,784.0 L443.5,787.8 L438.6,791.5 L433.9,795.1 L429.4,798.4 L425.3,801.5 L421.7,804.2 L418.5,806.5 L415.9,808.5 Z" fill="#fdf45f"/>
<path d="M514.7,792.0 L516.0,789.9 L517.1,788.2 L518.3,786.2 L519.8,783.9 L521.3,781.4 L522.9,778.8 L524.6,776.1 L526.3,773.4 L527.9,770.7 L529.5,768.2 L531.1,765.8 L532.5,763.6 L533.9,761.7 L535.3,759.8 L536.6,758.0 L537.9,756.2 L539.2,754.5 L540.5,752.8 L541.8,751.1 L543.1,749.4 L544.5,747.7 L545.8,745.9 L547.2,744.1 L548.6,742.3 L549.9,740.3 L551.3,738.3 L552.7,736.3 L554.2,734.2 L555.6,732.2 L557.0,730.1 L558.4,728.0 L559.9,726.0 L561.3,724.0 L562.6,722.0 L564.0,720.1 L565.3,718.3 L566.5,716.6 L567.7,714.9 L568.9,713.2 L570.1,711.6 L571.3,710.0 L572.4,708.4 L573.5,706.9 L574.6,705.4 L575.8,703.9 L576.9,702.4 L578.0,700.9 L579.2,699.5 L580.3,698.0 L581.4,696.6 L582.5,695.3 L583.5,694.0 L584.6,692.7 L585.6,691.4 L586.7,690.0 L587.8,688.7 L589.0,687.3 L590.3,685.8 L591.6,684.3 L593.0,682.6 L594.6,681.0 L596.3,679.2 L598.1,677.4 L599.9,675.5 L601.9,673.5 L603.8,671.5 L605.8,669.5 L607.8,667.4 L609.8,665.3 L611.7,663.3 L613.6,661.2 L615.4,659.2 L617.3,657.2 L619.2,655.0 L621.2,652.8 L623.1,650.6 L625.1,648.3 L626.9,646.1 L628.7,644.0 L630.4,642.0 L632.0,640.2 L633.4,638.6 L634.6,637.3 L635.6,636.2 L624.4,627.8 L623.7,629.1 L622.7,630.6 L621.6,632.4 L620.3,634.4 L618.9,636.6 L617.4,638.9 L615.8,641.3 L614.2,643.7 L612.5,646.1 L610.9,648.4 L609.3,650.7 L607.8,652.8 L606.2,654.8 L604.5,656.9 L602.7,659.0 L600.9,661.1 L599.1,663.3 L597.2,665.4 L595.4,667.5 L593.6,669.6 L591.8,671.6 L590.1,673.6 L588.5,675.5 L587.0,677.4 L585.5,679.0 L584.2,680.6 L582.9,682.1 L581.7,683.5 L580.6,684.9 L579.4,686.3 L578.3,687.6 L577.3,688.9 L576.2,690.3 L575.1,691.7 L574.0,693.1 L572.8,694.5 L571.7,696.1 L570.5,697.6 L569.4,699.1 L568.2,700.6 L567.1,702.1 L565.9,703.7 L564.8,705.3 L563.6,706.9 L562.4,708.5 L561.2,710.2 L560.0,711.9 L558.7,713.7 L557.4,715.5 L556.1,717.4 L554.7,719.4 L553.3,721.4 L551.9,723.5 L550.4,725.5 L549.0,727.6 L547.6,729.7 L546.1,731.7 L544.7,733.8 L543.4,735.8 L542.0,737.7 L540.8,739.6 L539.6,741.5 L538.4,743.3 L537.2,745.1 L536.0,746.9 L534.8,748.7 L533.6,750.5 L532.4,752.4 L531.2,754.3 L530.0,756.2 L528.8,758.3 L527.5,760.4 L526.1,762.6 L524.6,765.1 L523.0,767.7 L521.4,770.5 L519.8,773.2 L518.2,776.0 L516.6,778.6 L515.2,781.2 L513.8,783.5 L512.7,785.6 L511.6,787.3 L511.3,788.0 Z" fill="#fdf45f"/>
<ellipse cx="1084.0" cy="97.0" rx="14.2" ry="5.1" transform="rotate(90.0 1084.0 97.0)" fill="#fdf45f" stroke="#9c6a22" stroke-width="1.9"/>
<ellipse cx="722.5" cy="218.5" rx="6.8" ry="2.4" transform="rotate(90.0 722.5 218.5)" fill="#fdf45f" stroke="#9c6a22" stroke-width="1.9"/>
<ellipse cx="1084.0" cy="220.5" rx="13.5" ry="4.9" transform="rotate(90.0 1084.0 220.5)" fill="#fdf45f" stroke="#9c6a22" stroke-width="1.9"/>
<ellipse cx="1083.0" cy="301.0" rx="14.2" ry="5.1" transform="rotate(90.0 1083.0 301.0)" fill="#fdf45f" stroke="#9c6a22" stroke-width="1.9"/>
<ellipse cx="1080.0" cy="413.5" rx="18.2" ry="6.6" transform="rotate(90.0 1080.0 413.5)" fill="#fdf45f" stroke="#9c6a22" stroke-width="1.9"/>
<ellipse cx="1073.0" cy="507.5" rx="12.3" ry="4.4" transform="rotate(90.0 1073.0 507.5)" fill="#fdf45f" stroke="#9c6a22" stroke-width="1.9"/>
<ellipse cx="373.0" cy="800.0" rx="7.0" ry="2.5" transform="rotate(50.0 373.0 800.0)" fill="#fdf45f" stroke="#9c6a22" stroke-width="1.9"/>
<ellipse cx="324.0" cy="757.0" rx="16.5" ry="5.9" transform="rotate(51.0 324.0 757.0)" fill="#fdf45f" stroke="#9c6a22" stroke-width="1.9"/>
<ellipse cx="418.0" cy="811.0" rx="3.3" ry="2.0" transform="rotate(50.0 418.0 811.0)" fill="#fdf45f" stroke="#9c6a22" stroke-width="1.9"/>
<ellipse cx="513.0" cy="790.0" rx="2.6" ry="2.0" transform="rotate(50.0 513.0 790.0)" fill="#fdf45f" stroke="#9c6a22" stroke-width="1.9"/>
<path d="M474,687 L485,690 L474,694 Z" fill="#9c6a22"/>
<path d="M527.2,340.0 L527.7,342.3 L528.2,344.3 L528.7,346.6 L529.4,349.2 L530.1,352.0 L530.8,355.0 L531.5,358.1 L532.2,361.2 L533.0,364.3 L533.6,367.2 L534.3,370.1 L534.8,372.7 L535.3,375.1 L535.8,377.5 L536.2,379.8 L536.6,382.1 L537.0,384.4 L537.4,386.7 L537.8,388.9 L538.1,391.2 L538.5,393.5 L538.9,395.8 L539.4,398.2 L539.8,400.6 L540.3,403.1 L540.8,405.6 L541.2,408.1 L541.7,410.7 L542.2,413.2 L542.7,415.8 L543.3,418.4 L543.8,420.9 L544.3,423.5 L544.8,425.9 L545.3,428.3 L545.8,430.7 L546.3,433.0 L546.8,435.2 L547.3,437.3 L547.8,439.5 L548.2,441.6 L548.7,443.7 L549.2,445.7 L549.7,447.8 L550.2,449.8 L550.7,451.8 L551.3,453.9 L551.9,455.9 L552.4,457.9 L553.0,459.9 L553.6,462.0 L554.2,464.0 L554.8,466.0 L555.4,468.1 L556.1,470.1 L556.8,472.0 L557.5,474.0 L558.2,475.9 L559.0,477.7 L559.9,479.5 L560.7,481.3 L561.6,482.9 L562.5,484.5 L563.4,486.0 L564.4,487.6 L565.4,489.1 L566.4,490.5 L567.5,492.0 L568.7,493.4 L569.9,494.8 L571.2,496.1 L572.6,497.5 L574.0,498.8 L575.5,500.1 L577.1,501.3 L578.7,502.5 L580.3,503.7 L582.0,504.9 L583.8,506.0 L585.6,507.1 L587.5,508.2 L589.4,509.4 L591.4,510.5 L593.5,511.6 L595.8,512.8 L598.1,513.9 L600.4,515.0 L602.9,516.1 L605.4,517.2 L607.9,518.3 L610.5,519.4 L613.2,520.5 L615.8,521.7 L618.5,522.8 L621.2,524.0 L623.9,525.3 L626.7,526.6 L629.5,527.9 L632.4,529.4 L635.4,530.8 L638.4,532.3 L641.4,533.8 L644.5,535.3 L647.5,536.8 L650.5,538.2 L653.4,539.6 L656.3,540.9 L659.1,542.1 L661.8,543.2 L664.5,544.3 L667.2,545.3 L669.8,546.3 L672.4,547.3 L674.9,548.2 L677.4,549.1 L679.9,549.9 L682.3,550.7 L684.7,551.5 L687.1,552.2 L689.4,552.9 L691.7,553.6 L694.0,554.2 L696.2,554.8 L698.4,555.3 L700.5,555.8 L702.7,556.3 L704.7,556.8 L706.8,557.2 L708.8,557.6 L710.8,557.9 L712.8,558.2 L714.8,558.5 L716.8,558.7 L718.9,558.8 L720.9,558.9 L723.0,558.9 L725.1,558.9 L727.0,558.9 L728.9,558.8 L730.7,558.8 L732.3,558.7 L733.8,558.6 L735.0,558.6 L736.0,558.5 L736.0,557.5 L735.0,557.4 L733.8,557.3 L732.3,557.2 L730.7,557.1 L729.0,557.0 L727.1,556.9 L725.1,556.7 L723.1,556.6 L721.1,556.4 L719.1,556.1 L717.1,555.9 L715.2,555.5 L713.3,555.2 L711.4,554.8 L709.5,554.4 L707.5,553.9 L705.5,553.4 L703.5,552.9 L701.4,552.4 L699.3,551.8 L697.2,551.2 L695.0,550.5 L692.8,549.8 L690.6,549.1 L688.3,548.4 L686.0,547.6 L683.6,546.8 L681.2,546.0 L678.8,545.1 L676.3,544.2 L673.9,543.3 L671.3,542.3 L668.8,541.3 L666.2,540.2 L663.6,539.1 L660.9,537.9 L658.2,536.7 L655.4,535.4 L652.5,534.0 L649.5,532.6 L646.6,531.1 L643.6,529.6 L640.6,528.0 L637.6,526.5 L634.6,525.0 L631.7,523.5 L628.8,522.1 L626.1,520.7 L623.4,519.4 L620.7,518.1 L618.0,516.9 L615.3,515.7 L612.7,514.5 L610.2,513.3 L607.7,512.1 L605.3,511.0 L602.9,509.8 L600.7,508.7 L598.5,507.5 L596.5,506.4 L594.5,505.2 L592.6,504.0 L590.7,502.9 L589.0,501.8 L587.3,500.6 L585.7,499.5 L584.2,498.4 L582.7,497.2 L581.3,496.1 L580.0,494.9 L578.7,493.7 L577.4,492.5 L576.2,491.3 L575.1,490.1 L574.0,488.8 L573.0,487.6 L572.0,486.4 L571.1,485.1 L570.2,483.8 L569.4,482.4 L568.6,481.0 L567.7,479.5 L566.9,478.0 L566.1,476.5 L565.3,474.8 L564.6,473.2 L563.9,471.5 L563.2,469.7 L562.5,467.8 L561.8,465.9 L561.2,464.0 L560.6,462.1 L559.9,460.1 L559.3,458.1 L558.7,456.1 L558.1,454.1 L557.6,452.1 L557.0,450.2 L556.5,448.2 L556.0,446.2 L555.5,444.2 L555.0,442.2 L554.6,440.1 L554.1,438.1 L553.6,435.9 L553.2,433.8 L552.7,431.6 L552.2,429.3 L551.7,427.0 L551.2,424.6 L550.7,422.1 L550.1,419.6 L549.6,417.1 L549.1,414.6 L548.6,412.0 L548.1,409.4 L547.6,406.9 L547.1,404.3 L546.7,401.8 L546.2,399.4 L545.8,397.0 L545.3,394.7 L544.9,392.4 L544.6,390.1 L544.2,387.9 L543.8,385.6 L543.4,383.3 L543.0,381.0 L542.6,378.7 L542.2,376.3 L541.7,373.8 L541.2,371.3 L540.6,368.7 L540.0,365.8 L539.3,362.8 L538.6,359.7 L537.8,356.6 L537.1,353.5 L536.4,350.5 L535.7,347.7 L535.1,345.1 L534.5,342.8 L534.0,340.8 L533.8,340.0 Z" fill="#9c6a22" stroke="#9c6a22" stroke-width="3.0" stroke-linejoin="round"/>
<path d="M538.5,366.6 L539.7,367.2 L541.1,367.9 L542.8,368.8 L544.7,369.9 L546.7,371.0 L549.0,372.2 L551.4,373.5 L553.9,374.7 L556.4,375.9 L559.1,377.0 L561.8,377.9 L564.5,378.7 L567.4,379.3 L570.6,379.9 L574.1,380.3 L577.6,380.7 L581.3,381.1 L584.9,381.4 L588.5,381.6 L591.9,381.8 L595.0,382.0 L597.8,382.2 L600.1,382.3 L602.0,382.4 L602.0,381.6 L600.2,381.3 L597.9,380.9 L595.1,380.6 L592.0,380.2 L588.7,379.7 L585.2,379.2 L581.6,378.7 L578.0,378.2 L574.5,377.5 L571.2,376.9 L568.1,376.1 L565.5,375.3 L563.0,374.4 L560.6,373.3 L558.2,372.1 L555.8,370.9 L553.6,369.5 L551.4,368.1 L549.3,366.8 L547.4,365.5 L545.6,364.2 L544.0,363.1 L542.6,362.2 L541.5,361.4 Z" fill="#9c6a22" stroke="#9c6a22" stroke-width="3.0" stroke-linejoin="round"/>
<path d="M563.8,477.3 L563.2,477.8 L562.5,478.4 L561.7,479.1 L560.8,479.9 L559.8,480.7 L558.8,481.5 L557.8,482.4 L556.7,483.3 L555.7,484.1 L554.7,484.9 L553.8,485.5 L553.1,486.1 L552.3,486.6 L551.5,487.0 L550.7,487.4 L549.9,487.9 L549.1,488.2 L548.3,488.6 L547.5,489.0 L546.7,489.3 L546.0,489.6 L545.3,489.8 L544.7,490.1 L544.8,490.1 L546.6,496.9 L547.6,496.5 L548.1,496.3 L548.7,496.0 L549.4,495.7 L550.2,495.4 L551.1,495.0 L552.0,494.6 L553.0,494.1 L553.9,493.7 L554.9,493.1 L555.9,492.5 L556.9,491.9 L557.9,491.2 L559.0,490.4 L560.1,489.6 L561.2,488.7 L562.3,487.8 L563.3,486.9 L564.4,486.0 L565.4,485.1 L566.3,484.4 L567.1,483.7 L567.7,483.1 L568.2,482.7 Z" fill="#9c6a22" stroke="#9c6a22" stroke-width="3.0" stroke-linejoin="round"/>
<path d="M892.4,282.0 L892.4,281.6 L892.6,280.4 L892.8,278.9 L893.1,277.2 L893.3,275.4 L893.6,273.5 L893.9,271.6 L894.3,269.7 L894.6,267.9 L895.0,266.2 L895.4,264.6 L895.8,263.2 L896.2,262.1 L896.7,260.9 L897.2,259.8 L897.8,258.7 L898.4,257.6 L899.1,256.4 L899.7,255.3 L900.4,254.1 L901.1,252.9 L901.8,251.6 L902.5,250.2 L903.1,248.8 L903.6,247.4 L904.0,246.0 L904.5,244.6 L904.8,243.2 L905.2,241.8 L905.5,240.4 L905.8,239.1 L906.1,237.8 L906.4,236.5 L906.7,235.3 L907.0,234.2 L907.3,233.1 L907.7,232.1 L908.0,231.1 L908.3,230.2 L908.6,229.4 L908.9,228.6 L909.2,227.9 L909.6,227.1 L910.0,226.2 L910.4,225.2 L910.9,224.1 L911.5,222.9 L912.2,221.5 L912.9,219.8 L913.8,218.0 L914.6,216.0 L915.6,213.9 L916.5,211.8 L917.5,209.6 L918.6,207.4 L919.7,205.3 L920.8,203.3 L921.9,201.4 L923.0,199.7 L924.2,198.3 L925.4,196.9 L926.8,195.6 L928.4,194.3 L930.1,193.1 L931.9,191.9 L933.6,190.7 L935.4,189.6 L937.1,188.6 L938.7,187.7 L940.1,186.9 L941.4,186.1 L942.4,185.4 L938.6,179.6 L937.7,180.2 L936.6,180.8 L935.2,181.7 L933.6,182.6 L931.8,183.6 L929.9,184.8 L928.0,186.0 L926.0,187.4 L924.1,188.8 L922.2,190.3 L920.4,192.0 L918.8,193.7 L917.4,195.6 L916.0,197.7 L914.7,199.8 L913.5,202.0 L912.3,204.3 L911.2,206.6 L910.2,208.9 L909.2,211.1 L908.2,213.2 L907.4,215.1 L906.6,216.9 L905.8,218.5 L905.2,219.9 L904.6,221.2 L904.0,222.3 L903.6,223.3 L903.1,224.3 L902.8,225.2 L902.4,226.1 L902.1,227.0 L901.7,227.9 L901.4,228.8 L901.1,229.8 L900.7,230.9 L900.3,232.1 L899.9,233.4 L899.5,234.7 L899.1,236.0 L898.8,237.4 L898.4,238.7 L898.1,240.0 L897.7,241.2 L897.4,242.5 L897.0,243.7 L896.6,244.9 L896.1,246.0 L895.6,247.0 L895.1,248.1 L894.5,249.1 L893.9,250.2 L893.2,251.3 L892.4,252.4 L891.7,253.6 L890.9,254.9 L890.2,256.2 L889.5,257.6 L888.8,259.1 L888.2,260.8 L887.7,262.5 L887.2,264.3 L886.8,266.3 L886.4,268.3 L886.1,270.3 L885.7,272.3 L885.4,274.2 L885.2,276.0 L884.9,277.7 L884.7,279.2 L884.5,280.4 L884.2,282.0 Z" fill="#9c6a22" stroke="#9c6a22" stroke-width="3.0" stroke-linejoin="round"/>
<path d="M900.4,246.7 L901.2,246.3 L902.1,245.9 L903.2,245.3 L904.5,244.7 L905.8,244.1 L907.2,243.4 L908.7,242.7 L910.3,241.9 L911.8,241.2 L913.4,240.5 L914.9,239.8 L916.4,239.2 L917.9,238.6 L919.5,237.9 L921.1,237.2 L922.7,236.6 L924.3,235.9 L926.0,235.3 L927.7,234.6 L929.4,234.0 L931.1,233.4 L932.8,232.7 L934.5,232.1 L936.2,231.5 L938.0,230.9 L939.9,230.3 L941.9,229.7 L944.0,229.0 L946.1,228.4 L948.2,227.7 L950.2,227.1 L952.1,226.6 L953.8,226.1 L955.4,225.6 L956.7,225.2 L957.8,224.9 L955.6,217.7 L954.6,218.0 L953.3,218.4 L951.7,218.9 L949.9,219.4 L948.0,220.0 L946.0,220.6 L943.9,221.2 L941.8,221.8 L939.7,222.5 L937.6,223.2 L935.6,223.8 L933.8,224.5 L932.0,225.1 L930.2,225.8 L928.5,226.5 L926.7,227.2 L925.0,227.9 L923.3,228.6 L921.6,229.3 L919.9,230.0 L918.3,230.7 L916.7,231.4 L915.1,232.1 L913.6,232.8 L912.0,233.6 L910.4,234.3 L908.9,235.2 L907.3,236.0 L905.7,236.8 L904.3,237.6 L902.9,238.4 L901.5,239.1 L900.3,239.8 L899.3,240.4 L898.4,240.9 L897.6,241.3 Z" fill="#9c6a22" stroke="#9c6a22" stroke-width="3.0" stroke-linejoin="round"/>
<path d="M527.2,340.0 L527.7,342.3 L528.2,344.3 L528.7,346.6 L529.4,349.2 L530.1,352.0 L530.8,355.0 L531.5,358.1 L532.2,361.2 L533.0,364.3 L533.6,367.2 L534.3,370.1 L534.8,372.7 L535.3,375.1 L535.8,377.5 L536.2,379.8 L536.6,382.1 L537.0,384.4 L537.4,386.7 L537.8,388.9 L538.1,391.2 L538.5,393.5 L538.9,395.8 L539.4,398.2 L539.8,400.6 L540.3,403.1 L540.8,405.6 L541.2,408.1 L541.7,410.7 L542.2,413.2 L542.7,415.8 L543.3,418.4 L543.8,420.9 L544.3,423.5 L544.8,425.9 L545.3,428.3 L545.8,430.7 L546.3,433.0 L546.8,435.2 L547.3,437.3 L547.8,439.5 L548.2,441.6 L548.7,443.7 L549.2,445.7 L549.7,447.8 L550.2,449.8 L550.7,451.8 L551.3,453.9 L551.9,455.9 L552.4,457.9 L553.0,459.9 L553.6,462.0 L554.2,464.0 L554.8,466.0 L555.4,468.1 L556.1,470.1 L556.8,472.0 L557.5,474.0 L558.2,475.9 L559.0,477.7 L559.9,479.5 L560.7,481.3 L561.6,482.9 L562.5,484.5 L563.4,486.0 L564.4,487.6 L565.4,489.1 L566.4,490.5 L567.5,492.0 L568.7,493.4 L569.9,494.8 L571.2,496.1 L572.6,497.5 L574.0,498.8 L575.5,500.1 L577.1,501.3 L578.7,502.5 L580.3,503.7 L582.0,504.9 L583.8,506.0 L585.6,507.1 L587.5,508.2 L589.4,509.4 L591.4,510.5 L593.5,511.6 L595.8,512.8 L598.1,513.9 L600.4,515.0 L602.9,516.1 L605.4,517.2 L607.9,518.3 L610.5,519.4 L613.2,520.5 L615.8,521.7 L618.5,522.8 L621.2,524.0 L623.9,525.3 L626.7,526.6 L629.5,527.9 L632.4,529.4 L635.4,530.8 L638.4,532.3 L641.4,533.8 L644.5,535.3 L647.5,536.8 L650.5,538.2 L653.4,539.6 L656.3,540.9 L659.1,542.1 L661.8,543.2 L664.5,544.3 L667.2,545.3 L669.8,546.3 L672.4,547.3 L674.9,548.2 L677.4,549.1 L679.9,549.9 L682.3,550.7 L684.7,551.5 L687.1,552.2 L689.4,552.9 L691.7,553.6 L694.0,554.2 L696.2,554.8 L698.4,555.3 L700.5,555.8 L702.7,556.3 L704.7,556.8 L706.8,557.2 L708.8,557.6 L710.8,557.9 L712.8,558.2 L714.8,558.5 L716.8,558.7 L718.9,558.8 L720.9,558.9 L723.0,558.9 L725.1,558.9 L727.0,558.9 L728.9,558.8 L730.7,558.8 L732.3,558.7 L733.8,558.6 L735.0,558.6 L736.0,558.5 L736.0,557.5 L735.0,557.4 L733.8,557.3 L732.3,557.2 L730.7,557.1 L729.0,557.0 L727.1,556.9 L725.1,556.7 L723.1,556.6 L721.1,556.4 L719.1,556.1 L717.1,555.9 L715.2,555.5 L713.3,555.2 L711.4,554.8 L709.5,554.4 L707.5,553.9 L705.5,553.4 L703.5,552.9 L701.4,552.4 L699.3,551.8 L697.2,551.2 L695.0,550.5 L692.8,549.8 L690.6,549.1 L688.3,548.4 L686.0,547.6 L683.6,546.8 L681.2,546.0 L678.8,545.1 L676.3,544.2 L673.9,543.3 L671.3,542.3 L668.8,541.3 L666.2,540.2 L663.6,539.1 L660.9,537.9 L658.2,536.7 L655.4,535.4 L652.5,534.0 L649.5,532.6 L646.6,531.1 L643.6,529.6 L640.6,528.0 L637.6,526.5 L634.6,525.0 L631.7,523.5 L628.8,522.1 L626.1,520.7 L623.4,519.4 L620.7,518.1 L618.0,516.9 L615.3,515.7 L612.7,514.5 L610.2,513.3 L607.7,512.1 L605.3,511.0 L602.9,509.8 L600.7,508.7 L598.5,507.5 L596.5,506.4 L594.5,505.2 L592.6,504.0 L590.7,502.9 L589.0,501.8 L587.3,500.6 L585.7,499.5 L584.2,498.4 L582.7,497.2 L581.3,496.1 L580.0,494.9 L578.7,493.7 L577.4,492.5 L576.2,491.3 L575.1,490.1 L574.0,488.8 L573.0,487.6 L572.0,486.4 L571.1,485.1 L570.2,483.8 L569.4,482.4 L568.6,481.0 L567.7,479.5 L566.9,478.0 L566.1,476.5 L565.3,474.8 L564.6,473.2 L563.9,471.5 L563.2,469.7 L562.5,467.8 L561.8,465.9 L561.2,464.0 L560.6,462.1 L559.9,460.1 L559.3,458.1 L558.7,456.1 L558.1,454.1 L557.6,452.1 L557.0,450.2 L556.5,448.2 L556.0,446.2 L555.5,444.2 L555.0,442.2 L554.6,440.1 L554.1,438.1 L553.6,435.9 L553.2,433.8 L552.7,431.6 L552.2,429.3 L551.7,427.0 L551.2,424.6 L550.7,422.1 L550.1,419.6 L549.6,417.1 L549.1,414.6 L548.6,412.0 L548.1,409.4 L547.6,406.9 L547.1,404.3 L546.7,401.8 L546.2,399.4 L545.8,397.0 L545.3,394.7 L544.9,392.4 L544.6,390.1 L544.2,387.9 L543.8,385.6 L543.4,383.3 L543.0,381.0 L542.6,378.7 L542.2,376.3 L541.7,373.8 L541.2,371.3 L540.6,368.7 L540.0,365.8 L539.3,362.8 L538.6,359.7 L537.8,356.6 L537.1,353.5 L536.4,350.5 L535.7,347.7 L535.1,345.1 L534.5,342.8 L534.0,340.8 L533.8,340.0 Z" fill="#fdf45f"/>
<path d="M538.5,366.6 L539.7,367.2 L541.1,367.9 L542.8,368.8 L544.7,369.9 L546.7,371.0 L549.0,372.2 L551.4,373.5 L553.9,374.7 L556.4,375.9 L559.1,377.0 L561.8,377.9 L564.5,378.7 L567.4,379.3 L570.6,379.9 L574.1,380.3 L577.6,380.7 L581.3,381.1 L584.9,381.4 L588.5,381.6 L591.9,381.8 L595.0,382.0 L597.8,382.2 L600.1,382.3 L602.0,382.4 L602.0,381.6 L600.2,381.3 L597.9,380.9 L595.1,380.6 L592.0,380.2 L588.7,379.7 L585.2,379.2 L581.6,378.7 L578.0,378.2 L574.5,377.5 L571.2,376.9 L568.1,376.1 L565.5,375.3 L563.0,374.4 L560.6,373.3 L558.2,372.1 L555.8,370.9 L553.6,369.5 L551.4,368.1 L549.3,366.8 L547.4,365.5 L545.6,364.2 L544.0,363.1 L542.6,362.2 L541.5,361.4 Z" fill="#fdf45f"/>
<path d="M563.8,477.3 L563.2,477.8 L562.5,478.4 L561.7,479.1 L560.8,479.9 L559.8,480.7 L558.8,481.5 L557.8,482.4 L556.7,483.3 L555.7,484.1 L554.7,484.9 L553.8,485.5 L553.1,486.1 L552.3,486.6 L551.5,487.0 L550.7,487.4 L549.9,487.9 L549.1,488.2 L548.3,488.6 L547.5,489.0 L546.7,489.3 L546.0,489.6 L545.3,489.8 L544.7,490.1 L544.8,490.1 L546.6,496.9 L547.6,496.5 L548.1,496.3 L548.7,496.0 L549.4,495.7 L550.2,495.4 L551.1,495.0 L552.0,494.6 L553.0,494.1 L553.9,493.7 L554.9,493.1 L555.9,492.5 L556.9,491.9 L557.9,491.2 L559.0,490.4 L560.1,489.6 L561.2,488.7 L562.3,487.8 L563.3,486.9 L564.4,486.0 L565.4,485.1 L566.3,484.4 L567.1,483.7 L567.7,483.1 L568.2,482.7 Z" fill="#fdf45f"/>
<path d="M892.4,282.0 L892.4,281.6 L892.6,280.4 L892.8,278.9 L893.1,277.2 L893.3,275.4 L893.6,273.5 L893.9,271.6 L894.3,269.7 L894.6,267.9 L895.0,266.2 L895.4,264.6 L895.8,263.2 L896.2,262.1 L896.7,260.9 L897.2,259.8 L897.8,258.7 L898.4,257.6 L899.1,256.4 L899.7,255.3 L900.4,254.1 L901.1,252.9 L901.8,251.6 L902.5,250.2 L903.1,248.8 L903.6,247.4 L904.0,246.0 L904.5,244.6 L904.8,243.2 L905.2,241.8 L905.5,240.4 L905.8,239.1 L906.1,237.8 L906.4,236.5 L906.7,235.3 L907.0,234.2 L907.3,233.1 L907.7,232.1 L908.0,231.1 L908.3,230.2 L908.6,229.4 L908.9,228.6 L909.2,227.9 L909.6,227.1 L910.0,226.2 L910.4,225.2 L910.9,224.1 L911.5,222.9 L912.2,221.5 L912.9,219.8 L913.8,218.0 L914.6,216.0 L915.6,213.9 L916.5,211.8 L917.5,209.6 L918.6,207.4 L919.7,205.3 L920.8,203.3 L921.9,201.4 L923.0,199.7 L924.2,198.3 L925.4,196.9 L926.8,195.6 L928.4,194.3 L930.1,193.1 L931.9,191.9 L933.6,190.7 L935.4,189.6 L937.1,188.6 L938.7,187.7 L940.1,186.9 L941.4,186.1 L942.4,185.4 L938.6,179.6 L937.7,180.2 L936.6,180.8 L935.2,181.7 L933.6,182.6 L931.8,183.6 L929.9,184.8 L928.0,186.0 L926.0,187.4 L924.1,188.8 L922.2,190.3 L920.4,192.0 L918.8,193.7 L917.4,195.6 L916.0,197.7 L914.7,199.8 L913.5,202.0 L912.3,204.3 L911.2,206.6 L910.2,208.9 L909.2,211.1 L908.2,213.2 L907.4,215.1 L906.6,216.9 L905.8,218.5 L905.2,219.9 L904.6,221.2 L904.0,222.3 L903.6,223.3 L903.1,224.3 L902.8,225.2 L902.4,226.1 L902.1,227.0 L901.7,227.9 L901.4,228.8 L901.1,229.8 L900.7,230.9 L900.3,232.1 L899.9,233.4 L899.5,234.7 L899.1,236.0 L898.8,237.4 L898.4,238.7 L898.1,240.0 L897.7,241.2 L897.4,242.5 L897.0,243.7 L896.6,244.9 L896.1,246.0 L895.6,247.0 L895.1,248.1 L894.5,249.1 L893.9,250.2 L893.2,251.3 L892.4,252.4 L891.7,253.6 L890.9,254.9 L890.2,256.2 L889.5,257.6 L888.8,259.1 L888.2,260.8 L887.7,262.5 L887.2,264.3 L886.8,266.3 L886.4,268.3 L886.1,270.3 L885.7,272.3 L885.4,274.2 L885.2,276.0 L884.9,277.7 L884.7,279.2 L884.5,280.4 L884.2,282.0 Z" fill="#fdf45f"/>
<path d="M900.4,246.7 L901.2,246.3 L902.1,245.9 L903.2,245.3 L904.5,244.7 L905.8,244.1 L907.2,243.4 L908.7,242.7 L910.3,241.9 L911.8,241.2 L913.4,240.5 L914.9,239.8 L916.4,239.2 L917.9,238.6 L919.5,237.9 L921.1,237.2 L922.7,236.6 L924.3,235.9 L926.0,235.3 L927.7,234.6 L929.4,234.0 L931.1,233.4 L932.8,232.7 L934.5,232.1 L936.2,231.5 L938.0,230.9 L939.9,230.3 L941.9,229.7 L944.0,229.0 L946.1,228.4 L948.2,227.7 L950.2,227.1 L952.1,226.6 L953.8,226.1 L955.4,225.6 L956.7,225.2 L957.8,224.9 L955.6,217.7 L954.6,218.0 L953.3,218.4 L951.7,218.9 L949.9,219.4 L948.0,220.0 L946.0,220.6 L943.9,221.2 L941.8,221.8 L939.7,222.5 L937.6,223.2 L935.6,223.8 L933.8,224.5 L932.0,225.1 L930.2,225.8 L928.5,226.5 L926.7,227.2 L925.0,227.9 L923.3,228.6 L921.6,229.3 L919.9,230.0 L918.3,230.7 L916.7,231.4 L915.1,232.1 L913.6,232.8 L912.0,233.6 L910.4,234.3 L908.9,235.2 L907.3,236.0 L905.7,236.8 L904.3,237.6 L902.9,238.4 L901.5,239.1 L900.3,239.8 L899.3,240.4 L898.4,240.9 L897.6,241.3 Z" fill="#fdf45f"/>
<ellipse cx="530.5" cy="340.0" rx="3.3" ry="2.0" transform="rotate(0.0 530.5 340.0)" fill="#fdf45f" stroke="#9c6a22" stroke-width="1.9"/>
<ellipse cx="545.7" cy="493.5" rx="3.5" ry="2.0" transform="rotate(75.0 545.7 493.5)" fill="#fdf45f" stroke="#9c6a22" stroke-width="1.9"/>
<ellipse cx="888.3" cy="282.0" rx="4.1" ry="2.0" transform="rotate(0.0 888.3 282.0)" fill="#fdf45f" stroke="#9c6a22" stroke-width="1.9"/>
<circle cx="943" cy="181" r="5.2" fill="#fdf45f"/><circle cx="959.5" cy="220.5" r="5.4" fill="#fdf45f"/>
<defs>
<pattern id="hp" width="3" height="3" patternUnits="userSpaceOnUse" patternTransform="rotate(35)">
<rect width="3" height="3" fill="none"/><rect width="1.1" height="3" fill="#c8962e" opacity="0.55"/></pattern>
</defs>
<linearGradient id="hg4" x1="851.85" y1="264.8" x2="833.5" y2="276.0" gradientUnits="userSpaceOnUse"><stop offset="0" stop-color="#fdf45f"/><stop offset="0.35" stop-color="#f3dc55"/><stop offset="0.75" stop-color="#ddb640"/><stop offset="1" stop-color="#cc9833"/></linearGradient><path d="M847.7,256.6 L856,273 L838,284.5 L829,267.5 Z" fill="url(#hg4)"/><path d="M847.7,256.6 L856,273 L838,284.5 L829,267.5 Z" fill="url(#hp)"/>
<linearGradient id="hg5" x1="841.75" y1="395.75" x2="825.5" y2="404.25" gradientUnits="userSpaceOnUse"><stop offset="0" stop-color="#fdf45f"/><stop offset="0.35" stop-color="#f3dc55"/><stop offset="0.75" stop-color="#ddb640"/><stop offset="1" stop-color="#cc9833"/></linearGradient><path d="M835.5,386 L848,405.5 L831,414.5 L820,394 Z" fill="url(#hg5)"/><path d="M835.5,386 L848,405.5 L831,414.5 L820,394 Z" fill="url(#hp)"/>
<linearGradient id="hg6" x1="942.25" y1="447.6" x2="920.5" y2="450.8" gradientUnits="userSpaceOnUse"><stop offset="0" stop-color="#fdf45f"/><stop offset="0.35" stop-color="#f3dc55"/><stop offset="0.75" stop-color="#ddb640"/><stop offset="1" stop-color="#cc9833"/></linearGradient><path d="M942.5,440.2 L942,455 L921,458 L920,443.6 Z" fill="url(#hg6)"/><path d="M942.5,440.2 L942,455 L921,458 L920,443.6 Z" fill="url(#hp)"/>
<linearGradient id="hg7" x1="1038.75" y1="139.75" x2="1031.25" y2="152.5" gradientUnits="userSpaceOnUse"><stop offset="0" stop-color="#fdf45f"/><stop offset="0.35" stop-color="#f3dc55"/><stop offset="0.75" stop-color="#ddb640"/><stop offset="1" stop-color="#cc9833"/></linearGradient><path d="M1026,147.5 L1051.5,132 L1039,148 L1023.5,157 Z" fill="url(#hg7)"/><path d="M1026,147.5 L1051.5,132 L1039,148 L1023.5,157 Z" fill="url(#hp)"/>
<text x="477" y="520" transform="rotate(-47 477 520)" font-family="Liberation Mono" font-weight="bold" font-size="17" fill="#1c1a08" stroke="#1c1a08" stroke-width="0.35" textLength="92" lengthAdjust="spacing">Lateral</text>
<text x="563.8" y="429" transform="rotate(-36 563.8 429)" font-family="Liberation Mono" font-weight="bold" font-size="17" fill="#1c1a08" stroke="#1c1a08" stroke-width="0.35" textLength="56" lengthAdjust="spacing">Cord</text>
<text x="530.9" y="608.5" transform="rotate(-35 530.9 608.5)" font-family="Liberation Mono" font-weight="bold" font-size="17" fill="#1c1a08" stroke="#1c1a08" stroke-width="0.35" textLength="111" lengthAdjust="spacing">Posterior</text>
<text x="651.7" y="518.1" transform="rotate(-25 651.7 518.1)" font-family="Liberation Mono" font-weight="bold" font-size="17" fill="#1c1a08" stroke="#1c1a08" stroke-width="0.35" textLength="52" lengthAdjust="spacing">Cord</text>
<text x="549" y="663" transform="rotate(-21 549 663)" font-family="Liberation Mono" font-weight="bold" font-size="17" fill="#1c1a08" stroke="#1c1a08" stroke-width="0.35" textLength="82" lengthAdjust="spacing">Medial</text>
<text x="640.1" y="621.8" transform="rotate(-25 640.1 621.8)" font-family="Liberation Mono" font-weight="bold" font-size="17" fill="#1c1a08" stroke="#1c1a08" stroke-width="0.35" textLength="52" lengthAdjust="spacing">Cord</text>
<line x1="439" y1="28" x2="768" y2="603" stroke="#e3202c" stroke-width="2.8" stroke-dasharray="13.5 12.5"/>
<line x1="755" y1="22" x2="886" y2="566" stroke="#e3202c" stroke-width="2.8" stroke-dasharray="13.5 12.5"/>
<line x1="907.5" y1="21" x2="962.5" y2="551" stroke="#e3202c" stroke-width="2.8" stroke-dasharray="13.5 12.5"/>
<line x1="737.4" y1="113.1" x2="958" y2="123.5" stroke="#333" stroke-width="1.2"/>
<line x1="635" y1="190" x2="741" y2="220.4" stroke="#333" stroke-width="1.2"/>
<line x1="476" y1="279" x2="895" y2="247" stroke="#333" stroke-width="1.2"/>
<line x1="409.6" y1="398.6" x2="567" y2="378.7" stroke="#333" stroke-width="1.2"/>
<line x1="228.5" y1="766.4" x2="339.3" y2="744.5" stroke="#333" stroke-width="1.2"/>
<line x1="280.4" y1="817.3" x2="383.6" y2="791.6" stroke="#333" stroke-width="1.2"/>
<line x1="331.7" y1="865.7" x2="425.9" y2="804.4" stroke="#333" stroke-width="1.2"/>
<line x1="520.7" y1="784.8" x2="555.9" y2="855" stroke="#333" stroke-width="1.2"/>
<line x1="515.5" y1="612.7" x2="607.4" y2="807.3" stroke="#333" stroke-width="1.2"/>
<line x1="621" y1="573.7" x2="665.6" y2="767.9" stroke="#333" stroke-width="1.2"/>
<line x1="682" y1="672.6" x2="700.8" y2="727.8" stroke="#333" stroke-width="1.2"/>
<line x1="699" y1="555.5" x2="748.1" y2="688.4" stroke="#333" stroke-width="1.2"/>
<line x1="693.8" y1="528" x2="774.6" y2="646.8" stroke="#333" stroke-width="1.2"/>
<line x1="1008.2" y1="400.8" x2="1043.3" y2="573.9" stroke="#333" stroke-width="1.2"/>
<line x1="470" y1="574.5" x2="507" y2="569" stroke="#333" stroke-width="1.2"/>
<text x="540.7" y="118.1" font-family="Liberation Sans" font-size="18" fill="#262626" stroke="#262626" stroke-width="0.15" textLength="186" lengthAdjust="spacingAndGlyphs">Dorsal scapular nerve</text>
<text x="551.9" y="178" font-family="Liberation Sans" font-size="18" fill="#262626" stroke="#262626" stroke-width="0.15" textLength="181" lengthAdjust="spacingAndGlyphs">Suprascapular nerve</text>
<text x="294.7" y="285.9" font-family="Liberation Sans" font-size="18" fill="#262626" stroke="#262626" stroke-width="0.15" textLength="169" lengthAdjust="spacingAndGlyphs">Nerve to subclavius</text>
<text x="210.8" y="404.3" font-family="Liberation Sans" font-size="18" fill="#262626" stroke="#262626" stroke-width="0.15" textLength="190" lengthAdjust="spacingAndGlyphs">Lateral pectoral nerve</text>
<text x="99.7" y="775" font-family="Liberation Sans" font-size="18" fill="#262626" stroke="#262626" stroke-width="0.15" textLength="115.6" lengthAdjust="spacingAndGlyphs">Median nerve</text>
<text x="165.5" y="830.4" font-family="Liberation Sans" font-size="18" fill="#262626" stroke="#262626" stroke-width="0.15" textLength="101" lengthAdjust="spacingAndGlyphs">Ulnar nerve</text>
<text x="164.4" y="892.7" font-family="Liberation Sans" font-size="18" fill="#262626" stroke="#262626" stroke-width="0.15" textLength="332.4" lengthAdjust="spacingAndGlyphs">Medial cutaneous nerve of the forearm</text>
<text x="780.3" y="666.5" font-family="Liberation Sans" font-size="18" fill="#262626" stroke="#262626" stroke-width="0.15" textLength="217.6" lengthAdjust="spacingAndGlyphs">Upper subscapular nerve</text>
<text x="750.8" y="711.1" font-family="Liberation Sans" font-size="18" fill="#262626" stroke="#262626" stroke-width="0.15" textLength="184.6" lengthAdjust="spacingAndGlyphs">Medial pectoral nerve</text>
<text x="698.2" y="749.7" font-family="Liberation Sans" font-size="18" fill="#262626" stroke="#262626" stroke-width="0.15" textLength="180.5" lengthAdjust="spacingAndGlyphs">Thoraco dorsal nerve</text>
<text x="664.9" y="791.4" font-family="Liberation Sans" font-size="18" fill="#262626" stroke="#262626" stroke-width="0.15" textLength="217.6" lengthAdjust="spacingAndGlyphs">Lower subscapular nerve</text>
<text x="610.4" y="832.2" font-family="Liberation Sans" font-size="18" fill="#262626" stroke="#262626" stroke-width="0.15" textLength="106.7" lengthAdjust="spacingAndGlyphs">Radial nerve</text>
<text x="559.7" y="879.2" font-family="Liberation Sans" font-size="18" fill="#262626" stroke="#262626" stroke-width="0.15" textLength="301.9" lengthAdjust="spacingAndGlyphs">Medial cutaneous nerve of the arm</text>
<text x="1023.8" y="603.8" font-family="Liberation Sans" font-size="18" fill="#262626" stroke="#262626" stroke-width="0.15" textLength="174.4" lengthAdjust="spacingAndGlyphs">Long thoracic nerve</text>
<text x="290.8" y="52.3" font-family="Liberation Serif" font-size="31" fill="#161616" stroke="#161616" stroke-width="0.45" textLength="90" lengthAdjust="spacingAndGlyphs">Cords</text>
<text x="547" y="52.3" font-family="Liberation Serif" font-size="31" fill="#161616" stroke="#161616" stroke-width="0.45" textLength="139" lengthAdjust="spacingAndGlyphs">Divisions</text>
<text x="785" y="52" font-family="Liberation Serif" font-size="31" fill="#161616" stroke="#161616" stroke-width="0.45" textLength="108" lengthAdjust="spacingAndGlyphs">Trunks</text>
<text x="963.5" y="52.5" font-family="Liberation Serif" font-size="31" fill="#161616" stroke="#161616" stroke-width="0.45" textLength="86" lengthAdjust="spacingAndGlyphs">Roots</text>
<text x="1109.4" y="102.7" font-family="Liberation Sans" font-size="27.5" fill="#1a1a1a" stroke="#1a1a1a" stroke-width="0.2" textLength="33.7" lengthAdjust="spacingAndGlyphs">C5</text>
<text x="1109.4" y="227.2" font-family="Liberation Sans" font-size="27.5" fill="#1a1a1a" stroke="#1a1a1a" stroke-width="0.2" textLength="34.2" lengthAdjust="spacingAndGlyphs">C6</text>
<text x="1110" y="308.5" font-family="Liberation Sans" font-size="27.5" fill="#1a1a1a" stroke="#1a1a1a" stroke-width="0.2" textLength="33" lengthAdjust="spacingAndGlyphs">C7</text>
<text x="1109.7" y="420.3" font-family="Liberation Sans" font-size="27.5" fill="#1a1a1a" stroke="#1a1a1a" stroke-width="0.2" textLength="33.8" lengthAdjust="spacingAndGlyphs">C8</text>
<text x="1109.7" y="525.2" font-family="Liberation Sans" font-size="27.5" fill="#1a1a1a" stroke="#1a1a1a" stroke-width="0.2" textLength="29" lengthAdjust="spacingAndGlyphs">T1</text>

<defs>
<clipPath id="pc"><rect x="40" y="446" width="434" height="272"/></clipPath>
<filter id="bl8" x="-30%" y="-30%" width="160%" height="160%"><feGaussianBlur stdDeviation="8"/></filter>
<filter id="bl5" x="-30%" y="-30%" width="160%" height="160%"><feGaussianBlur stdDeviation="5"/></filter>
<filter id="bl3" x="-20%" y="-20%" width="140%" height="140%"><feGaussianBlur stdDeviation="2.5"/></filter>
<filter id="bl1" x="-10%" y="-10%" width="120%" height="120%"><feGaussianBlur stdDeviation="0.8"/></filter>
<filter id="bl2" x="-10%" y="-10%" width="120%" height="120%"><feGaussianBlur stdDeviation="1.6"/></filter>
<radialGradient id="gMY" cx="0.4" cy="0.35" r="0.7">
 <stop offset="0" stop-color="#fbe24c"/><stop offset="0.6" stop-color="#f0c92c"/><stop offset="1" stop-color="#b38c18"/>
</radialGradient>
<radialGradient id="gMB" cx="0.45" cy="0.3" r="0.75">
 <stop offset="0" stop-color="#5a84c8"/><stop offset="1" stop-color="#2f5294"/>
</radialGradient>
<radialGradient id="gGog" cx="0.5" cy="0.5" r="0.5">
 <stop offset="0" stop-color="#ececec"/><stop offset="0.5" stop-color="#d6d6d6"/><stop offset="0.68" stop-color="#7a7a7a"/><stop offset="0.82" stop-color="#d0d0d0"/><stop offset="1" stop-color="#8a8a8a"/>
</radialGradient>
</defs>
<g clip-path="url(#pc)">
<rect x="40" y="446" width="434" height="272" fill="#829ab4"/>
<g filter="url(#bl8)">
 <!-- right gray -->
 <path d="M380,540 L480,525 L480,720 L370,720 C378,660 382,600 380,540 Z" fill="#898f9b"/>
 <!-- teal band under boundary -->
 <path d="M30,582 C120,566 230,548 330,532 L380,525 L380,545 C330,556 240,578 150,596 C110,604 70,610 30,615 Z" fill="#4b7991"/>
 <!-- slate band top right -->
 <path d="M300,528 L450,510 L450,540 C400,548 350,556 300,562 Z" fill="#536b7b"/>
 <!-- teal region near minions -->
 <path d="M195,562 C240,550 300,544 345,548 L372,560 L372,608 C330,616 250,618 195,615 Z" fill="#3a86a6"/>
 <!-- shadow band -->
 <path d="M230,613 C280,609 350,609 398,613 L398,625 C340,629 280,629 230,627 Z" fill="#80696f"/>
 <!-- light transition stripe -->
 <path d="M30,622 C90,610 150,596 215,584 L225,594 C160,606 100,620 30,634 Z" fill="#8ba0b6"/>
</g>
<g filter="url(#bl3)">
 <path d="M30,440 H480 V508 C430,513 360,522 300,532 C230,545 120,564 30,580 Z" fill="#3c2c28"/>
</g>
<g filter="url(#bl8)">
 <path d="M30,440 H330 C335,462 300,478 250,485 C170,494 90,496 30,498 Z" fill="#625047"/>
 <ellipse cx="175" cy="452" rx="60" ry="10" fill="#6e5650" opacity="0.8"/>
 <path d="M300,452 C340,452 380,460 420,470 C400,480 360,480 320,474 Z" fill="#56443e" opacity="0.9"/>
</g>
<!-- reflections -->
<g filter="url(#bl3)">
 <path d="M203,628 L258,628 C262,660 262,700 252,725 L208,725 C198,700 199,660 203,628 Z" fill="#2e8ab0"/>
 <path d="M204,668 C220,662 244,662 259,668 C260,690 258,705 254,712 C240,716 220,716 206,712 C202,700 202,685 204,668 Z" fill="#dccf78" opacity="0.92"/>
 <path d="M201,648 C205,645 212,646 213,650 L213,668 L202,668 Z" fill="#d8c96e" opacity="0.8"/>
 <path d="M228,700 C236,697 246,697 252,699" stroke="#8c5f9c" stroke-width="2.2" fill="none"/>
 <path d="M276,628 L332,628 C336,660 336,700 326,725 L282,725 C272,700 272,660 276,628 Z" fill="#2e8ab0"/>
 <path d="M276,662 C292,657 318,657 334,662 C335,680 333,692 330,698 C316,702 292,702 279,698 C276,690 275,676 276,662 Z" fill="#dccf78" opacity="0.92"/>
 <path d="M318,640 C324,636 331,638 331,644 L331,660 L318,660 Z" fill="#d8c96e" opacity="0.8"/>
 <circle cx="296" cy="712" r="9" fill="none" stroke="#dfe4e8" stroke-width="3.5"/>
 <path d="M222,632 C232,630 244,630 252,632 L252,640 L222,640 Z" fill="#235e78" opacity="0.8"/>
 <path d="M285,632 C295,630 308,630 316,632 L316,640 L285,640 Z" fill="#235e78" opacity="0.8"/>
</g>
<!-- minion 1 -->
<g filter="url(#bl1)">
 <path d="M201,557 C201,519 259,519 259,557 L259,606 C259,618 201,618 201,606 Z" fill="url(#gMY)"/>
 <path d="M201,586 L259,582 L259,608 C259,619 201,619 201,608 Z" fill="url(#gMB)"/>
 <path d="M200,590 C197,598 199,606 205,611" stroke="#efcc2e" stroke-width="7" fill="none" stroke-linecap="round"/>
 <ellipse cx="208" cy="615" rx="7" ry="5" fill="#181818"/>
 <ellipse cx="256" cy="609" rx="6" ry="6" fill="#1d1d1d"/>
 <ellipse cx="226" cy="623" rx="10" ry="5" fill="#141414"/>
 <ellipse cx="245" cy="623" rx="9" ry="5" fill="#141414"/>
 <path d="M199,549 L221,544 L221,551 L200,556 Z" fill="#1e1e1e"/>
 <circle cx="231" cy="548.3" r="11.5" fill="url(#gGog)"/>
 <circle cx="251.7" cy="549.6" r="11" fill="url(#gGog)"/>
 <circle cx="231.5" cy="548" r="3" fill="#2a2a2a"/>
 <circle cx="252" cy="549" r="3" fill="#2a2a2a"/>
 <path d="M225,571 C235,573 246,573 254,572 C250,579 232,580 225,571 Z" fill="#b8404e"/><path d="M228,572.5 C237,574 246,574 251,573" stroke="#f0d8d0" stroke-width="1.2" fill="none"/>
</g>
<!-- minion 2 -->
<g filter="url(#bl1)">
 <path d="M275,562 C275,522 334,522 334,562 L333,606 C333,618 276,618 276,606 Z" fill="url(#gMY)"/>
 <path d="M277,586 L328,583 L328,607 C328,618 277,618 277,607 Z" fill="url(#gMB)"/>
 <path d="M322,588 C330,592 332,601 327,609" stroke="#efcc2e" stroke-width="7" fill="none" stroke-linecap="round"/>
 <ellipse cx="291" cy="622" rx="8" ry="5" fill="#141414"/>
 <ellipse cx="309" cy="621" rx="8" ry="5.5" fill="#141414"/>
 <ellipse cx="314" cy="610" rx="5" ry="6" fill="#1a1a1a"/>
 <path d="M270,553 C271,548 279,548 280.5,553 L280,567 C277,570 272,569 270,565 Z" fill="#1c1c1c"/>
 <path d="M307,551 L334,559 L333,566 L306,558 Z" fill="#1e1e1e"/>
 <circle cx="294.8" cy="549.6" r="14.3" fill="url(#gGog)"/>
 <circle cx="297" cy="550" r="4.2" fill="#2a2a2a"/>
</g>
</g>

</svg>
</body></html>
